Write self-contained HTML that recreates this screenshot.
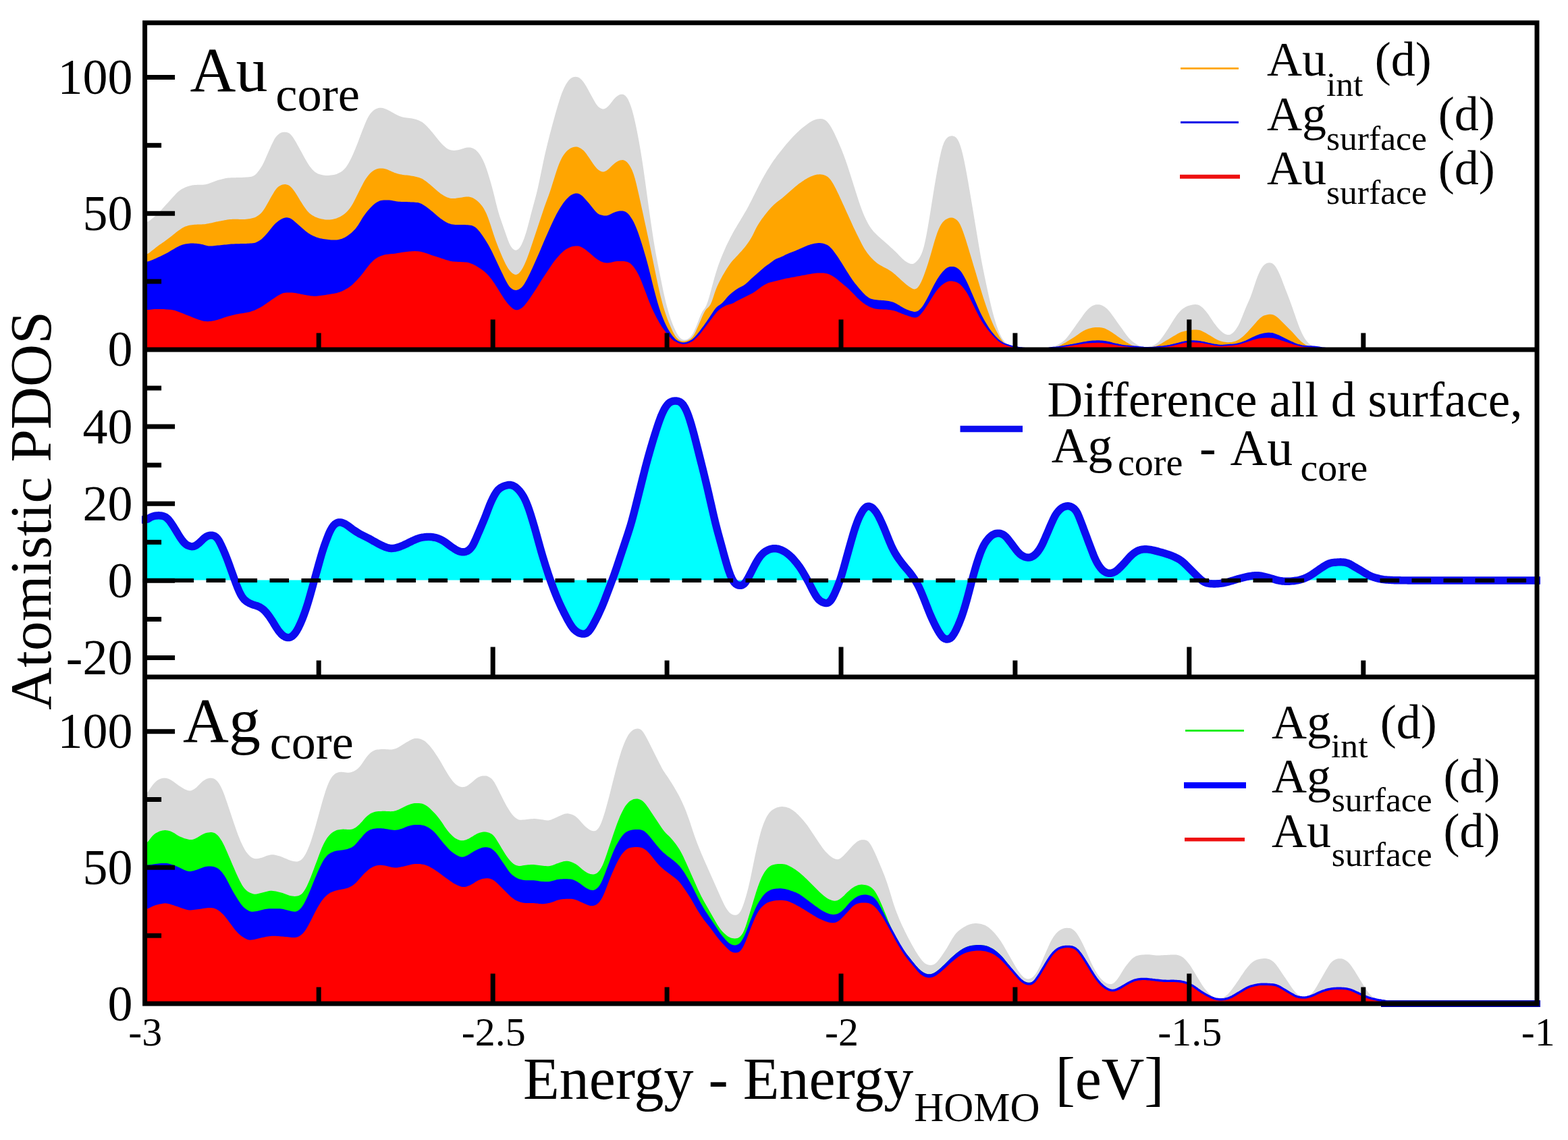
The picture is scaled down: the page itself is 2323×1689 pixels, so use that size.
<!DOCTYPE html>
<html lang="en"><head><meta charset="utf-8"><title>Atomistic PDOS</title>
<style>
html,body{margin:0;padding:0;background:#fff;}
body{width:2323px;height:1689px;}
svg{display:block;width:2323px;height:1689px;}
text{white-space:pre;}
</style></head>
<body>
<svg width="2323" height="1689" viewBox="0 0 2323 1689">
<rect width="2323" height="1689" fill="#ffffff"/>
<g id="panel1">
<path d="M214.6,517.9L214.6,329.2L216.6,329.1L218.6,328.5L220.6,327.5L222.6,326.2L224.6,324.6L226.6,323.0L228.6,321.3L230.6,319.6L232.6,317.7L234.6,315.7L236.6,313.6L238.6,311.4L240.6,309.2L242.6,307.0L244.6,304.8L246.6,302.6L248.6,300.4L250.6,298.2L252.6,296.0L254.6,293.8L256.6,291.6L258.6,289.4L260.6,287.3L262.6,285.3L264.6,283.5L266.6,282.0L268.6,280.6L270.6,279.5L272.6,278.5L274.6,277.6L276.6,276.8L278.6,276.1L280.6,275.5L282.6,275.0L284.6,274.6L286.6,274.2L288.6,274.0L290.6,273.9L292.6,273.8L294.6,273.8L296.6,273.8L298.6,273.8L300.6,273.7L302.6,273.5L304.6,273.2L306.6,272.7L308.6,272.2L310.6,271.5L312.6,270.8L314.6,270.0L316.6,269.2L318.6,268.4L320.6,267.7L322.6,267.1L324.6,266.5L326.6,265.9L328.6,265.4L330.6,264.9L332.6,264.4L334.6,264.1L336.6,263.8L338.6,263.5L340.6,263.4L342.6,263.3L344.6,263.2L346.6,263.2L348.6,263.2L350.6,263.1L352.6,263.1L354.6,263.0L356.6,263.0L358.6,262.9L360.6,262.8L362.6,262.7L364.6,262.5L366.6,262.4L368.6,262.2L370.6,262.0L372.6,261.7L374.6,261.1L376.6,260.0L378.6,258.4L380.6,256.4L382.6,254.0L384.6,251.3L386.6,248.3L388.6,244.9L390.6,241.0L392.6,236.7L394.6,232.1L396.6,227.5L398.6,222.9L400.6,218.4L402.6,214.0L404.6,209.9L406.6,206.1L408.6,203.1L410.6,200.7L412.6,198.9L414.6,197.6L416.6,196.6L418.6,196.0L420.6,195.7L422.6,195.7L424.6,195.9L426.6,196.5L428.6,197.6L430.6,199.3L432.6,201.5L434.6,204.3L436.6,207.4L438.6,210.8L440.6,214.4L442.6,218.0L444.6,221.7L446.6,225.3L448.6,229.0L450.6,232.7L452.6,236.3L454.6,239.7L456.6,243.0L458.6,245.9L460.6,248.6L462.6,250.9L464.6,253.0L466.6,254.7L468.6,256.1L470.6,257.2L472.6,258.0L474.6,258.6L476.6,259.1L478.6,259.5L480.6,259.8L482.6,259.9L484.6,259.9L486.6,259.9L488.6,259.8L490.6,259.6L492.6,259.3L494.6,259.0L496.6,258.5L498.6,257.9L500.6,257.1L502.6,256.1L504.6,255.0L506.6,253.7L508.6,252.0L510.6,250.1L512.6,247.7L514.6,244.8L516.6,241.5L518.6,237.7L520.6,233.7L522.6,229.4L524.6,224.8L526.6,220.1L528.6,215.1L530.6,209.9L532.6,204.6L534.6,199.3L536.6,194.0L538.6,188.9L540.6,183.9L542.6,179.2L544.6,174.9L546.6,171.4L548.6,168.5L550.6,166.2L552.6,164.3L554.6,162.7L556.6,161.5L558.6,160.7L560.6,160.1L562.6,159.8L564.6,159.8L566.6,160.1L568.6,160.6L570.6,161.2L572.6,162.0L574.6,162.9L576.6,163.9L578.6,165.0L580.6,166.2L582.6,167.3L584.6,168.4L586.6,169.5L588.6,170.5L590.6,171.4L592.6,172.2L594.6,173.0L596.6,173.6L598.6,174.0L600.6,174.3L602.6,174.6L604.6,174.7L606.6,174.9L608.6,175.2L610.6,175.5L612.6,175.9L614.6,176.4L616.6,177.0L618.6,177.7L620.6,178.4L622.6,179.4L624.6,180.5L626.6,181.8L628.6,183.4L630.6,185.2L632.6,187.3L634.6,189.4L636.6,191.6L638.6,193.9L640.6,196.3L642.6,198.8L644.6,201.2L646.6,203.7L648.6,206.2L650.6,208.7L652.6,211.0L654.6,213.2L656.6,215.2L658.6,217.1L660.6,218.8L662.6,220.2L664.6,221.3L666.6,222.1L668.6,222.6L670.6,222.8L672.6,222.9L674.6,222.8L676.6,222.5L678.6,222.2L680.6,221.8L682.6,221.2L684.6,220.6L686.6,219.9L688.6,219.3L690.6,218.8L692.6,218.4L694.6,218.4L696.6,218.6L698.6,219.0L700.6,219.7L702.6,220.7L704.6,222.1L706.6,223.9L708.6,226.0L710.6,228.7L712.6,231.8L714.6,235.4L716.6,239.6L718.6,244.3L720.6,249.8L722.6,255.8L724.6,262.2L726.6,269.0L728.6,276.1L730.6,283.6L732.6,291.4L734.6,299.7L736.6,307.7L738.6,315.0L740.6,321.4L742.6,327.3L744.6,333.1L746.6,338.8L748.6,344.5L750.6,350.2L752.6,355.7L754.6,360.7L756.6,364.6L758.6,367.4L760.6,369.3L762.6,370.4L764.6,370.7L766.6,370.1L768.6,368.5L770.6,365.9L772.6,362.5L774.6,358.1L776.6,353.0L778.6,347.1L780.6,340.4L782.6,333.1L784.6,325.4L786.6,317.6L788.6,309.9L790.6,302.6L792.6,295.3L794.6,287.7L796.6,279.4L798.6,270.3L800.6,260.7L802.6,250.9L804.6,241.3L806.6,232.0L808.6,223.3L810.6,215.0L812.6,206.9L814.6,199.1L816.6,191.5L818.6,184.0L820.6,176.7L822.6,169.5L824.6,162.5L826.6,155.7L828.6,149.2L830.6,143.1L832.6,137.6L834.6,132.7L836.6,128.5L838.6,124.8L840.6,121.7L842.6,119.1L844.6,117.1L846.6,115.6L848.6,114.6L850.6,114.0L852.6,113.8L854.6,113.9L856.6,114.5L858.6,115.6L860.6,117.2L862.6,119.2L864.6,121.7L866.6,124.7L868.6,128.0L870.6,131.5L872.6,135.2L874.6,138.9L876.6,142.5L878.6,146.2L880.6,149.8L882.6,153.2L884.6,156.0L886.6,158.2L888.6,159.8L890.6,160.8L892.6,161.4L894.6,161.4L896.6,160.8L898.6,159.5L900.6,157.8L902.6,155.7L904.6,153.3L906.6,150.7L908.6,148.1L910.6,145.7L912.6,143.7L914.6,142.2L916.6,140.9L918.6,140.1L920.6,139.7L922.6,139.8L924.6,140.5L926.6,142.0L928.6,144.3L930.6,147.6L932.6,151.9L934.6,157.2L936.6,163.6L938.6,171.1L940.6,179.5L942.6,188.7L944.6,198.7L946.6,209.4L948.6,220.9L950.6,233.0L952.6,246.0L954.6,259.9L956.6,274.3L958.6,289.0L960.6,303.5L962.6,317.7L964.6,331.6L966.6,345.1L968.6,358.0L970.6,369.9L972.6,380.9L974.6,391.3L976.6,401.3L978.6,411.3L980.6,421.3L982.6,430.9L984.6,440.0L986.6,448.4L988.6,456.1L990.6,463.1L992.6,469.5L994.6,475.2L996.6,480.4L998.6,485.2L1000.6,489.5L1002.6,493.4L1004.6,496.8L1006.6,499.5L1008.6,501.5L1010.6,502.8L1012.6,503.4L1014.6,503.6L1016.6,503.3L1018.6,502.5L1020.6,501.3L1022.6,499.5L1024.6,497.1L1026.6,493.9L1028.6,490.1L1030.6,485.7L1032.6,480.8L1034.6,475.5L1036.6,470.2L1038.6,465.4L1040.6,461.6L1042.6,458.7L1044.6,455.9L1046.6,452.0L1048.6,446.7L1050.6,440.2L1052.6,433.0L1054.6,425.6L1056.6,418.2L1058.6,411.0L1060.6,404.2L1062.6,397.9L1064.6,392.1L1066.6,386.7L1068.6,381.6L1070.6,376.7L1072.6,371.9L1074.6,367.4L1076.6,363.0L1078.6,358.9L1080.6,354.9L1082.6,351.0L1084.6,347.3L1086.6,343.6L1088.6,340.1L1090.6,336.7L1092.6,333.3L1094.6,330.0L1096.6,326.7L1098.6,323.3L1100.6,320.0L1102.6,316.6L1104.6,313.2L1106.6,309.7L1108.6,306.0L1110.6,302.1L1112.6,298.2L1114.6,294.2L1116.6,290.2L1118.6,286.2L1120.6,282.2L1122.6,278.2L1124.6,274.3L1126.6,270.4L1128.6,266.6L1130.6,263.0L1132.6,259.4L1134.6,256.0L1136.6,252.6L1138.6,249.4L1140.6,246.2L1142.6,243.0L1144.6,240.0L1146.6,237.1L1148.6,234.4L1150.6,231.6L1152.6,229.0L1154.6,226.4L1156.6,223.9L1158.6,221.4L1160.6,218.9L1162.6,216.5L1164.6,214.1L1166.6,211.7L1168.6,209.4L1170.6,207.2L1172.6,205.0L1174.6,202.8L1176.6,200.7L1178.6,198.7L1180.6,196.8L1182.6,194.9L1184.6,193.1L1186.6,191.3L1188.6,189.6L1190.6,188.0L1192.6,186.4L1194.6,184.9L1196.6,183.4L1198.6,182.1L1200.6,180.8L1202.6,179.6L1204.6,178.6L1206.6,177.7L1208.6,177.1L1210.6,176.6L1212.6,176.2L1214.6,176.0L1216.6,176.0L1218.6,176.3L1220.6,177.0L1222.6,178.1L1224.6,179.6L1226.6,181.7L1228.6,184.2L1230.6,187.2L1232.6,190.7L1234.6,194.5L1236.6,198.6L1238.6,202.9L1240.6,207.3L1242.6,211.8L1244.6,216.4L1246.6,221.2L1248.6,226.2L1250.6,231.4L1252.6,236.9L1254.6,242.7L1256.6,248.7L1258.6,255.0L1260.6,261.3L1262.6,267.6L1264.6,274.0L1266.6,280.3L1268.6,286.6L1270.6,292.8L1272.6,298.9L1274.6,304.7L1276.6,310.2L1278.6,315.4L1280.6,320.2L1282.6,324.6L1284.6,328.6L1286.6,332.3L1288.6,335.5L1290.6,338.5L1292.6,341.1L1294.6,343.4L1296.6,345.5L1298.6,347.5L1300.6,349.4L1302.6,351.2L1304.6,353.0L1306.6,354.8L1308.6,356.5L1310.6,358.3L1312.6,360.1L1314.6,361.8L1316.6,363.6L1318.6,365.4L1320.6,367.2L1322.6,369.0L1324.6,370.9L1326.6,372.8L1328.6,374.8L1330.6,376.8L1332.6,378.9L1334.6,380.9L1336.6,382.9L1338.6,384.7L1340.6,386.4L1342.6,387.8L1344.6,389.0L1346.6,389.9L1348.6,390.7L1350.6,391.1L1352.6,390.9L1354.6,390.1L1356.6,388.6L1358.6,386.6L1360.6,384.2L1362.6,381.2L1364.6,377.5L1366.6,372.5L1368.6,365.9L1370.6,357.6L1372.6,347.7L1374.6,336.6L1376.6,324.7L1378.6,312.4L1380.6,299.8L1382.6,287.3L1384.6,275.1L1386.6,263.4L1388.6,252.3L1390.6,241.8L1392.6,232.0L1394.6,223.3L1396.6,216.3L1398.6,210.9L1400.6,207.2L1402.6,204.7L1404.6,203.1L1406.6,202.0L1408.6,201.5L1410.6,201.3L1412.6,201.7L1414.6,202.6L1416.6,204.1L1418.6,206.5L1420.6,210.2L1422.6,215.4L1424.6,222.0L1426.6,229.9L1428.6,239.0L1430.6,249.2L1432.6,260.1L1434.6,271.3L1436.6,282.9L1438.6,294.7L1440.6,306.6L1442.6,318.6L1444.6,330.6L1446.6,342.6L1448.6,354.6L1450.6,366.5L1452.6,378.0L1454.6,389.0L1456.6,399.2L1458.6,408.9L1460.6,418.4L1462.6,427.9L1464.6,437.2L1466.6,446.1L1468.6,454.6L1470.6,462.5L1472.6,469.7L1474.6,476.4L1476.6,482.7L1478.6,488.4L1480.6,493.4L1482.6,497.6L1484.6,501.2L1486.6,504.0L1488.6,506.4L1490.6,508.3L1492.6,510.0L1494.6,511.5L1496.6,512.7L1498.6,513.6L1500.6,514.3L1502.6,514.8L1504.6,515.2L1506.6,515.5L1508.6,515.9L1510.6,516.2L1512.6,516.4L1514.6,516.7L1516.6,516.9L1518.6,517.1L1520.6,517.2L1522.6,517.3L1524.6,517.4L1526.6,517.4L1528.6,517.4L1530.6,517.4L1532.6,517.4L1534.6,517.3L1536.6,517.2L1538.6,517.1L1540.6,516.9L1542.6,516.7L1544.6,516.5L1546.6,516.2L1548.6,515.9L1550.6,515.6L1552.6,515.2L1554.6,514.8L1556.6,514.4L1558.6,513.9L1560.6,513.4L1562.6,512.7L1564.6,511.9L1566.6,511.0L1568.6,510.0L1570.6,508.8L1572.6,507.5L1574.6,506.0L1576.6,504.4L1578.6,502.4L1580.6,500.2L1582.6,497.7L1584.6,495.0L1586.6,492.3L1588.6,489.5L1590.6,486.7L1592.6,483.9L1594.6,481.1L1596.6,478.3L1598.6,475.5L1600.6,472.7L1602.6,469.9L1604.6,467.1L1606.6,464.3L1608.6,461.8L1610.6,459.4L1612.6,457.4L1614.6,455.7L1616.6,454.3L1618.6,453.1L1620.6,452.2L1622.6,451.6L1624.6,451.2L1626.6,451.2L1628.6,451.3L1630.6,451.7L1632.6,452.4L1634.6,453.5L1636.6,454.7L1638.6,456.3L1640.6,458.1L1642.6,460.2L1644.6,462.6L1646.6,465.3L1648.6,468.0L1650.6,470.8L1652.6,473.6L1654.6,476.4L1656.6,479.2L1658.6,482.0L1660.6,484.8L1662.6,487.6L1664.6,490.4L1666.6,493.2L1668.6,496.0L1670.6,498.6L1672.6,501.0L1674.6,503.1L1676.6,504.9L1678.6,506.5L1680.6,507.9L1682.6,509.2L1684.6,510.4L1686.6,511.5L1688.6,512.4L1690.6,513.1L1692.6,513.7L1694.6,514.0L1696.6,514.2L1698.6,514.2L1700.6,514.0L1702.6,513.6L1704.6,513.1L1706.6,512.4L1708.6,511.7L1710.6,510.7L1712.6,509.6L1714.6,508.1L1716.6,506.2L1718.6,504.0L1720.6,501.5L1722.6,498.8L1724.6,496.0L1726.6,493.1L1728.6,490.1L1730.6,487.0L1732.6,483.8L1734.6,480.6L1736.6,477.3L1738.6,474.1L1740.6,471.0L1742.6,468.0L1744.6,465.3L1746.6,462.9L1748.6,460.7L1750.6,458.8L1752.6,457.2L1754.6,455.9L1756.6,454.8L1758.6,453.8L1760.6,453.1L1762.6,452.4L1764.6,451.9L1766.6,451.5L1768.6,451.2L1770.6,451.1L1772.6,451.2L1774.6,451.6L1776.6,452.3L1778.6,453.5L1780.6,455.0L1782.6,456.8L1784.6,458.9L1786.6,461.2L1788.6,463.8L1790.6,466.5L1792.6,469.4L1794.6,472.4L1796.6,475.4L1798.6,478.4L1800.6,481.1L1802.6,483.7L1804.6,486.1L1806.6,488.3L1808.6,490.3L1810.6,492.1L1812.6,493.6L1814.6,494.8L1816.6,495.6L1818.6,496.1L1820.6,496.1L1822.6,495.7L1824.6,494.6L1826.6,493.0L1828.6,490.9L1830.6,488.4L1832.6,485.5L1834.6,482.2L1836.6,478.3L1838.6,473.6L1840.6,468.6L1842.6,463.4L1844.6,458.4L1846.6,453.7L1848.6,449.2L1850.6,444.8L1852.6,439.9L1854.6,434.4L1856.6,428.6L1858.6,422.5L1860.6,416.5L1862.6,410.9L1864.6,405.9L1866.6,401.7L1868.6,398.1L1870.6,395.1L1872.6,392.8L1874.6,391.2L1876.6,390.1L1878.6,389.5L1880.6,389.2L1882.6,389.4L1884.6,390.0L1886.6,391.4L1888.6,393.4L1890.6,396.3L1892.6,399.8L1894.6,403.8L1896.6,408.2L1898.6,413.1L1900.6,418.4L1902.6,423.8L1904.6,429.0L1906.6,434.1L1908.6,439.2L1910.6,444.5L1912.6,450.0L1914.6,455.6L1916.6,461.4L1918.6,467.1L1920.6,472.9L1922.6,478.6L1924.6,483.9L1926.6,488.8L1928.6,493.3L1930.6,497.3L1932.6,500.8L1934.6,503.8L1936.6,506.3L1938.6,508.4L1940.6,510.1L1942.6,511.4L1944.6,512.5L1946.6,513.3L1948.6,513.9L1950.6,514.3L1952.6,514.7L1954.6,514.9L1956.6,515.2L1958.6,515.4L1960.6,515.7L1962.6,515.9L1964.6,516.2L1966.6,516.4L1968.6,516.6L1970.6,516.9L1972.6,517.1L1974.6,517.3L1976.6,517.5L1978.6,517.8L1980.6,517.9L1982.6,517.9L1984.6,517.9L1986.6,517.9L1988.6,517.9L1990.6,517.9L1992.6,517.9L1994.6,517.9L1996.6,517.9L1998.6,517.9L2000.6,517.9L2002.6,517.9L2004.6,517.9L2006.6,517.9L2008.6,517.9L2010.6,517.9L2012.6,517.9L2014.6,517.9L2016.6,517.9L2018.6,517.9L2020.6,517.9L2022.6,517.9L2024.6,517.9L2026.6,517.9L2028.6,517.9L2030.6,517.9L2032.6,517.9L2034.6,517.9L2036.6,517.9L2038.6,517.9L2040.6,517.9L2042.6,517.9L2044.6,517.9L2046.6,517.9L2048.6,517.9L2050.6,517.9L2052.6,517.9L2054.6,517.9L2056.6,517.9L2058.6,517.9L2060.6,517.9L2062.6,517.9L2064.6,517.9L2066.6,517.9L2068.6,517.9L2070.6,517.9L2072.6,517.9L2074.6,517.9L2076.6,517.9L2078.6,517.9L2080.6,517.9L2082.6,517.9L2084.6,517.9L2086.6,517.9L2088.6,517.9L2090.6,517.9L2092.6,517.9L2094.6,517.9L2096.6,517.9L2098.6,517.9L2100.6,517.9L2102.6,517.9L2104.6,517.9L2106.6,517.9L2108.6,517.9L2110.6,517.9L2112.6,517.9L2114.6,517.9L2116.6,517.9L2118.6,517.9L2120.6,517.9L2122.6,517.9L2124.6,517.9L2126.6,517.9L2128.6,517.9L2130.6,517.9L2132.6,517.9L2134.6,517.9L2136.6,517.9L2138.6,517.9L2140.6,517.9L2142.6,517.9L2144.6,517.9L2146.6,517.9L2148.6,517.9L2150.6,517.9L2152.6,517.9L2154.6,517.9L2156.6,517.9L2158.6,517.9L2160.6,517.9L2162.6,517.9L2164.6,517.9L2166.6,517.9L2168.6,517.9L2170.6,517.9L2172.6,517.9L2174.6,517.9L2176.6,517.9L2178.6,517.9L2180.6,517.9L2182.6,517.9L2184.6,517.9L2186.6,517.9L2188.6,517.9L2190.6,517.9L2192.6,517.9L2194.6,517.9L2196.6,517.9L2198.6,517.9L2200.6,517.9L2202.6,517.9L2204.6,517.9L2206.6,517.9L2208.6,517.9L2210.6,517.9L2212.6,517.9L2214.6,517.9L2216.6,517.9L2218.6,517.9L2220.6,517.9L2222.6,517.9L2224.6,517.9L2226.6,517.9L2228.6,517.9L2230.6,517.9L2232.6,517.9L2234.6,517.9L2236.6,517.9L2238.6,517.9L2240.6,517.9L2242.6,517.9L2244.6,517.9L2246.6,517.9L2248.6,517.9L2250.6,517.9L2252.6,517.9L2254.6,517.9L2256.6,517.9L2258.6,517.9L2260.6,517.9L2262.6,517.9L2264.6,517.9L2266.6,517.9L2268.6,517.9L2270.6,517.9L2272.6,517.9L2274.6,517.9L2276.6,517.9L2276.6,517.9Z" fill="#d9d9d9"/>
<path d="M214.6,517.9L214.6,376.7L216.6,376.5L218.6,376.0L220.6,374.9L222.6,373.4L224.6,371.8L226.6,370.2L228.6,368.7L230.6,367.1L232.6,365.6L234.6,364.1L236.6,362.6L238.6,361.2L240.6,359.8L242.6,358.4L244.6,357.0L246.6,355.6L248.6,354.1L250.6,352.6L252.6,351.0L254.6,349.4L256.6,347.8L258.6,346.2L260.6,344.6L262.6,343.1L264.6,341.6L266.6,340.2L268.6,338.8L270.6,337.6L272.6,336.6L274.6,335.6L276.6,334.9L278.6,334.3L280.6,333.8L282.6,333.5L284.6,333.2L286.6,333.0L288.6,332.8L290.6,332.7L292.6,332.6L294.6,332.6L296.6,332.5L298.6,332.5L300.6,332.3L302.6,332.2L304.6,331.9L306.6,331.6L308.6,331.2L310.6,330.8L312.6,330.4L314.6,329.9L316.6,329.5L318.6,329.0L320.6,328.6L322.6,328.2L324.6,327.8L326.6,327.4L328.6,327.0L330.6,326.7L332.6,326.3L334.6,326.0L336.6,325.6L338.6,325.3L340.6,325.1L342.6,324.9L344.6,324.8L346.6,324.7L348.6,324.7L350.6,324.8L352.6,324.8L354.6,324.9L356.6,325.0L358.6,325.0L360.6,325.0L362.6,324.9L364.6,324.7L366.6,324.5L368.6,324.3L370.6,324.0L372.6,323.6L374.6,323.1L376.6,322.5L378.6,321.7L380.6,320.6L382.6,319.3L384.6,317.8L386.6,315.9L388.6,313.7L390.6,311.1L392.6,308.0L394.6,304.6L396.6,301.1L398.6,297.4L400.6,293.8L402.6,290.3L404.6,286.9L406.6,283.6L408.6,280.8L410.6,278.3L412.6,276.5L414.6,275.2L416.6,274.2L418.6,273.5L420.6,273.2L422.6,273.1L424.6,273.4L426.6,274.1L428.6,275.1L430.6,276.7L432.6,278.8L434.6,281.2L436.6,284.0L438.6,287.1L440.6,290.3L442.6,293.6L444.6,296.9L446.6,300.1L448.6,303.3L450.6,306.3L452.6,309.1L454.6,311.7L456.6,314.0L458.6,315.9L460.6,317.5L462.6,318.9L464.6,320.1L466.6,321.2L468.6,322.0L470.6,322.8L472.6,323.4L474.6,324.0L476.6,324.5L478.6,324.8L480.6,325.2L482.6,325.4L484.6,325.5L486.6,325.5L488.6,325.4L490.6,325.2L492.6,324.9L494.6,324.5L496.6,324.0L498.6,323.4L500.6,322.6L502.6,321.7L504.6,320.7L506.6,319.5L508.6,318.2L510.6,316.7L512.6,315.0L514.6,313.1L516.6,310.8L518.6,308.3L520.6,305.3L522.6,301.9L524.6,298.2L526.6,294.3L528.6,290.3L530.6,286.3L532.6,282.3L534.6,278.3L536.6,274.4L538.6,270.5L540.6,267.0L542.6,263.9L544.6,261.2L546.6,258.7L548.6,256.6L550.6,254.8L552.6,253.3L554.6,252.0L556.6,251.0L558.6,250.3L560.6,249.7L562.6,249.5L564.6,249.4L566.6,249.5L568.6,249.8L570.6,250.2L572.6,250.8L574.6,251.5L576.6,252.4L578.6,253.3L580.6,254.2L582.6,255.1L584.6,255.9L586.6,256.6L588.6,257.2L590.6,257.8L592.6,258.2L594.6,258.6L596.6,258.9L598.6,259.2L600.6,259.4L602.6,259.6L604.6,259.8L606.6,260.1L608.6,260.4L610.6,260.7L612.6,261.1L614.6,261.5L616.6,261.9L618.6,262.4L620.6,263.0L622.6,263.7L624.6,264.5L626.6,265.6L628.6,266.9L630.6,268.3L632.6,269.8L634.6,271.4L636.6,273.1L638.6,274.7L640.6,276.4L642.6,278.2L644.6,279.9L646.6,281.7L648.6,283.4L650.6,285.1L652.6,286.7L654.6,288.1L656.6,289.3L658.6,290.5L660.6,291.5L662.6,292.4L664.6,293.1L666.6,293.7L668.6,294.0L670.6,294.1L672.6,294.0L674.6,293.9L676.6,293.6L678.6,293.3L680.6,293.0L682.6,292.7L684.6,292.4L686.6,292.0L688.6,291.7L690.6,291.4L692.6,291.4L694.6,291.5L696.6,291.9L698.6,292.5L700.6,293.3L702.6,294.4L704.6,295.8L706.6,297.3L708.6,299.0L710.6,301.0L712.6,303.2L714.6,305.8L716.6,308.8L718.6,312.4L720.6,316.6L722.6,321.4L724.6,326.9L726.6,332.7L728.6,338.9L730.6,345.2L732.6,351.3L734.6,357.0L736.6,362.3L738.6,367.4L740.6,372.3L742.6,377.1L744.6,381.7L746.6,386.1L748.6,390.2L750.6,394.0L752.6,397.4L754.6,400.2L756.6,402.6L758.6,404.4L760.6,405.8L762.6,406.7L764.6,406.9L766.6,406.3L768.6,404.9L770.6,402.8L772.6,400.1L774.6,396.8L776.6,392.8L778.6,388.3L780.6,383.4L782.6,378.1L784.6,372.4L786.6,366.5L788.6,360.5L790.6,354.5L792.6,348.5L794.6,342.5L796.6,336.5L798.6,330.5L800.6,324.5L802.6,318.5L804.6,312.5L806.6,306.6L808.6,301.0L810.6,295.6L812.6,290.2L814.6,284.5L816.6,278.5L818.6,272.1L820.6,265.7L822.6,259.3L824.6,253.1L826.6,247.2L828.6,242.0L830.6,237.4L832.6,233.5L834.6,230.2L836.6,227.4L838.6,225.1L840.6,223.0L842.6,221.4L844.6,220.0L846.6,218.9L848.6,218.2L850.6,217.7L852.6,217.5L854.6,217.6L856.6,218.1L858.6,218.9L860.6,220.0L862.6,221.4L864.6,223.1L866.6,225.3L868.6,227.8L870.6,230.7L872.6,233.6L874.6,236.6L876.6,239.5L878.6,242.4L880.6,245.2L882.6,247.7L884.6,249.9L886.6,251.7L888.6,253.1L890.6,254.0L892.6,254.6L894.6,254.5L896.6,253.8L898.6,252.7L900.6,251.2L902.6,249.5L904.6,247.6L906.6,245.6L908.6,243.7L910.6,241.9L912.6,240.4L914.6,239.2L916.6,238.3L918.6,237.6L920.6,237.2L922.6,237.1L924.6,237.5L926.6,238.4L928.6,240.0L930.6,242.3L932.6,245.1L934.6,248.5L936.6,252.6L938.6,257.8L940.6,264.3L942.6,272.0L944.6,280.4L946.6,289.2L948.6,298.3L950.6,307.5L952.6,316.6L954.6,325.9L956.6,335.1L958.6,344.4L960.6,353.7L962.6,363.1L964.6,372.7L966.6,382.4L968.6,392.2L970.6,402.1L972.6,411.8L974.6,421.2L976.6,430.2L978.6,438.7L980.6,446.6L982.6,453.9L984.6,460.6L986.6,466.6L988.6,472.2L990.6,477.3L992.6,482.1L994.6,486.6L996.6,490.9L998.6,494.7L1000.6,497.9L1002.6,500.6L1004.6,502.6L1006.6,504.0L1008.6,504.9L1010.6,505.4L1012.6,505.5L1014.6,505.4L1016.6,505.0L1018.6,504.4L1020.6,503.6L1022.6,502.5L1024.6,500.8L1026.6,498.5L1028.6,495.3L1030.6,491.4L1032.6,487.0L1034.6,482.5L1036.6,477.8L1038.6,473.2L1040.6,468.6L1042.6,464.2L1044.6,460.5L1046.6,457.8L1048.6,455.9L1050.6,454.0L1052.6,451.1L1054.6,446.5L1056.6,440.7L1058.6,434.5L1060.6,429.0L1062.6,424.1L1064.6,419.7L1066.6,415.7L1068.6,411.9L1070.6,408.3L1072.6,404.9L1074.6,401.6L1076.6,398.3L1078.6,395.2L1080.6,392.2L1082.6,389.5L1084.6,387.0L1086.6,384.8L1088.6,382.7L1090.6,380.6L1092.6,378.5L1094.6,376.3L1096.6,374.1L1098.6,371.9L1100.6,369.6L1102.6,367.2L1104.6,364.8L1106.6,362.1L1108.6,359.3L1110.6,356.3L1112.6,353.0L1114.6,349.5L1116.6,345.5L1118.6,341.3L1120.6,337.3L1122.6,333.7L1124.6,330.4L1126.6,327.4L1128.6,324.6L1130.6,321.9L1132.6,319.2L1134.6,316.7L1136.6,314.2L1138.6,311.8L1140.6,309.5L1142.6,307.3L1144.6,305.2L1146.6,303.3L1148.6,301.4L1150.6,299.8L1152.6,298.2L1154.6,296.7L1156.6,295.2L1158.6,293.7L1160.6,292.0L1162.6,290.3L1164.6,288.6L1166.6,286.8L1168.6,285.1L1170.6,283.3L1172.6,281.6L1174.6,279.8L1176.6,278.1L1178.6,276.3L1180.6,274.7L1182.6,273.1L1184.6,271.6L1186.6,270.2L1188.6,268.8L1190.6,267.4L1192.6,266.1L1194.6,264.9L1196.6,263.7L1198.6,262.7L1200.6,261.7L1202.6,260.9L1204.6,260.2L1206.6,259.5L1208.6,259.0L1210.6,258.6L1212.6,258.4L1214.6,258.3L1216.6,258.4L1218.6,258.7L1220.6,259.2L1222.6,259.9L1224.6,261.0L1226.6,262.3L1228.6,264.2L1230.6,266.6L1232.6,269.5L1234.6,272.8L1236.6,276.4L1238.6,280.3L1240.6,284.4L1242.6,288.6L1244.6,292.9L1246.6,297.3L1248.6,301.7L1250.6,306.1L1252.6,310.5L1254.6,314.9L1256.6,319.3L1258.6,323.7L1260.6,328.1L1262.6,332.5L1264.6,336.9L1266.6,341.1L1268.6,345.2L1270.6,349.3L1272.6,353.2L1274.6,357.2L1276.6,361.2L1278.6,365.0L1280.6,368.5L1282.6,371.6L1284.6,374.5L1286.6,377.1L1288.6,379.5L1290.6,381.7L1292.6,383.8L1294.6,385.8L1296.6,387.6L1298.6,389.2L1300.6,390.7L1302.6,392.0L1304.6,393.2L1306.6,394.3L1308.6,395.4L1310.6,396.4L1312.6,397.5L1314.6,398.6L1316.6,399.7L1318.6,400.9L1320.6,402.3L1322.6,403.7L1324.6,405.4L1326.6,407.1L1328.6,408.9L1330.6,410.8L1332.6,412.6L1334.6,414.5L1336.6,416.3L1338.6,418.1L1340.6,419.8L1342.6,421.4L1344.6,422.9L1346.6,424.4L1348.6,425.7L1350.6,426.9L1352.6,427.9L1354.6,428.4L1356.6,428.1L1358.6,426.9L1360.6,424.7L1362.6,421.7L1364.6,417.9L1366.6,413.4L1368.6,408.5L1370.6,403.1L1372.6,397.3L1374.6,391.2L1376.6,384.7L1378.6,377.9L1380.6,370.9L1382.6,363.9L1384.6,357.1L1386.6,350.7L1388.6,344.8L1390.6,339.7L1392.6,335.4L1394.6,332.0L1396.6,329.3L1398.6,327.3L1400.6,325.6L1402.6,324.4L1404.6,323.4L1406.6,322.8L1408.6,322.5L1410.6,322.6L1412.6,323.0L1414.6,323.9L1416.6,325.2L1418.6,327.0L1420.6,329.6L1422.6,333.1L1424.6,337.6L1426.6,342.7L1428.6,348.5L1430.6,354.6L1432.6,361.0L1434.6,367.5L1436.6,374.2L1438.6,380.8L1440.6,387.5L1442.6,394.2L1444.6,400.8L1446.6,407.5L1448.6,414.2L1450.6,420.8L1452.6,427.5L1454.6,434.0L1456.6,440.4L1458.6,446.5L1460.6,452.5L1462.6,458.2L1464.6,463.8L1466.6,469.2L1468.6,474.3L1470.6,479.1L1472.6,483.4L1474.6,487.4L1476.6,491.3L1478.6,494.9L1480.6,498.5L1482.6,501.7L1484.6,504.6L1486.6,507.1L1488.6,509.1L1490.6,510.7L1492.6,511.8L1494.6,512.7L1496.6,513.4L1498.6,513.9L1500.6,514.3L1502.6,514.8L1504.6,515.2L1506.6,515.5L1508.6,515.9L1510.6,516.2L1512.6,516.4L1514.6,516.7L1516.6,516.9L1518.6,517.1L1520.6,517.2L1522.6,517.3L1524.6,517.4L1526.6,517.4L1528.6,517.4L1530.6,517.6L1532.6,517.7L1534.6,517.8L1536.6,517.9L1538.6,517.9L1540.6,517.9L1542.6,517.9L1544.6,517.9L1546.6,517.8L1548.6,517.6L1550.6,517.4L1552.6,517.2L1554.6,516.8L1556.6,516.5L1558.6,516.0L1560.6,515.5L1562.6,515.0L1564.6,514.3L1566.6,513.6L1568.6,512.7L1570.6,511.8L1572.6,510.7L1574.6,509.6L1576.6,508.5L1578.6,507.4L1580.6,506.2L1582.6,505.0L1584.6,503.8L1586.6,502.6L1588.6,501.3L1590.6,500.1L1592.6,498.7L1594.6,497.3L1596.6,495.9L1598.6,494.5L1600.6,493.1L1602.6,491.8L1604.6,490.6L1606.6,489.5L1608.6,488.6L1610.6,487.8L1612.6,487.0L1614.6,486.4L1616.6,485.9L1618.6,485.6L1620.6,485.3L1622.6,485.1L1624.6,485.1L1626.6,485.0L1628.6,485.1L1630.6,485.2L1632.6,485.4L1634.6,485.9L1636.6,486.5L1638.6,487.4L1640.6,488.4L1642.6,489.5L1644.6,490.8L1646.6,492.0L1648.6,493.3L1650.6,494.7L1652.6,496.1L1654.6,497.5L1656.6,498.9L1658.6,500.3L1660.6,501.7L1662.6,503.0L1664.6,504.4L1666.6,505.6L1668.6,506.9L1670.6,508.0L1672.6,509.2L1674.6,510.2L1676.6,511.2L1678.6,512.0L1680.6,512.7L1682.6,513.2L1684.6,513.7L1686.6,514.1L1688.6,514.4L1690.6,514.7L1692.6,514.9L1694.6,515.1L1696.6,515.2L1698.6,515.2L1700.6,515.2L1702.6,515.0L1704.6,514.7L1706.6,514.4L1708.6,513.9L1710.6,513.3L1712.6,512.7L1714.6,511.9L1716.6,511.0L1718.6,510.0L1720.6,508.9L1722.6,507.7L1724.6,506.5L1726.6,505.3L1728.6,504.1L1730.6,502.9L1732.6,501.7L1734.6,500.5L1736.6,499.3L1738.6,498.1L1740.6,496.9L1742.6,495.7L1744.6,494.6L1746.6,493.5L1748.6,492.6L1750.6,491.8L1752.6,491.2L1754.6,490.7L1756.6,490.2L1758.6,489.8L1760.6,489.4L1762.6,489.1L1764.6,488.9L1766.6,488.7L1768.6,488.6L1770.6,488.5L1772.6,488.6L1774.6,488.7L1776.6,489.0L1778.6,489.6L1780.6,490.4L1782.6,491.4L1784.6,492.4L1786.6,493.6L1788.6,494.7L1790.6,495.9L1792.6,497.1L1794.6,498.3L1796.6,499.5L1798.6,500.7L1800.6,501.9L1802.6,503.0L1804.6,504.0L1806.6,504.8L1808.6,505.5L1810.6,506.0L1812.6,506.5L1814.6,506.8L1816.6,507.0L1818.6,507.2L1820.6,507.2L1822.6,507.1L1824.6,506.9L1826.6,506.6L1828.6,506.1L1830.6,505.4L1832.6,504.6L1834.6,503.5L1836.6,502.3L1838.6,500.8L1840.6,499.2L1842.6,497.4L1844.6,495.5L1846.6,493.5L1848.6,491.4L1850.6,489.2L1852.6,487.0L1854.6,484.7L1856.6,482.5L1858.6,480.2L1860.6,477.9L1862.6,475.6L1864.6,473.5L1866.6,471.6L1868.6,470.0L1870.6,468.6L1872.6,467.6L1874.6,466.9L1876.6,466.4L1878.6,466.0L1880.6,465.8L1882.6,465.8L1884.6,466.0L1886.6,466.6L1888.6,467.6L1890.6,468.8L1892.6,470.3L1894.6,472.0L1896.6,473.9L1898.6,475.9L1900.6,477.9L1902.6,479.9L1904.6,481.9L1906.6,483.9L1908.6,485.9L1910.6,487.9L1912.6,489.9L1914.6,492.0L1916.6,494.2L1918.6,496.5L1920.6,498.7L1922.6,500.9L1924.6,502.9L1926.6,504.9L1928.6,506.7L1930.6,508.3L1932.6,509.7L1934.6,510.9L1936.6,511.9L1938.6,512.8L1940.6,513.4L1942.6,514.0L1944.6,514.3L1946.6,514.7L1948.6,515.0L1950.6,515.2L1952.6,515.5L1954.6,515.8L1956.6,516.1L1958.6,516.4L1960.6,516.6L1962.6,516.9L1964.6,517.2L1966.6,517.4L1968.6,517.7L1970.6,517.9L1972.6,517.9L1974.6,517.9L1976.6,517.9L1978.6,517.9L1980.6,517.9L1982.6,517.9L1984.6,517.9L1986.6,517.9L1988.6,517.9L1990.6,517.9L1992.6,517.9L1994.6,517.9L1996.6,517.9L1998.6,517.9L2000.6,517.9L2002.6,517.9L2004.6,517.9L2006.6,517.9L2008.6,517.9L2010.6,517.9L2012.6,517.9L2014.6,517.9L2016.6,517.9L2018.6,517.9L2020.6,517.9L2022.6,517.9L2024.6,517.9L2026.6,517.9L2028.6,517.9L2030.6,517.9L2032.6,517.9L2034.6,517.9L2036.6,517.9L2038.6,517.9L2040.6,517.9L2042.6,517.9L2044.6,517.9L2046.6,517.9L2048.6,517.9L2050.6,517.9L2052.6,517.9L2054.6,517.9L2056.6,517.9L2058.6,517.9L2060.6,517.9L2062.6,517.9L2064.6,517.9L2066.6,517.9L2068.6,517.9L2070.6,517.9L2072.6,517.9L2074.6,517.9L2076.6,517.9L2078.6,517.9L2080.6,517.9L2082.6,517.9L2084.6,517.9L2086.6,517.9L2088.6,517.9L2090.6,517.9L2092.6,517.9L2094.6,517.9L2096.6,517.9L2098.6,517.9L2100.6,517.9L2102.6,517.9L2104.6,517.9L2106.6,517.9L2108.6,517.9L2110.6,517.9L2112.6,517.9L2114.6,517.9L2116.6,517.9L2118.6,517.9L2120.6,517.9L2122.6,517.9L2124.6,517.9L2126.6,517.9L2128.6,517.9L2130.6,517.9L2132.6,517.9L2134.6,517.9L2136.6,517.9L2138.6,517.9L2140.6,517.9L2142.6,517.9L2144.6,517.9L2146.6,517.9L2148.6,517.9L2150.6,517.9L2152.6,517.9L2154.6,517.9L2156.6,517.9L2158.6,517.9L2160.6,517.9L2162.6,517.9L2164.6,517.9L2166.6,517.9L2168.6,517.9L2170.6,517.9L2172.6,517.9L2174.6,517.9L2176.6,517.9L2178.6,517.9L2180.6,517.9L2182.6,517.9L2184.6,517.9L2186.6,517.9L2188.6,517.9L2190.6,517.9L2192.6,517.9L2194.6,517.9L2196.6,517.9L2198.6,517.9L2200.6,517.9L2202.6,517.9L2204.6,517.9L2206.6,517.9L2208.6,517.9L2210.6,517.9L2212.6,517.9L2214.6,517.9L2216.6,517.9L2218.6,517.9L2220.6,517.9L2222.6,517.9L2224.6,517.9L2226.6,517.9L2228.6,517.9L2230.6,517.9L2232.6,517.9L2234.6,517.9L2236.6,517.9L2238.6,517.9L2240.6,517.9L2242.6,517.9L2244.6,517.9L2246.6,517.9L2248.6,517.9L2250.6,517.9L2252.6,517.9L2254.6,517.9L2256.6,517.9L2258.6,517.9L2260.6,517.9L2262.6,517.9L2264.6,517.9L2266.6,517.9L2268.6,517.9L2270.6,517.9L2272.6,517.9L2274.6,517.9L2276.6,517.9L2276.6,517.9Z" fill="#ffa500"/>
<path d="M214.6,517.9L214.6,388.0L216.6,387.9L218.6,387.6L220.6,387.1L222.6,386.3L224.6,385.5L226.6,384.7L228.6,383.8L230.6,382.9L232.6,382.0L234.6,381.1L236.6,380.2L238.6,379.3L240.6,378.3L242.6,377.3L244.6,376.3L246.6,375.2L248.6,374.2L250.6,373.0L252.6,371.8L254.6,370.6L256.6,369.4L258.6,368.2L260.6,367.0L262.6,366.0L264.6,365.0L266.6,364.1L268.6,363.3L270.6,362.6L272.6,362.1L274.6,361.6L276.6,361.2L278.6,360.9L280.6,360.7L282.6,360.6L284.6,360.5L286.6,360.6L288.6,360.7L290.6,360.8L292.6,361.0L294.6,361.2L296.6,361.5L298.6,361.9L300.6,362.3L302.6,362.9L304.6,363.5L306.6,364.1L308.6,364.5L310.6,364.6L312.6,364.5L314.6,364.4L316.6,364.2L318.6,364.0L320.6,363.8L322.6,363.6L324.6,363.4L326.6,363.2L328.6,363.0L330.6,362.8L332.6,362.6L334.6,362.4L336.6,362.2L338.6,362.0L340.6,361.8L342.6,361.6L344.6,361.5L346.6,361.4L348.6,361.3L350.6,361.2L352.6,361.2L354.6,361.2L356.6,361.1L358.6,361.1L360.6,361.0L362.6,360.9L364.6,360.9L366.6,360.8L368.6,360.7L370.6,360.6L372.6,360.5L374.6,360.3L376.6,359.9L378.6,359.4L380.6,358.6L382.6,357.6L384.6,356.3L386.6,354.9L388.6,353.2L390.6,351.3L392.6,349.2L394.6,347.0L396.6,344.7L398.6,342.2L400.6,339.7L402.6,337.2L404.6,334.8L406.6,332.6L408.6,330.6L410.6,328.9L412.6,327.3L414.6,326.0L416.6,324.8L418.6,323.7L420.6,322.9L422.6,322.4L424.6,322.2L426.6,322.4L428.6,322.9L430.6,323.8L432.6,325.0L434.6,326.5L436.6,328.2L438.6,330.0L440.6,331.7L442.6,333.5L444.6,335.2L446.6,337.0L448.6,338.7L450.6,340.5L452.6,342.2L454.6,343.8L456.6,345.3L458.6,346.6L460.6,347.7L462.6,348.8L464.6,349.7L466.6,350.6L468.6,351.4L470.6,352.1L472.6,352.7L474.6,353.2L476.6,353.6L478.6,354.0L480.6,354.3L482.6,354.6L484.6,354.8L486.6,355.0L488.6,355.2L490.6,355.4L492.6,355.4L494.6,355.5L496.6,355.5L498.6,355.4L500.6,355.2L502.6,354.8L504.6,354.3L506.6,353.7L508.6,352.8L510.6,351.9L512.6,350.8L514.6,349.5L516.6,348.1L518.6,346.6L520.6,345.0L522.6,343.1L524.6,341.1L526.6,338.9L528.6,336.3L530.6,333.4L532.6,330.2L534.6,326.9L536.6,323.6L538.6,320.6L540.6,317.7L542.6,315.1L544.6,312.6L546.6,310.2L548.6,308.0L550.6,305.9L552.6,303.9L554.6,302.2L556.6,300.7L558.6,299.4L560.6,298.4L562.6,297.6L564.6,297.1L566.6,296.8L568.6,296.6L570.6,296.5L572.6,296.5L574.6,296.5L576.6,296.6L578.6,296.8L580.6,297.1L582.6,297.4L584.6,297.8L586.6,298.2L588.6,298.4L590.6,298.7L592.6,298.8L594.6,298.9L596.6,299.0L598.6,299.0L600.6,299.1L602.6,299.1L604.6,299.2L606.6,299.3L608.6,299.4L610.6,299.5L612.6,299.6L614.6,299.7L616.6,299.9L618.6,300.1L620.6,300.6L622.6,301.2L624.6,302.1L626.6,303.2L628.6,304.4L630.6,305.7L632.6,307.2L634.6,308.7L636.6,310.2L638.6,311.9L640.6,313.6L642.6,315.3L644.6,317.1L646.6,318.8L648.6,320.5L650.6,322.1L652.6,323.7L654.6,325.1L656.6,326.5L658.6,327.8L660.6,328.9L662.6,330.0L664.6,330.9L666.6,331.6L668.6,332.2L670.6,332.6L672.6,332.8L674.6,333.0L676.6,333.0L678.6,333.0L680.6,333.0L682.6,333.0L684.6,333.0L686.6,333.0L688.6,333.1L690.6,333.2L692.6,333.3L694.6,333.4L696.6,333.7L698.6,334.1L700.6,334.7L702.6,335.7L704.6,337.1L706.6,338.8L708.6,340.9L710.6,343.3L712.6,345.9L714.6,348.7L716.6,351.7L718.6,354.8L720.6,358.0L722.6,361.3L724.6,364.7L726.6,368.4L728.6,372.3L730.6,376.5L732.6,380.7L734.6,384.9L736.6,389.2L738.6,393.4L740.6,397.7L742.6,401.9L744.6,406.1L746.6,410.3L748.6,414.3L750.6,418.1L752.6,421.5L754.6,424.4L756.6,426.5L758.6,428.1L760.6,429.2L762.6,429.8L764.6,429.9L766.6,429.6L768.6,428.8L770.6,427.6L772.6,425.9L774.6,423.7L776.6,420.9L778.6,417.6L780.6,413.9L782.6,410.0L784.6,405.9L786.6,401.7L788.6,397.4L790.6,393.0L792.6,388.5L794.6,384.1L796.6,379.5L798.6,374.9L800.6,370.2L802.6,365.5L804.6,360.7L806.6,356.0L808.6,351.4L810.6,346.9L812.6,342.4L814.6,338.0L816.6,333.6L818.6,329.3L820.6,325.1L822.6,321.0L824.6,317.1L826.6,313.5L828.6,310.0L830.6,306.8L832.6,303.7L834.6,300.8L836.6,298.2L838.6,295.8L840.6,293.7L842.6,291.7L844.6,290.1L846.6,288.7L848.6,287.7L850.6,286.9L852.6,286.5L854.6,286.4L856.6,286.8L858.6,287.5L860.6,288.7L862.6,290.3L864.6,292.3L866.6,294.5L868.6,296.7L870.6,299.0L872.6,301.3L874.6,303.8L876.6,306.3L878.6,308.8L880.6,311.3L882.6,313.5L884.6,315.4L886.6,316.9L888.6,317.9L890.6,318.6L892.6,319.1L894.6,319.4L896.6,319.5L898.6,319.4L900.6,319.0L902.6,318.2L904.6,317.3L906.6,316.2L908.6,315.2L910.6,314.4L912.6,313.7L914.6,313.2L916.6,312.8L918.6,312.5L920.6,312.4L922.6,312.5L924.6,313.0L926.6,313.8L928.6,315.1L930.6,316.8L932.6,319.1L934.6,321.9L936.6,325.0L938.6,328.6L940.6,332.7L942.6,337.4L944.6,342.6L946.6,348.3L948.6,354.3L950.6,360.6L952.6,367.0L954.6,373.7L956.6,380.6L958.6,387.8L960.6,395.3L962.6,403.2L964.6,411.3L966.6,419.4L968.6,427.4L970.6,435.1L972.6,442.4L974.6,449.4L976.6,455.9L978.6,461.9L980.6,467.4L982.6,472.5L984.6,477.2L986.6,481.5L988.6,485.4L990.6,489.0L992.6,492.2L994.6,495.2L996.6,497.9L998.6,500.3L1000.6,502.4L1002.6,504.0L1004.6,505.3L1006.6,506.3L1008.6,507.0L1010.6,507.5L1012.6,507.6L1014.6,507.4L1016.6,506.9L1018.6,506.3L1020.6,505.6L1022.6,504.6L1024.6,503.4L1026.6,501.8L1028.6,499.9L1030.6,497.8L1032.6,495.5L1034.6,493.0L1036.6,490.4L1038.6,487.7L1040.6,485.0L1042.6,482.4L1044.6,479.6L1046.6,476.7L1048.6,473.7L1050.6,470.7L1052.6,467.7L1054.6,464.7L1056.6,461.7L1058.6,458.8L1060.6,456.2L1062.6,454.2L1064.6,452.7L1066.6,451.5L1068.6,450.0L1070.6,448.2L1072.6,446.1L1074.6,443.7L1076.6,441.3L1078.6,439.0L1080.6,437.0L1082.6,435.2L1084.6,433.6L1086.6,432.1L1088.6,430.6L1090.6,429.1L1092.6,427.7L1094.6,426.5L1096.6,425.4L1098.6,424.4L1100.6,423.4L1102.6,422.2L1104.6,420.8L1106.6,419.1L1108.6,417.2L1110.6,415.2L1112.6,413.3L1114.6,411.5L1116.6,409.7L1118.6,408.0L1120.6,406.2L1122.6,404.5L1124.6,402.7L1126.6,401.0L1128.6,399.2L1130.6,397.5L1132.6,395.8L1134.6,394.3L1136.6,392.8L1138.6,391.5L1140.6,390.1L1142.6,388.6L1144.6,387.0L1146.6,385.5L1148.6,384.2L1150.6,383.2L1152.6,382.4L1154.6,381.7L1156.6,381.0L1158.6,380.1L1160.6,379.2L1162.6,378.1L1164.6,377.1L1166.6,376.2L1168.6,375.3L1170.6,374.5L1172.6,373.8L1174.6,373.1L1176.6,372.3L1178.6,371.4L1180.6,370.6L1182.6,369.7L1184.6,368.8L1186.6,368.0L1188.6,367.1L1190.6,366.2L1192.6,365.3L1194.6,364.5L1196.6,363.6L1198.6,362.9L1200.6,362.2L1202.6,361.7L1204.6,361.2L1206.6,360.8L1208.6,360.5L1210.6,360.3L1212.6,360.1L1214.6,360.1L1216.6,360.3L1218.6,360.6L1220.6,361.1L1222.6,361.7L1224.6,362.5L1226.6,363.6L1228.6,365.1L1230.6,366.9L1232.6,369.1L1234.6,371.6L1236.6,374.2L1238.6,376.9L1240.6,379.7L1242.6,382.8L1244.6,385.9L1246.6,389.1L1248.6,392.3L1250.6,395.5L1252.6,398.7L1254.6,401.9L1256.6,405.1L1258.6,408.3L1260.6,411.3L1262.6,414.3L1264.6,417.0L1266.6,419.7L1268.6,422.1L1270.6,424.5L1272.6,426.9L1274.6,429.2L1276.6,431.5L1278.6,433.7L1280.6,435.8L1282.6,437.7L1284.6,439.3L1286.6,440.8L1288.6,441.9L1290.6,442.7L1292.6,443.3L1294.6,443.7L1296.6,444.0L1298.6,444.3L1300.6,444.5L1302.6,444.7L1304.6,444.8L1306.6,444.9L1308.6,445.1L1310.6,445.2L1312.6,445.5L1314.6,445.8L1316.6,446.1L1318.6,446.5L1320.6,447.0L1322.6,447.6L1324.6,448.3L1326.6,449.2L1328.6,450.2L1330.6,451.4L1332.6,452.6L1334.6,453.9L1336.6,455.1L1338.6,456.3L1340.6,457.3L1342.6,458.2L1344.6,459.0L1346.6,459.8L1348.6,460.5L1350.6,461.1L1352.6,461.6L1354.6,461.9L1356.6,461.8L1358.6,461.3L1360.6,460.2L1362.6,458.6L1364.6,456.5L1366.6,453.9L1368.6,450.9L1370.6,447.6L1372.6,444.1L1374.6,440.3L1376.6,436.4L1378.6,432.3L1380.6,428.2L1382.6,424.2L1384.6,420.4L1386.6,416.9L1388.6,413.6L1390.6,410.5L1392.6,407.6L1394.6,405.0L1396.6,402.6L1398.6,400.5L1400.6,398.6L1402.6,397.1L1404.6,396.0L1406.6,395.2L1408.6,394.9L1410.6,394.9L1412.6,395.1L1414.6,395.6L1416.6,396.3L1418.6,397.4L1420.6,398.9L1422.6,401.0L1424.6,403.6L1426.6,406.7L1428.6,410.2L1430.6,413.9L1432.6,418.0L1434.6,422.3L1436.6,426.8L1438.6,431.4L1440.6,436.1L1442.6,440.7L1444.6,445.4L1446.6,450.1L1448.6,454.7L1450.6,459.2L1452.6,463.4L1454.6,467.5L1456.6,471.3L1458.6,474.9L1460.6,478.3L1462.6,481.6L1464.6,484.8L1466.6,487.7L1468.6,490.5L1470.6,493.1L1472.6,495.5L1474.6,497.8L1476.6,499.9L1478.6,501.9L1480.6,503.8L1482.6,505.5L1484.6,507.0L1486.6,508.4L1488.6,509.7L1490.6,510.8L1492.6,511.8L1494.6,512.7L1496.6,513.4L1498.6,513.9L1500.6,514.3L1502.6,514.8L1504.6,515.2L1506.6,515.5L1508.6,515.9L1510.6,516.2L1512.6,516.4L1514.6,516.7L1516.6,516.9L1518.6,517.1L1520.6,517.2L1522.6,517.3L1524.6,517.4L1526.6,517.4L1528.6,517.4L1530.6,517.6L1532.6,517.7L1534.6,517.8L1536.6,517.9L1538.6,517.9L1540.6,517.9L1542.6,517.9L1544.6,517.9L1546.6,517.8L1548.6,517.6L1550.6,517.4L1552.6,517.2L1554.6,516.8L1556.6,516.5L1558.6,516.0L1560.6,515.8L1562.6,515.5L1564.6,515.2L1566.6,514.9L1568.6,514.5L1570.6,514.1L1572.6,513.7L1574.6,513.3L1576.6,512.9L1578.6,512.4L1580.6,512.0L1582.6,511.5L1584.6,511.1L1586.6,510.6L1588.6,510.2L1590.6,509.7L1592.6,509.2L1594.6,508.7L1596.6,508.3L1598.6,507.8L1600.6,507.4L1602.6,507.0L1604.6,506.6L1606.6,506.3L1608.6,505.9L1610.6,505.6L1612.6,505.3L1614.6,505.1L1616.6,504.8L1618.6,504.6L1620.6,504.5L1622.6,504.4L1624.6,504.3L1626.6,504.3L1628.6,504.3L1630.6,504.4L1632.6,504.5L1634.6,504.7L1636.6,504.9L1638.6,505.3L1640.6,505.7L1642.6,506.1L1644.6,506.6L1646.6,507.1L1648.6,507.7L1650.6,508.2L1652.6,508.7L1654.6,509.1L1656.6,509.6L1658.6,510.0L1660.6,510.5L1662.6,510.9L1664.6,511.4L1666.6,511.8L1668.6,512.2L1670.6,512.6L1672.6,513.0L1674.6,513.4L1676.6,513.7L1678.6,514.1L1680.6,514.4L1682.6,514.7L1684.6,514.9L1686.6,515.2L1688.6,515.4L1690.6,515.6L1692.6,515.8L1694.6,516.0L1696.6,516.1L1698.6,516.2L1700.6,516.3L1702.6,516.3L1704.6,516.2L1706.6,516.2L1708.6,516.0L1710.6,515.8L1712.6,515.6L1714.6,515.3L1716.6,515.0L1718.6,514.5L1720.6,514.1L1722.6,513.6L1724.6,513.1L1726.6,512.6L1728.6,512.1L1730.6,511.6L1732.6,511.1L1734.6,510.6L1736.6,510.1L1738.6,509.6L1740.6,509.1L1742.6,508.6L1744.6,508.1L1746.6,507.6L1748.6,507.1L1750.6,506.6L1752.6,506.1L1754.6,505.6L1756.6,505.2L1758.6,504.9L1760.6,504.6L1762.6,504.4L1764.6,504.3L1766.6,504.3L1768.6,504.3L1770.6,504.4L1772.6,504.5L1774.6,504.7L1776.6,505.0L1778.6,505.3L1780.6,505.7L1782.6,506.1L1784.6,506.6L1786.6,507.1L1788.6,507.7L1790.6,508.2L1792.6,508.7L1794.6,509.1L1796.6,509.6L1798.6,510.0L1800.6,510.4L1802.6,510.8L1804.6,511.1L1806.6,511.4L1808.6,511.6L1810.6,511.7L1812.6,511.8L1814.6,511.7L1816.6,511.6L1818.6,511.5L1820.6,511.3L1822.6,511.1L1824.6,510.8L1826.6,510.6L1828.6,510.2L1830.6,509.8L1832.6,509.4L1834.6,508.8L1836.6,508.2L1838.6,507.4L1840.6,506.6L1842.6,505.8L1844.6,504.9L1846.6,503.9L1848.6,502.9L1850.6,501.9L1852.6,501.0L1854.6,500.0L1856.6,499.1L1858.6,498.2L1860.6,497.3L1862.6,496.5L1864.6,495.7L1866.6,495.0L1868.6,494.4L1870.6,493.9L1872.6,493.5L1874.6,493.2L1876.6,492.9L1878.6,492.8L1880.6,492.8L1882.6,492.9L1884.6,493.1L1886.6,493.6L1888.6,494.2L1890.6,494.9L1892.6,495.7L1894.6,496.6L1896.6,497.5L1898.6,498.4L1900.6,499.4L1902.6,500.4L1904.6,501.4L1906.6,502.4L1908.6,503.4L1910.6,504.4L1912.6,505.4L1914.6,506.3L1916.6,507.3L1918.6,508.2L1920.6,509.0L1922.6,509.9L1924.6,510.6L1926.6,511.3L1928.6,512.0L1930.6,512.5L1932.6,513.0L1934.6,513.5L1936.6,513.8L1938.6,514.1L1940.6,514.3L1942.6,514.5L1944.6,514.7L1946.6,514.8L1948.6,515.0L1950.6,515.2L1952.6,515.5L1954.6,515.8L1956.6,516.1L1958.6,516.4L1960.6,516.6L1962.6,516.9L1964.6,517.2L1966.6,517.4L1968.6,517.7L1970.6,517.9L1972.6,517.9L1974.6,517.9L1976.6,517.9L1978.6,517.9L1980.6,517.9L1982.6,517.9L1984.6,517.9L1986.6,517.9L1988.6,517.9L1990.6,517.9L1992.6,517.9L1994.6,517.9L1996.6,517.9L1998.6,517.9L2000.6,517.9L2002.6,517.9L2004.6,517.9L2006.6,517.9L2008.6,517.9L2010.6,517.9L2012.6,517.9L2014.6,517.9L2016.6,517.9L2018.6,517.9L2020.6,517.9L2022.6,517.9L2024.6,517.9L2026.6,517.9L2028.6,517.9L2030.6,517.9L2032.6,517.9L2034.6,517.9L2036.6,517.9L2038.6,517.9L2040.6,517.9L2042.6,517.9L2044.6,517.9L2046.6,517.9L2048.6,517.9L2050.6,517.9L2052.6,517.9L2054.6,517.9L2056.6,517.9L2058.6,517.9L2060.6,517.9L2062.6,517.9L2064.6,517.9L2066.6,517.9L2068.6,517.9L2070.6,517.9L2072.6,517.9L2074.6,517.9L2076.6,517.9L2078.6,517.9L2080.6,517.9L2082.6,517.9L2084.6,517.9L2086.6,517.9L2088.6,517.9L2090.6,517.9L2092.6,517.9L2094.6,517.9L2096.6,517.9L2098.6,517.9L2100.6,517.9L2102.6,517.9L2104.6,517.9L2106.6,517.9L2108.6,517.9L2110.6,517.9L2112.6,517.9L2114.6,517.9L2116.6,517.9L2118.6,517.9L2120.6,517.9L2122.6,517.9L2124.6,517.9L2126.6,517.9L2128.6,517.9L2130.6,517.9L2132.6,517.9L2134.6,517.9L2136.6,517.9L2138.6,517.9L2140.6,517.9L2142.6,517.9L2144.6,517.9L2146.6,517.9L2148.6,517.9L2150.6,517.9L2152.6,517.9L2154.6,517.9L2156.6,517.9L2158.6,517.9L2160.6,517.9L2162.6,517.9L2164.6,517.9L2166.6,517.9L2168.6,517.9L2170.6,517.9L2172.6,517.9L2174.6,517.9L2176.6,517.9L2178.6,517.9L2180.6,517.9L2182.6,517.9L2184.6,517.9L2186.6,517.9L2188.6,517.9L2190.6,517.9L2192.6,517.9L2194.6,517.9L2196.6,517.9L2198.6,517.9L2200.6,517.9L2202.6,517.9L2204.6,517.9L2206.6,517.9L2208.6,517.9L2210.6,517.9L2212.6,517.9L2214.6,517.9L2216.6,517.9L2218.6,517.9L2220.6,517.9L2222.6,517.9L2224.6,517.9L2226.6,517.9L2228.6,517.9L2230.6,517.9L2232.6,517.9L2234.6,517.9L2236.6,517.9L2238.6,517.9L2240.6,517.9L2242.6,517.9L2244.6,517.9L2246.6,517.9L2248.6,517.9L2250.6,517.9L2252.6,517.9L2254.6,517.9L2256.6,517.9L2258.6,517.9L2260.6,517.9L2262.6,517.9L2264.6,517.9L2266.6,517.9L2268.6,517.9L2270.6,517.9L2272.6,517.9L2274.6,517.9L2276.6,517.9L2276.6,517.9Z" fill="#0000ff"/>
<path d="M214.6,459.2L216.6,459.2L218.6,459.1L220.6,458.9L222.6,458.7L224.6,458.5L226.6,458.3L228.6,458.1L230.6,458.0L232.6,458.0L234.6,458.0L236.6,458.0L238.6,458.0L240.6,458.1L242.6,458.1L244.6,458.2L246.6,458.4L248.6,458.5L250.6,458.7L252.6,458.8L254.6,459.0L256.6,459.4L258.6,459.8L260.6,460.4L262.6,461.2L264.6,461.9L266.6,462.7L268.6,463.5L270.6,464.3L272.6,465.1L274.6,465.9L276.6,466.7L278.6,467.5L280.6,468.3L282.6,469.1L284.6,469.9L286.6,470.7L288.6,471.5L290.6,472.2L292.6,473.0L294.6,473.7L296.6,474.3L298.6,475.0L300.6,475.5L302.6,475.9L304.6,476.1L306.6,476.2L308.6,476.2L310.6,476.1L312.6,475.9L314.6,475.6L316.6,475.3L318.6,474.8L320.6,474.3L322.6,473.7L324.6,473.1L326.6,472.4L328.6,471.7L330.6,471.0L332.6,470.3L334.6,469.7L336.6,469.1L338.6,468.6L340.6,468.0L342.6,467.5L344.6,467.0L346.6,466.5L348.6,466.1L350.6,465.6L352.6,465.2L354.6,464.8L356.6,464.5L358.6,464.2L360.6,463.9L362.6,463.6L364.6,463.2L366.6,462.8L368.6,462.4L370.6,461.9L372.6,461.3L374.6,460.6L376.6,459.9L378.6,459.1L380.6,458.1L382.6,457.1L384.6,456.0L386.6,454.9L388.6,453.7L390.6,452.4L392.6,451.1L394.6,449.7L396.6,448.3L398.6,446.9L400.6,445.5L402.6,444.1L404.6,442.7L406.6,441.4L408.6,440.0L410.6,438.7L412.6,437.5L414.6,436.4L416.6,435.4L418.6,434.6L420.6,434.1L422.6,433.8L424.6,433.6L426.6,433.5L428.6,433.5L430.6,433.6L432.6,433.6L434.6,433.8L436.6,434.0L438.6,434.3L440.6,434.7L442.6,435.1L444.6,435.5L446.6,435.9L448.6,436.3L450.6,436.7L452.6,437.0L454.6,437.4L456.6,437.8L458.6,438.1L460.6,438.4L462.6,438.6L464.6,438.7L466.6,438.8L468.6,438.7L470.6,438.5L472.6,438.3L474.6,438.0L476.6,437.8L478.6,437.5L480.6,437.2L482.6,436.9L484.6,436.6L486.6,436.3L488.6,436.0L490.6,435.6L492.6,435.3L494.6,434.9L496.6,434.6L498.6,434.2L500.6,433.6L502.6,433.0L504.6,432.2L506.6,431.4L508.6,430.4L510.6,429.4L512.6,428.3L514.6,427.2L516.6,425.9L518.6,424.5L520.6,422.9L522.6,421.2L524.6,419.3L526.6,417.3L528.6,415.2L530.6,413.0L532.6,410.7L534.6,408.4L536.6,405.9L538.6,403.4L540.6,400.8L542.6,398.1L544.6,395.5L546.6,392.9L548.6,390.5L550.6,388.4L552.6,386.4L554.6,384.7L556.6,383.2L558.6,381.9L560.6,380.8L562.6,379.9L564.6,379.1L566.6,378.4L568.6,377.8L570.6,377.3L572.6,376.9L574.6,376.7L576.6,376.4L578.6,376.3L580.6,376.1L582.6,375.9L584.6,375.7L586.6,375.4L588.6,375.1L590.6,374.8L592.6,374.4L594.6,374.1L596.6,373.8L598.6,373.5L600.6,373.2L602.6,373.0L604.6,372.8L606.6,372.6L608.6,372.4L610.6,372.3L612.6,372.2L614.6,372.1L616.6,372.2L618.6,372.3L620.6,372.5L622.6,372.8L624.6,373.2L626.6,373.7L628.6,374.3L630.6,374.9L632.6,375.6L634.6,376.3L636.6,377.0L638.6,377.7L640.6,378.4L642.6,379.0L644.6,379.7L646.6,380.3L648.6,381.0L650.6,381.6L652.6,382.3L654.6,382.9L656.6,383.6L658.6,384.2L660.6,384.9L662.6,385.5L664.6,386.1L666.6,386.7L668.6,387.1L670.6,387.4L672.6,387.6L674.6,387.7L676.6,387.8L678.6,387.9L680.6,388.0L682.6,388.1L684.6,388.2L686.6,388.3L688.6,388.4L690.6,388.6L692.6,388.8L694.6,389.3L696.6,389.9L698.6,390.7L700.6,391.6L702.6,392.6L704.6,393.6L706.6,394.7L708.6,395.9L710.6,397.2L712.6,398.6L714.6,400.1L716.6,401.6L718.6,403.3L720.6,405.1L722.6,407.1L724.6,409.2L726.6,411.7L728.6,414.3L730.6,417.2L732.6,420.1L734.6,423.2L736.6,426.3L738.6,429.5L740.6,432.8L742.6,436.0L744.6,439.1L746.6,442.2L748.6,445.0L750.6,447.7L752.6,450.2L754.6,452.5L756.6,454.5L758.6,456.3L760.6,457.7L762.6,458.7L764.6,459.2L766.6,459.2L768.6,458.7L770.6,457.8L772.6,456.5L774.6,454.9L776.6,452.9L778.6,450.6L780.6,448.0L782.6,445.3L784.6,442.5L786.6,439.6L788.6,436.6L790.6,433.6L792.6,430.6L794.6,427.5L796.6,424.3L798.6,421.0L800.6,417.8L802.6,414.6L804.6,411.6L806.6,408.6L808.6,405.6L810.6,402.6L812.6,399.6L814.6,396.6L816.6,393.6L818.6,390.6L820.6,387.8L822.6,385.2L824.6,382.8L826.6,380.4L828.6,378.2L830.6,376.1L832.6,374.2L834.6,372.3L836.6,370.7L838.6,369.3L840.6,368.2L842.6,367.2L844.6,366.3L846.6,365.6L848.6,365.1L850.6,364.7L852.6,364.4L854.6,364.4L856.6,364.5L858.6,364.9L860.6,365.7L862.6,366.7L864.6,367.9L866.6,369.3L868.6,370.8L870.6,372.4L872.6,374.0L874.6,375.7L876.6,377.4L878.6,379.2L880.6,380.9L882.6,382.6L884.6,384.0L886.6,385.3L888.6,386.5L890.6,387.4L892.6,388.2L894.6,388.9L896.6,389.3L898.6,389.6L900.6,389.6L902.6,389.3L904.6,388.9L906.6,388.4L908.6,387.9L910.6,387.6L912.6,387.3L914.6,387.1L916.6,387.0L918.6,386.9L920.6,386.9L922.6,387.0L924.6,387.1L926.6,387.4L928.6,387.8L930.6,388.5L932.6,389.6L934.6,391.1L936.6,393.0L938.6,395.3L940.6,397.9L942.6,400.9L944.6,404.4L946.6,408.3L948.6,412.7L950.6,417.6L952.6,422.7L954.6,428.0L956.6,433.3L958.6,438.6L960.6,443.9L962.6,449.0L964.6,453.8L966.6,458.3L968.6,462.5L970.6,466.5L972.6,470.4L974.6,474.1L976.6,477.7L978.6,481.1L980.6,484.2L982.6,487.1L984.6,489.8L986.6,492.5L988.6,495.0L990.6,497.5L992.6,499.7L994.6,501.7L996.6,503.5L998.6,504.9L1000.6,506.1L1002.6,507.1L1004.6,508.0L1006.6,508.7L1008.6,509.3L1010.6,509.7L1012.6,509.9L1014.6,509.8L1016.6,509.5L1018.6,508.9L1020.6,508.2L1022.6,507.3L1024.6,506.2L1026.6,504.9L1028.6,503.4L1030.6,501.6L1032.6,499.6L1034.6,497.5L1036.6,495.2L1038.6,492.8L1040.6,490.3L1042.6,487.6L1044.6,485.0L1046.6,482.3L1048.6,479.7L1050.6,477.0L1052.6,474.3L1054.6,471.7L1056.6,469.0L1058.6,466.4L1060.6,463.9L1062.6,461.6L1064.6,459.7L1066.6,458.0L1068.6,456.6L1070.6,455.3L1072.6,454.2L1074.6,453.1L1076.6,452.2L1078.6,451.5L1080.6,451.0L1082.6,450.5L1084.6,449.8L1086.6,448.9L1088.6,447.8L1090.6,446.6L1092.6,445.6L1094.6,444.6L1096.6,443.6L1098.6,442.6L1100.6,441.6L1102.6,440.6L1104.6,439.6L1106.6,438.6L1108.6,437.6L1110.6,436.6L1112.6,435.6L1114.6,434.5L1116.6,433.3L1118.6,432.0L1120.6,430.5L1122.6,429.0L1124.6,427.5L1126.6,426.1L1128.6,424.6L1130.6,423.3L1132.6,422.1L1134.6,421.0L1136.6,420.0L1138.6,419.1L1140.6,418.5L1142.6,417.9L1144.6,417.4L1146.6,416.9L1148.6,416.4L1150.6,415.9L1152.6,415.4L1154.6,414.9L1156.6,414.4L1158.6,413.9L1160.6,413.4L1162.6,413.0L1164.6,412.6L1166.6,412.2L1168.6,411.9L1170.6,411.5L1172.6,411.1L1174.6,410.7L1176.6,410.4L1178.6,410.0L1180.6,409.6L1182.6,409.2L1184.6,408.9L1186.6,408.5L1188.6,408.1L1190.6,407.7L1192.6,407.4L1194.6,407.0L1196.6,406.6L1198.6,406.2L1200.6,405.9L1202.6,405.6L1204.6,405.3L1206.6,405.0L1208.6,404.8L1210.6,404.6L1212.6,404.5L1214.6,404.4L1216.6,404.4L1218.6,404.5L1220.6,404.6L1222.6,404.9L1224.6,405.3L1226.6,405.8L1228.6,406.6L1230.6,407.5L1232.6,408.6L1234.6,409.8L1236.6,411.1L1238.6,412.5L1240.6,414.1L1242.6,415.7L1244.6,417.4L1246.6,419.1L1248.6,420.7L1250.6,422.4L1252.6,424.1L1254.6,425.8L1256.6,427.6L1258.6,429.5L1260.6,431.4L1262.6,433.5L1264.6,435.6L1266.6,437.6L1268.6,439.7L1270.6,441.7L1272.6,443.6L1274.6,445.4L1276.6,447.1L1278.6,448.7L1280.6,450.1L1282.6,451.4L1284.6,452.6L1286.6,453.7L1288.6,454.7L1290.6,455.6L1292.6,456.3L1294.6,457.0L1296.6,457.4L1298.6,457.8L1300.6,458.0L1302.6,458.2L1304.6,458.2L1306.6,458.3L1308.6,458.4L1310.6,458.4L1312.6,458.6L1314.6,458.8L1316.6,459.0L1318.6,459.2L1320.6,459.5L1322.6,459.9L1324.6,460.3L1326.6,460.9L1328.6,461.6L1330.6,462.4L1332.6,463.2L1334.6,464.0L1336.6,464.9L1338.6,465.6L1340.6,466.4L1342.6,467.1L1344.6,467.8L1346.6,468.5L1348.6,469.1L1350.6,469.7L1352.6,470.2L1354.6,470.6L1356.6,470.5L1358.6,470.0L1360.6,468.9L1362.6,467.3L1364.6,465.1L1366.6,462.6L1368.6,459.9L1370.6,457.0L1372.6,454.0L1374.6,450.9L1376.6,447.7L1378.6,444.4L1380.6,441.2L1382.6,438.0L1384.6,435.0L1386.6,432.1L1388.6,429.5L1390.6,427.1L1392.6,425.0L1394.6,423.0L1396.6,421.4L1398.6,419.9L1400.6,418.7L1402.6,417.8L1404.6,417.1L1406.6,416.6L1408.6,416.5L1410.6,416.6L1412.6,416.9L1414.6,417.3L1416.6,417.9L1418.6,418.8L1420.6,419.9L1422.6,421.5L1424.6,423.5L1426.6,425.8L1428.6,428.3L1430.6,431.0L1432.6,434.1L1434.6,437.5L1436.6,441.3L1438.6,445.2L1440.6,449.2L1442.6,453.2L1444.6,457.2L1446.6,461.2L1448.6,465.1L1450.6,469.0L1452.6,472.6L1454.6,475.9L1456.6,479.1L1458.6,482.0L1460.6,484.8L1462.6,487.4L1464.6,489.9L1466.6,492.4L1468.6,494.8L1470.6,497.0L1472.6,499.2L1474.6,501.2L1476.6,503.1L1478.6,504.9L1480.6,506.4L1482.6,507.8L1484.6,508.9L1486.6,509.9L1488.6,510.8L1490.6,511.6L1492.6,512.2L1494.6,512.8L1496.6,513.4L1498.6,513.9L1500.6,514.3L1502.6,514.8L1504.6,515.2L1506.6,515.5L1508.6,515.9L1510.6,516.2L1512.6,516.4L1514.6,516.7L1516.6,516.9L1518.6,517.1L1520.6,517.2L1522.6,517.3L1524.6,517.4L1526.6,517.4L1528.6,517.4L1530.6,517.6L1532.6,517.7L1534.6,517.8L1536.6,517.9L1538.6,517.9L1540.6,517.9L1542.6,517.9L1544.6,517.9L1546.6,517.8L1548.6,517.6L1550.6,517.4L1552.6,517.2L1554.6,516.8L1556.6,516.5L1558.6,516.2L1560.6,516.0L1562.6,515.9L1564.6,515.7L1566.6,515.4L1568.6,515.2L1570.6,514.9L1572.6,514.6L1574.6,514.3L1576.6,514.0L1578.6,513.6L1580.6,513.3L1582.6,513.0L1584.6,512.6L1586.6,512.3L1588.6,512.0L1590.6,511.6L1592.6,511.3L1594.6,511.0L1596.6,510.7L1598.6,510.3L1600.6,510.0L1602.6,509.7L1604.6,509.3L1606.6,509.0L1608.6,508.8L1610.6,508.6L1612.6,508.4L1614.6,508.3L1616.6,508.2L1618.6,508.1L1620.6,508.0L1622.6,507.9L1624.6,507.8L1626.6,507.8L1628.6,507.8L1630.6,507.9L1632.6,508.1L1634.6,508.2L1636.6,508.5L1638.6,508.8L1640.6,509.0L1642.6,509.4L1644.6,509.7L1646.6,510.0L1648.6,510.4L1650.6,510.8L1652.6,511.2L1654.6,511.5L1656.6,511.9L1658.6,512.2L1660.6,512.6L1662.6,512.9L1664.6,513.2L1666.6,513.4L1668.6,513.6L1670.6,513.8L1672.6,514.0L1674.6,514.2L1676.6,514.4L1678.6,514.5L1680.6,514.7L1682.6,514.8L1684.6,514.9L1686.6,515.2L1688.6,515.4L1690.6,515.6L1692.6,515.8L1694.6,516.0L1696.6,516.1L1698.6,516.2L1700.6,516.3L1702.6,516.3L1704.6,516.2L1706.6,516.2L1708.6,516.0L1710.6,515.8L1712.6,515.6L1714.6,515.3L1716.6,515.0L1718.6,514.8L1720.6,514.6L1722.6,514.5L1724.6,514.3L1726.6,514.0L1728.6,513.8L1730.6,513.5L1732.6,513.2L1734.6,512.8L1736.6,512.4L1738.6,512.0L1740.6,511.6L1742.6,511.1L1744.6,510.6L1746.6,510.1L1748.6,509.5L1750.6,509.0L1752.6,508.5L1754.6,508.1L1756.6,507.8L1758.6,507.6L1760.6,507.4L1762.6,507.3L1764.6,507.3L1766.6,507.3L1768.6,507.3L1770.6,507.3L1772.6,507.4L1774.6,507.5L1776.6,507.6L1778.6,507.9L1780.6,508.1L1782.6,508.5L1784.6,508.9L1786.6,509.3L1788.6,509.7L1790.6,510.1L1792.6,510.5L1794.6,510.9L1796.6,511.3L1798.6,511.7L1800.6,512.0L1802.6,512.3L1804.6,512.6L1806.6,512.8L1808.6,512.9L1810.6,512.9L1812.6,512.8L1814.6,512.6L1816.6,512.4L1818.6,512.3L1820.6,512.1L1822.6,512.0L1824.6,511.9L1826.6,511.8L1828.6,511.6L1830.6,511.3L1832.6,510.9L1834.6,510.5L1836.6,509.9L1838.6,509.4L1840.6,508.8L1842.6,508.2L1844.6,507.5L1846.6,506.9L1848.6,506.2L1850.6,505.5L1852.6,504.9L1854.6,504.2L1856.6,503.6L1858.6,503.1L1860.6,502.5L1862.6,502.0L1864.6,501.6L1866.6,501.3L1868.6,501.0L1870.6,500.8L1872.6,500.7L1874.6,500.6L1876.6,500.5L1878.6,500.5L1880.6,500.6L1882.6,500.7L1884.6,500.8L1886.6,501.1L1888.6,501.5L1890.6,501.9L1892.6,502.5L1894.6,503.1L1896.6,503.7L1898.6,504.4L1900.6,505.0L1902.6,505.7L1904.6,506.4L1906.6,507.0L1908.6,507.7L1910.6,508.4L1912.6,509.1L1914.6,509.8L1916.6,510.5L1918.6,511.1L1920.6,511.6L1922.6,512.1L1924.6,512.5L1926.6,513.0L1928.6,513.4L1930.6,513.7L1932.6,514.0L1934.6,514.2L1936.6,514.3L1938.6,514.4L1940.6,514.5L1942.6,514.5L1944.6,514.7L1946.6,514.8L1948.6,515.0L1950.6,515.2L1952.6,515.5L1954.6,515.8L1956.6,516.1L1958.6,516.4L1960.6,516.6L1962.6,516.9L1964.6,517.2L1966.6,517.4L1968.6,517.7L1970.6,517.9L1972.6,517.9L1974.6,517.9L1976.6,517.9L1978.6,517.9L1980.6,517.9L1982.6,517.9L1984.6,517.9L1986.6,517.9L1988.6,517.9L1990.6,517.9L1992.6,517.9L1994.6,517.9L1996.6,517.9L1998.6,517.9L2000.6,517.9L2002.6,517.9L2004.6,517.9L2006.6,517.9L2008.6,517.9L2010.6,517.9L2012.6,517.9L2014.6,517.9L2016.6,517.9L2018.6,517.9L2020.6,517.9L2022.6,517.9L2024.6,517.9L2026.6,517.9L2028.6,517.9L2030.6,517.9L2032.6,517.9L2034.6,517.9L2036.6,517.9L2038.6,517.9L2040.6,517.9L2042.6,517.9L2044.6,517.9L2046.6,517.9L2048.6,517.9L2050.6,517.9L2052.6,517.9L2054.6,517.9L2056.6,517.9L2058.6,517.9L2060.6,517.9L2062.6,517.9L2064.6,517.9L2066.6,517.9L2068.6,517.9L2070.6,517.9L2072.6,517.9L2074.6,517.9L2076.6,517.9L2078.6,517.9L2080.6,517.9L2082.6,517.9L2084.6,517.9L2086.6,517.9L2088.6,517.9L2090.6,517.9L2092.6,517.9L2094.6,517.9L2096.6,517.9L2098.6,517.9L2100.6,517.9L2102.6,517.9L2104.6,517.9L2106.6,517.9L2108.6,517.9L2110.6,517.9L2112.6,517.9L2114.6,517.9L2116.6,517.9L2118.6,517.9L2120.6,517.9L2122.6,517.9L2124.6,517.9L2126.6,517.9L2128.6,517.9L2130.6,517.9L2132.6,517.9L2134.6,517.9L2136.6,517.9L2138.6,517.9L2140.6,517.9L2142.6,517.9L2144.6,517.9L2146.6,517.9L2148.6,517.9L2150.6,517.9L2152.6,517.9L2154.6,517.9L2156.6,517.9L2158.6,517.9L2160.6,517.9L2162.6,517.9L2164.6,517.9L2166.6,517.9L2168.6,517.9L2170.6,517.9L2172.6,517.9L2174.6,517.9L2176.6,517.9L2178.6,517.9L2180.6,517.9L2182.6,517.9L2184.6,517.9L2186.6,517.9L2188.6,517.9L2190.6,517.9L2192.6,517.9L2194.6,517.9L2196.6,517.9L2198.6,517.9L2200.6,517.9L2202.6,517.9L2204.6,517.9L2206.6,517.9L2208.6,517.9L2210.6,517.9L2212.6,517.9L2214.6,517.9L2216.6,517.9L2218.6,517.9L2220.6,517.9L2222.6,517.9L2224.6,517.9L2226.6,517.9L2228.6,517.9L2230.6,517.9L2232.6,517.9L2234.6,517.9L2236.6,517.9L2238.6,517.9L2240.6,517.9L2242.6,517.9L2244.6,517.9L2246.6,517.9L2248.6,517.9L2250.6,517.9L2252.6,517.9L2254.6,517.9L2256.6,517.9L2258.6,517.9L2260.6,517.9L2262.6,517.9L2264.6,517.9L2266.6,517.9L2268.6,517.9L2270.6,517.9L2272.6,517.9L2274.6,517.9L2276.6,517.9" fill="none" stroke="#0000ff" stroke-width="4.4" stroke-linejoin="round"/>
<path d="M214.6,517.9L214.6,459.2L216.6,459.2L218.6,459.1L220.6,458.9L222.6,458.7L224.6,458.5L226.6,458.3L228.6,458.1L230.6,458.0L232.6,458.0L234.6,458.0L236.6,458.0L238.6,458.0L240.6,458.1L242.6,458.1L244.6,458.2L246.6,458.4L248.6,458.5L250.6,458.7L252.6,458.8L254.6,459.0L256.6,459.4L258.6,459.8L260.6,460.4L262.6,461.2L264.6,461.9L266.6,462.7L268.6,463.5L270.6,464.3L272.6,465.1L274.6,465.9L276.6,466.7L278.6,467.5L280.6,468.3L282.6,469.1L284.6,469.9L286.6,470.7L288.6,471.5L290.6,472.2L292.6,473.0L294.6,473.7L296.6,474.3L298.6,475.0L300.6,475.5L302.6,475.9L304.6,476.1L306.6,476.2L308.6,476.2L310.6,476.1L312.6,475.9L314.6,475.6L316.6,475.3L318.6,474.8L320.6,474.3L322.6,473.7L324.6,473.1L326.6,472.4L328.6,471.7L330.6,471.0L332.6,470.3L334.6,469.7L336.6,469.1L338.6,468.6L340.6,468.0L342.6,467.5L344.6,467.0L346.6,466.5L348.6,466.1L350.6,465.6L352.6,465.2L354.6,464.8L356.6,464.5L358.6,464.2L360.6,463.9L362.6,463.6L364.6,463.2L366.6,462.8L368.6,462.4L370.6,461.9L372.6,461.3L374.6,460.6L376.6,459.9L378.6,459.1L380.6,458.1L382.6,457.1L384.6,456.0L386.6,454.9L388.6,453.7L390.6,452.4L392.6,451.1L394.6,449.7L396.6,448.3L398.6,446.9L400.6,445.5L402.6,444.1L404.6,442.7L406.6,441.4L408.6,440.0L410.6,438.7L412.6,437.5L414.6,436.4L416.6,435.4L418.6,434.6L420.6,434.1L422.6,433.8L424.6,433.6L426.6,433.5L428.6,433.5L430.6,433.6L432.6,433.6L434.6,433.8L436.6,434.0L438.6,434.3L440.6,434.7L442.6,435.1L444.6,435.5L446.6,435.9L448.6,436.3L450.6,436.7L452.6,437.0L454.6,437.4L456.6,437.8L458.6,438.1L460.6,438.4L462.6,438.6L464.6,438.7L466.6,438.8L468.6,438.7L470.6,438.5L472.6,438.3L474.6,438.0L476.6,437.8L478.6,437.5L480.6,437.2L482.6,436.9L484.6,436.6L486.6,436.3L488.6,436.0L490.6,435.6L492.6,435.3L494.6,434.9L496.6,434.6L498.6,434.2L500.6,433.6L502.6,433.0L504.6,432.2L506.6,431.4L508.6,430.4L510.6,429.4L512.6,428.3L514.6,427.2L516.6,425.9L518.6,424.5L520.6,422.9L522.6,421.2L524.6,419.3L526.6,417.3L528.6,415.2L530.6,413.0L532.6,410.7L534.6,408.4L536.6,405.9L538.6,403.4L540.6,400.8L542.6,398.1L544.6,395.5L546.6,392.9L548.6,390.5L550.6,388.4L552.6,386.4L554.6,384.7L556.6,383.2L558.6,381.9L560.6,380.8L562.6,379.9L564.6,379.1L566.6,378.4L568.6,377.8L570.6,377.3L572.6,376.9L574.6,376.7L576.6,376.4L578.6,376.3L580.6,376.1L582.6,375.9L584.6,375.7L586.6,375.4L588.6,375.1L590.6,374.8L592.6,374.4L594.6,374.1L596.6,373.8L598.6,373.5L600.6,373.2L602.6,373.0L604.6,372.8L606.6,372.6L608.6,372.4L610.6,372.3L612.6,372.2L614.6,372.1L616.6,372.2L618.6,372.3L620.6,372.5L622.6,372.8L624.6,373.2L626.6,373.7L628.6,374.3L630.6,374.9L632.6,375.6L634.6,376.3L636.6,377.0L638.6,377.7L640.6,378.4L642.6,379.0L644.6,379.7L646.6,380.3L648.6,381.0L650.6,381.6L652.6,382.3L654.6,382.9L656.6,383.6L658.6,384.2L660.6,384.9L662.6,385.5L664.6,386.1L666.6,386.7L668.6,387.1L670.6,387.4L672.6,387.6L674.6,387.7L676.6,387.8L678.6,387.9L680.6,388.0L682.6,388.1L684.6,388.2L686.6,388.3L688.6,388.4L690.6,388.6L692.6,388.8L694.6,389.3L696.6,389.9L698.6,390.7L700.6,391.6L702.6,392.6L704.6,393.6L706.6,394.7L708.6,395.9L710.6,397.2L712.6,398.6L714.6,400.1L716.6,401.6L718.6,403.3L720.6,405.1L722.6,407.1L724.6,409.2L726.6,411.7L728.6,414.3L730.6,417.2L732.6,420.1L734.6,423.2L736.6,426.3L738.6,429.5L740.6,432.8L742.6,436.0L744.6,439.1L746.6,442.2L748.6,445.0L750.6,447.7L752.6,450.2L754.6,452.5L756.6,454.5L758.6,456.3L760.6,457.7L762.6,458.7L764.6,459.2L766.6,459.2L768.6,458.7L770.6,457.8L772.6,456.5L774.6,454.9L776.6,452.9L778.6,450.6L780.6,448.0L782.6,445.3L784.6,442.5L786.6,439.6L788.6,436.6L790.6,433.6L792.6,430.6L794.6,427.5L796.6,424.3L798.6,421.0L800.6,417.8L802.6,414.6L804.6,411.6L806.6,408.6L808.6,405.6L810.6,402.6L812.6,399.6L814.6,396.6L816.6,393.6L818.6,390.6L820.6,387.8L822.6,385.2L824.6,382.8L826.6,380.4L828.6,378.2L830.6,376.1L832.6,374.2L834.6,372.3L836.6,370.7L838.6,369.3L840.6,368.2L842.6,367.2L844.6,366.3L846.6,365.6L848.6,365.1L850.6,364.7L852.6,364.4L854.6,364.4L856.6,364.5L858.6,364.9L860.6,365.7L862.6,366.7L864.6,367.9L866.6,369.3L868.6,370.8L870.6,372.4L872.6,374.0L874.6,375.7L876.6,377.4L878.6,379.2L880.6,380.9L882.6,382.6L884.6,384.0L886.6,385.3L888.6,386.5L890.6,387.4L892.6,388.2L894.6,388.9L896.6,389.3L898.6,389.6L900.6,389.6L902.6,389.3L904.6,388.9L906.6,388.4L908.6,387.9L910.6,387.6L912.6,387.3L914.6,387.1L916.6,387.0L918.6,386.9L920.6,386.9L922.6,387.0L924.6,387.1L926.6,387.4L928.6,387.8L930.6,388.5L932.6,389.6L934.6,391.1L936.6,393.0L938.6,395.3L940.6,397.9L942.6,400.9L944.6,404.4L946.6,408.3L948.6,412.7L950.6,417.6L952.6,422.7L954.6,428.0L956.6,433.3L958.6,438.6L960.6,443.9L962.6,449.0L964.6,453.8L966.6,458.3L968.6,462.5L970.6,466.5L972.6,470.4L974.6,474.1L976.6,477.7L978.6,481.1L980.6,484.2L982.6,487.1L984.6,489.8L986.6,492.5L988.6,495.0L990.6,497.5L992.6,499.7L994.6,501.7L996.6,503.5L998.6,504.9L1000.6,506.1L1002.6,507.1L1004.6,508.0L1006.6,508.7L1008.6,509.3L1010.6,509.7L1012.6,509.9L1014.6,509.8L1016.6,509.5L1018.6,508.9L1020.6,508.2L1022.6,507.3L1024.6,506.2L1026.6,504.9L1028.6,503.4L1030.6,501.6L1032.6,499.6L1034.6,497.5L1036.6,495.2L1038.6,492.8L1040.6,490.3L1042.6,487.6L1044.6,485.0L1046.6,482.3L1048.6,479.7L1050.6,477.0L1052.6,474.3L1054.6,471.7L1056.6,469.0L1058.6,466.4L1060.6,463.9L1062.6,461.6L1064.6,459.7L1066.6,458.0L1068.6,456.6L1070.6,455.3L1072.6,454.2L1074.6,453.1L1076.6,452.2L1078.6,451.5L1080.6,451.0L1082.6,450.5L1084.6,449.8L1086.6,448.9L1088.6,447.8L1090.6,446.6L1092.6,445.6L1094.6,444.6L1096.6,443.6L1098.6,442.6L1100.6,441.6L1102.6,440.6L1104.6,439.6L1106.6,438.6L1108.6,437.6L1110.6,436.6L1112.6,435.6L1114.6,434.5L1116.6,433.3L1118.6,432.0L1120.6,430.5L1122.6,429.0L1124.6,427.5L1126.6,426.1L1128.6,424.6L1130.6,423.3L1132.6,422.1L1134.6,421.0L1136.6,420.0L1138.6,419.1L1140.6,418.5L1142.6,417.9L1144.6,417.4L1146.6,416.9L1148.6,416.4L1150.6,415.9L1152.6,415.4L1154.6,414.9L1156.6,414.4L1158.6,413.9L1160.6,413.4L1162.6,413.0L1164.6,412.6L1166.6,412.2L1168.6,411.9L1170.6,411.5L1172.6,411.1L1174.6,410.7L1176.6,410.4L1178.6,410.0L1180.6,409.6L1182.6,409.2L1184.6,408.9L1186.6,408.5L1188.6,408.1L1190.6,407.7L1192.6,407.4L1194.6,407.0L1196.6,406.6L1198.6,406.2L1200.6,405.9L1202.6,405.6L1204.6,405.3L1206.6,405.0L1208.6,404.8L1210.6,404.6L1212.6,404.5L1214.6,404.4L1216.6,404.4L1218.6,404.5L1220.6,404.6L1222.6,404.9L1224.6,405.3L1226.6,405.8L1228.6,406.6L1230.6,407.5L1232.6,408.6L1234.6,409.8L1236.6,411.1L1238.6,412.5L1240.6,414.1L1242.6,415.7L1244.6,417.4L1246.6,419.1L1248.6,420.7L1250.6,422.4L1252.6,424.1L1254.6,425.8L1256.6,427.6L1258.6,429.5L1260.6,431.4L1262.6,433.5L1264.6,435.6L1266.6,437.6L1268.6,439.7L1270.6,441.7L1272.6,443.6L1274.6,445.4L1276.6,447.1L1278.6,448.7L1280.6,450.1L1282.6,451.4L1284.6,452.6L1286.6,453.7L1288.6,454.7L1290.6,455.6L1292.6,456.3L1294.6,457.0L1296.6,457.4L1298.6,457.8L1300.6,458.0L1302.6,458.2L1304.6,458.2L1306.6,458.3L1308.6,458.4L1310.6,458.4L1312.6,458.6L1314.6,458.8L1316.6,459.0L1318.6,459.2L1320.6,459.5L1322.6,459.9L1324.6,460.3L1326.6,460.9L1328.6,461.6L1330.6,462.4L1332.6,463.2L1334.6,464.0L1336.6,464.9L1338.6,465.6L1340.6,466.4L1342.6,467.1L1344.6,467.8L1346.6,468.5L1348.6,469.1L1350.6,469.7L1352.6,470.2L1354.6,470.6L1356.6,470.5L1358.6,470.0L1360.6,468.9L1362.6,467.3L1364.6,465.1L1366.6,462.6L1368.6,459.9L1370.6,457.0L1372.6,454.0L1374.6,450.9L1376.6,447.7L1378.6,444.4L1380.6,441.2L1382.6,438.0L1384.6,435.0L1386.6,432.1L1388.6,429.5L1390.6,427.1L1392.6,425.0L1394.6,423.0L1396.6,421.4L1398.6,419.9L1400.6,418.7L1402.6,417.8L1404.6,417.1L1406.6,416.6L1408.6,416.5L1410.6,416.6L1412.6,416.9L1414.6,417.3L1416.6,417.9L1418.6,418.8L1420.6,419.9L1422.6,421.5L1424.6,423.5L1426.6,425.8L1428.6,428.3L1430.6,431.0L1432.6,434.1L1434.6,437.5L1436.6,441.3L1438.6,445.2L1440.6,449.2L1442.6,453.2L1444.6,457.2L1446.6,461.2L1448.6,465.1L1450.6,469.0L1452.6,472.6L1454.6,475.9L1456.6,479.1L1458.6,482.0L1460.6,484.8L1462.6,487.4L1464.6,489.9L1466.6,492.4L1468.6,494.8L1470.6,497.0L1472.6,499.2L1474.6,501.2L1476.6,503.1L1478.6,504.9L1480.6,506.4L1482.6,507.8L1484.6,508.9L1486.6,509.9L1488.6,510.8L1490.6,511.6L1492.6,512.2L1494.6,512.8L1496.6,513.4L1498.6,513.9L1500.6,514.3L1502.6,514.8L1504.6,515.2L1506.6,515.5L1508.6,515.9L1510.6,516.2L1512.6,516.4L1514.6,516.7L1516.6,516.9L1518.6,517.1L1520.6,517.2L1522.6,517.3L1524.6,517.4L1526.6,517.4L1528.6,517.4L1530.6,517.6L1532.6,517.7L1534.6,517.8L1536.6,517.9L1538.6,517.9L1540.6,517.9L1542.6,517.9L1544.6,517.9L1546.6,517.8L1548.6,517.6L1550.6,517.4L1552.6,517.2L1554.6,516.8L1556.6,516.5L1558.6,516.2L1560.6,516.0L1562.6,515.9L1564.6,515.7L1566.6,515.4L1568.6,515.2L1570.6,514.9L1572.6,514.6L1574.6,514.3L1576.6,514.0L1578.6,513.6L1580.6,513.3L1582.6,513.0L1584.6,512.6L1586.6,512.3L1588.6,512.0L1590.6,511.6L1592.6,511.3L1594.6,511.0L1596.6,510.7L1598.6,510.3L1600.6,510.0L1602.6,509.7L1604.6,509.3L1606.6,509.0L1608.6,508.8L1610.6,508.6L1612.6,508.4L1614.6,508.3L1616.6,508.2L1618.6,508.1L1620.6,508.0L1622.6,507.9L1624.6,507.8L1626.6,507.8L1628.6,507.8L1630.6,507.9L1632.6,508.1L1634.6,508.2L1636.6,508.5L1638.6,508.8L1640.6,509.0L1642.6,509.4L1644.6,509.7L1646.6,510.0L1648.6,510.4L1650.6,510.8L1652.6,511.2L1654.6,511.5L1656.6,511.9L1658.6,512.2L1660.6,512.6L1662.6,512.9L1664.6,513.2L1666.6,513.4L1668.6,513.6L1670.6,513.8L1672.6,514.0L1674.6,514.2L1676.6,514.4L1678.6,514.5L1680.6,514.7L1682.6,514.8L1684.6,514.9L1686.6,515.2L1688.6,515.4L1690.6,515.6L1692.6,515.8L1694.6,516.0L1696.6,516.1L1698.6,516.2L1700.6,516.3L1702.6,516.3L1704.6,516.2L1706.6,516.2L1708.6,516.0L1710.6,515.8L1712.6,515.6L1714.6,515.3L1716.6,515.0L1718.6,514.8L1720.6,514.6L1722.6,514.5L1724.6,514.3L1726.6,514.0L1728.6,513.8L1730.6,513.5L1732.6,513.2L1734.6,512.8L1736.6,512.4L1738.6,512.0L1740.6,511.6L1742.6,511.1L1744.6,510.6L1746.6,510.1L1748.6,509.5L1750.6,509.0L1752.6,508.5L1754.6,508.1L1756.6,507.8L1758.6,507.6L1760.6,507.4L1762.6,507.3L1764.6,507.3L1766.6,507.3L1768.6,507.3L1770.6,507.3L1772.6,507.4L1774.6,507.5L1776.6,507.6L1778.6,507.9L1780.6,508.1L1782.6,508.5L1784.6,508.9L1786.6,509.3L1788.6,509.7L1790.6,510.1L1792.6,510.5L1794.6,510.9L1796.6,511.3L1798.6,511.7L1800.6,512.0L1802.6,512.3L1804.6,512.6L1806.6,512.8L1808.6,512.9L1810.6,512.9L1812.6,512.8L1814.6,512.6L1816.6,512.4L1818.6,512.3L1820.6,512.1L1822.6,512.0L1824.6,511.9L1826.6,511.8L1828.6,511.6L1830.6,511.3L1832.6,510.9L1834.6,510.5L1836.6,509.9L1838.6,509.4L1840.6,508.8L1842.6,508.2L1844.6,507.5L1846.6,506.9L1848.6,506.2L1850.6,505.5L1852.6,504.9L1854.6,504.2L1856.6,503.6L1858.6,503.1L1860.6,502.5L1862.6,502.0L1864.6,501.6L1866.6,501.3L1868.6,501.0L1870.6,500.8L1872.6,500.7L1874.6,500.6L1876.6,500.5L1878.6,500.5L1880.6,500.6L1882.6,500.7L1884.6,500.8L1886.6,501.1L1888.6,501.5L1890.6,501.9L1892.6,502.5L1894.6,503.1L1896.6,503.7L1898.6,504.4L1900.6,505.0L1902.6,505.7L1904.6,506.4L1906.6,507.0L1908.6,507.7L1910.6,508.4L1912.6,509.1L1914.6,509.8L1916.6,510.5L1918.6,511.1L1920.6,511.6L1922.6,512.1L1924.6,512.5L1926.6,513.0L1928.6,513.4L1930.6,513.7L1932.6,514.0L1934.6,514.2L1936.6,514.3L1938.6,514.4L1940.6,514.5L1942.6,514.5L1944.6,514.7L1946.6,514.8L1948.6,515.0L1950.6,515.2L1952.6,515.5L1954.6,515.8L1956.6,516.1L1958.6,516.4L1960.6,516.6L1962.6,516.9L1964.6,517.2L1966.6,517.4L1968.6,517.7L1970.6,517.9L1972.6,517.9L1974.6,517.9L1976.6,517.9L1978.6,517.9L1980.6,517.9L1982.6,517.9L1984.6,517.9L1986.6,517.9L1988.6,517.9L1990.6,517.9L1992.6,517.9L1994.6,517.9L1996.6,517.9L1998.6,517.9L2000.6,517.9L2002.6,517.9L2004.6,517.9L2006.6,517.9L2008.6,517.9L2010.6,517.9L2012.6,517.9L2014.6,517.9L2016.6,517.9L2018.6,517.9L2020.6,517.9L2022.6,517.9L2024.6,517.9L2026.6,517.9L2028.6,517.9L2030.6,517.9L2032.6,517.9L2034.6,517.9L2036.6,517.9L2038.6,517.9L2040.6,517.9L2042.6,517.9L2044.6,517.9L2046.6,517.9L2048.6,517.9L2050.6,517.9L2052.6,517.9L2054.6,517.9L2056.6,517.9L2058.6,517.9L2060.6,517.9L2062.6,517.9L2064.6,517.9L2066.6,517.9L2068.6,517.9L2070.6,517.9L2072.6,517.9L2074.6,517.9L2076.6,517.9L2078.6,517.9L2080.6,517.9L2082.6,517.9L2084.6,517.9L2086.6,517.9L2088.6,517.9L2090.6,517.9L2092.6,517.9L2094.6,517.9L2096.6,517.9L2098.6,517.9L2100.6,517.9L2102.6,517.9L2104.6,517.9L2106.6,517.9L2108.6,517.9L2110.6,517.9L2112.6,517.9L2114.6,517.9L2116.6,517.9L2118.6,517.9L2120.6,517.9L2122.6,517.9L2124.6,517.9L2126.6,517.9L2128.6,517.9L2130.6,517.9L2132.6,517.9L2134.6,517.9L2136.6,517.9L2138.6,517.9L2140.6,517.9L2142.6,517.9L2144.6,517.9L2146.6,517.9L2148.6,517.9L2150.6,517.9L2152.6,517.9L2154.6,517.9L2156.6,517.9L2158.6,517.9L2160.6,517.9L2162.6,517.9L2164.6,517.9L2166.6,517.9L2168.6,517.9L2170.6,517.9L2172.6,517.9L2174.6,517.9L2176.6,517.9L2178.6,517.9L2180.6,517.9L2182.6,517.9L2184.6,517.9L2186.6,517.9L2188.6,517.9L2190.6,517.9L2192.6,517.9L2194.6,517.9L2196.6,517.9L2198.6,517.9L2200.6,517.9L2202.6,517.9L2204.6,517.9L2206.6,517.9L2208.6,517.9L2210.6,517.9L2212.6,517.9L2214.6,517.9L2216.6,517.9L2218.6,517.9L2220.6,517.9L2222.6,517.9L2224.6,517.9L2226.6,517.9L2228.6,517.9L2230.6,517.9L2232.6,517.9L2234.6,517.9L2236.6,517.9L2238.6,517.9L2240.6,517.9L2242.6,517.9L2244.6,517.9L2246.6,517.9L2248.6,517.9L2250.6,517.9L2252.6,517.9L2254.6,517.9L2256.6,517.9L2258.6,517.9L2260.6,517.9L2262.6,517.9L2264.6,517.9L2266.6,517.9L2268.6,517.9L2270.6,517.9L2272.6,517.9L2274.6,517.9L2276.6,517.9L2276.6,517.9Z" fill="#ff0000"/>
</g>
<g id="panel3">
<path d="M214.6,1487.0L214.6,1175.4L216.6,1175.0L218.6,1173.7L220.6,1171.2L222.6,1168.1L224.6,1165.2L226.6,1162.5L228.6,1160.2L230.6,1158.3L232.6,1156.6L234.6,1155.2L236.6,1154.2L238.6,1153.4L240.6,1152.9L242.6,1152.7L244.6,1152.7L246.6,1153.0L248.6,1153.5L250.6,1154.2L252.6,1155.2L254.6,1156.4L256.6,1157.8L258.6,1159.3L260.6,1160.8L262.6,1162.3L264.6,1163.7L266.6,1165.0L268.6,1166.3L270.6,1167.5L272.6,1168.7L274.6,1169.7L276.6,1170.6L278.6,1171.2L280.6,1171.5L282.6,1171.4L284.6,1170.8L286.6,1169.8L288.6,1168.5L290.6,1166.9L292.6,1165.1L294.6,1163.1L296.6,1161.1L298.6,1159.1L300.6,1157.3L302.6,1155.9L304.6,1154.7L306.6,1153.8L308.6,1153.2L310.6,1152.8L312.6,1152.7L314.6,1152.9L316.6,1153.6L318.6,1154.6L320.6,1156.2L322.6,1158.3L324.6,1161.1L326.6,1164.5L328.6,1168.5L330.6,1173.1L332.6,1178.3L334.6,1183.9L336.6,1189.8L338.6,1195.8L340.6,1201.8L342.6,1207.8L344.6,1213.8L346.6,1219.8L348.6,1225.6L350.6,1231.3L352.6,1236.7L354.6,1241.8L356.6,1246.7L358.6,1251.1L360.6,1255.1L362.6,1258.7L364.6,1261.9L366.6,1264.6L368.6,1266.8L370.6,1268.7L372.6,1270.2L374.6,1271.3L376.6,1272.0L378.6,1272.2L380.6,1272.2L382.6,1271.9L384.6,1271.5L386.6,1271.0L388.6,1270.4L390.6,1269.7L392.6,1268.9L394.6,1268.1L396.6,1267.4L398.6,1266.9L400.6,1266.5L402.6,1266.3L404.6,1266.3L406.6,1266.5L408.6,1266.9L410.6,1267.4L412.6,1268.0L414.6,1268.6L416.6,1269.3L418.6,1270.1L420.6,1270.9L422.6,1271.7L424.6,1272.6L426.6,1273.4L428.6,1274.2L430.6,1274.9L432.6,1275.5L434.6,1276.0L436.6,1276.3L438.6,1276.5L440.6,1276.4L442.6,1275.8L444.6,1274.9L446.6,1273.4L448.6,1271.4L450.6,1268.8L452.6,1265.5L454.6,1261.6L456.6,1257.1L458.6,1252.0L460.6,1246.4L462.6,1240.2L464.6,1233.7L466.6,1227.0L468.6,1220.0L470.6,1212.8L472.6,1205.5L474.6,1198.2L476.6,1191.0L478.6,1184.1L480.6,1177.4L482.6,1171.1L484.6,1165.4L486.6,1160.4L488.6,1156.2L490.6,1152.8L492.6,1150.1L494.6,1147.9L496.6,1146.3L498.6,1145.2L500.6,1144.5L502.6,1144.0L504.6,1143.7L506.6,1143.7L508.6,1143.9L510.6,1144.2L512.6,1144.6L514.6,1144.8L516.6,1144.8L518.6,1144.5L520.6,1144.0L522.6,1143.3L524.6,1142.4L526.6,1141.3L528.6,1139.9L530.6,1138.3L532.6,1136.2L534.6,1133.7L536.6,1130.9L538.6,1127.9L540.6,1125.0L542.6,1122.3L544.6,1119.8L546.6,1117.6L548.6,1115.6L550.6,1114.0L552.6,1112.7L554.6,1111.7L556.6,1111.1L558.6,1110.6L560.6,1110.4L562.6,1110.2L564.6,1110.1L566.6,1110.1L568.6,1110.0L570.6,1110.1L572.6,1110.2L574.6,1110.3L576.6,1110.4L578.6,1110.5L580.6,1110.4L582.6,1110.1L584.6,1109.6L586.6,1108.9L588.6,1108.0L590.6,1106.9L592.6,1105.7L594.6,1104.5L596.6,1103.3L598.6,1102.0L600.6,1100.8L602.6,1099.6L604.6,1098.4L606.6,1097.3L608.6,1096.3L610.6,1095.3L612.6,1094.6L614.6,1094.1L616.6,1094.0L618.6,1094.0L620.6,1094.3L622.6,1094.8L624.6,1095.4L626.6,1096.4L628.6,1097.6L630.6,1099.1L632.6,1100.9L634.6,1102.9L636.6,1105.1L638.6,1107.5L640.6,1110.1L642.6,1112.8L644.6,1115.7L646.6,1118.7L648.6,1121.7L650.6,1125.0L652.6,1128.3L654.6,1131.8L656.6,1135.3L658.6,1138.8L660.6,1142.2L662.6,1145.6L664.6,1148.7L666.6,1151.8L668.6,1154.6L670.6,1157.3L672.6,1159.6L674.6,1161.5L676.6,1163.1L678.6,1164.3L680.6,1165.2L682.6,1165.8L684.6,1166.2L686.6,1166.1L688.6,1165.7L690.6,1164.9L692.6,1163.9L694.6,1162.6L696.6,1161.1L698.6,1159.5L700.6,1157.7L702.6,1155.9L704.6,1154.3L706.6,1152.8L708.6,1151.6L710.6,1150.7L712.6,1150.1L714.6,1149.6L716.6,1149.4L718.6,1149.4L720.6,1149.6L722.6,1150.2L724.6,1151.2L726.6,1152.4L728.6,1154.1L730.6,1156.4L732.6,1159.3L734.6,1162.9L736.6,1166.7L738.6,1170.7L740.6,1174.7L742.6,1178.7L744.6,1182.7L746.6,1186.7L748.6,1190.5L750.6,1194.2L752.6,1197.6L754.6,1200.8L756.6,1203.7L758.6,1206.4L760.6,1208.7L762.6,1210.7L764.6,1212.3L766.6,1213.6L768.6,1214.4L770.6,1214.7L772.6,1214.8L774.6,1214.6L776.6,1214.4L778.6,1214.2L780.6,1214.0L782.6,1213.8L784.6,1213.5L786.6,1213.3L788.6,1213.2L790.6,1213.1L792.6,1213.1L794.6,1213.2L796.6,1213.4L798.6,1213.7L800.6,1213.9L802.6,1214.2L804.6,1214.5L806.6,1214.9L808.6,1215.3L810.6,1215.5L812.6,1215.4L814.6,1215.1L816.6,1214.4L818.6,1213.6L820.6,1212.7L822.6,1211.8L824.6,1210.9L826.6,1210.0L828.6,1209.1L830.6,1208.2L832.6,1207.3L834.6,1206.5L836.6,1205.8L838.6,1205.4L840.6,1205.3L842.6,1205.5L844.6,1205.9L846.6,1206.5L848.6,1207.3L850.6,1208.3L852.6,1209.6L854.6,1211.2L856.6,1213.0L858.6,1215.2L860.6,1217.5L862.6,1219.8L864.6,1221.9L866.6,1223.9L868.6,1225.7L870.6,1227.3L872.6,1228.7L874.6,1230.0L876.6,1230.8L878.6,1231.3L880.6,1231.3L882.6,1230.7L884.6,1229.3L886.6,1227.0L888.6,1223.7L890.6,1219.4L892.6,1214.1L894.6,1208.1L896.6,1201.4L898.6,1194.3L900.6,1187.0L902.6,1179.4L904.6,1171.5L906.6,1163.6L908.6,1155.6L910.6,1147.8L912.6,1140.1L914.6,1132.7L916.6,1125.6L918.6,1118.9L920.6,1112.6L922.6,1106.9L924.6,1101.7L926.6,1097.1L928.6,1092.9L930.6,1089.3L932.6,1086.5L934.6,1084.2L936.6,1082.5L938.6,1081.1L940.6,1080.2L942.6,1079.7L944.6,1079.5L946.6,1079.7L948.6,1080.5L950.6,1082.0L952.6,1084.2L954.6,1087.2L956.6,1090.7L958.6,1094.4L960.6,1098.3L962.6,1102.2L964.6,1106.2L966.6,1110.2L968.6,1114.2L970.6,1118.2L972.6,1122.2L974.6,1126.2L976.6,1130.2L978.6,1134.1L980.6,1137.9L982.6,1141.4L984.6,1144.6L986.6,1147.5L988.6,1150.3L990.6,1153.3L992.6,1156.4L994.6,1159.6L996.6,1162.8L998.6,1166.1L1000.6,1169.5L1002.6,1173.0L1004.6,1176.6L1006.6,1180.3L1008.6,1184.3L1010.6,1188.4L1012.6,1192.9L1014.6,1197.6L1016.6,1202.6L1018.6,1207.9L1020.6,1213.5L1022.6,1219.3L1024.6,1225.4L1026.6,1231.4L1028.6,1237.4L1030.6,1243.0L1032.6,1248.4L1034.6,1253.6L1036.6,1258.6L1038.6,1263.5L1040.6,1268.1L1042.6,1272.7L1044.6,1277.2L1046.6,1281.7L1048.6,1286.2L1050.6,1290.7L1052.6,1295.2L1054.6,1299.7L1056.6,1304.2L1058.6,1308.7L1060.6,1313.2L1062.6,1317.7L1064.6,1322.2L1066.6,1326.7L1068.6,1331.2L1070.6,1335.5L1072.6,1339.7L1074.6,1343.4L1076.6,1346.8L1078.6,1349.6L1080.6,1351.9L1082.6,1353.6L1084.6,1354.8L1086.6,1355.5L1088.6,1355.8L1090.6,1355.7L1092.6,1354.9L1094.6,1353.5L1096.6,1351.0L1098.6,1347.2L1100.6,1342.3L1102.6,1336.4L1104.6,1330.0L1106.6,1323.0L1108.6,1315.3L1110.6,1306.8L1112.6,1297.5L1114.6,1287.6L1116.6,1277.7L1118.6,1268.1L1120.6,1258.9L1122.6,1250.2L1124.6,1242.0L1126.6,1234.5L1128.6,1227.8L1130.6,1222.0L1132.6,1216.9L1134.6,1212.5L1136.6,1208.8L1138.6,1205.7L1140.6,1203.3L1142.6,1201.3L1144.6,1199.7L1146.6,1198.4L1148.6,1197.4L1150.6,1196.6L1152.6,1196.0L1154.6,1195.5L1156.6,1195.2L1158.6,1195.1L1160.6,1195.2L1162.6,1195.4L1164.6,1195.8L1166.6,1196.4L1168.6,1197.1L1170.6,1198.1L1172.6,1199.2L1174.6,1200.5L1176.6,1202.0L1178.6,1203.6L1180.6,1205.4L1182.6,1207.3L1184.6,1209.4L1186.6,1211.5L1188.6,1213.7L1190.6,1216.0L1192.6,1218.4L1194.6,1220.9L1196.6,1223.6L1198.6,1226.5L1200.6,1229.4L1202.6,1232.4L1204.6,1235.4L1206.6,1238.4L1208.6,1241.4L1210.6,1244.4L1212.6,1247.4L1214.6,1250.4L1216.6,1253.3L1218.6,1256.2L1220.6,1258.8L1222.6,1261.2L1224.6,1263.3L1226.6,1265.3L1228.6,1267.2L1230.6,1268.8L1232.6,1270.2L1234.6,1271.4L1236.6,1272.3L1238.6,1272.9L1240.6,1273.2L1242.6,1272.9L1244.6,1272.0L1246.6,1270.5L1248.6,1268.7L1250.6,1266.7L1252.6,1264.6L1254.6,1262.4L1256.6,1260.2L1258.6,1257.9L1260.6,1255.7L1262.6,1253.5L1264.6,1251.5L1266.6,1249.7L1268.6,1248.0L1270.6,1246.6L1272.6,1245.5L1274.6,1244.7L1276.6,1244.3L1278.6,1244.2L1280.6,1244.3L1282.6,1244.7L1284.6,1245.6L1286.6,1247.1L1288.6,1249.4L1290.6,1252.5L1292.6,1256.2L1294.6,1260.2L1296.6,1264.5L1298.6,1269.0L1300.6,1273.7L1302.6,1278.4L1304.6,1283.2L1306.6,1288.0L1308.6,1293.0L1310.6,1298.1L1312.6,1303.5L1314.6,1309.2L1316.6,1315.4L1318.6,1321.9L1320.6,1328.6L1322.6,1335.2L1324.6,1341.5L1326.6,1347.3L1328.6,1352.6L1330.6,1357.6L1332.6,1362.4L1334.6,1367.0L1336.6,1371.4L1338.6,1375.6L1340.6,1379.7L1342.6,1383.7L1344.6,1387.7L1346.6,1391.5L1348.6,1395.3L1350.6,1399.0L1352.6,1402.6L1354.6,1406.1L1356.6,1409.4L1358.6,1412.6L1360.6,1415.7L1362.6,1418.6L1364.6,1421.2L1366.6,1423.7L1368.6,1425.8L1370.6,1427.4L1372.6,1428.6L1374.6,1429.3L1376.6,1429.8L1378.6,1429.9L1380.6,1429.7L1382.6,1429.2L1384.6,1428.2L1386.6,1426.7L1388.6,1424.7L1390.6,1422.3L1392.6,1419.7L1394.6,1417.0L1396.6,1414.1L1398.6,1411.1L1400.6,1408.1L1402.6,1404.9L1404.6,1401.5L1406.6,1398.0L1408.6,1394.5L1410.6,1391.1L1412.6,1388.0L1414.6,1385.1L1416.6,1382.6L1418.6,1380.5L1420.6,1378.7L1422.6,1377.2L1424.6,1375.8L1426.6,1374.5L1428.6,1373.3L1430.6,1372.2L1432.6,1371.1L1434.6,1370.3L1436.6,1369.6L1438.6,1369.0L1440.6,1368.6L1442.6,1368.3L1444.6,1368.1L1446.6,1368.1L1448.6,1368.2L1450.6,1368.4L1452.6,1368.8L1454.6,1369.2L1456.6,1369.9L1458.6,1370.6L1460.6,1371.6L1462.6,1372.8L1464.6,1374.1L1466.6,1375.7L1468.6,1377.4L1470.6,1379.4L1472.6,1381.6L1474.6,1383.8L1476.6,1386.2L1478.6,1388.8L1480.6,1391.4L1482.6,1394.3L1484.6,1397.5L1486.6,1400.8L1488.6,1404.3L1490.6,1407.8L1492.6,1411.3L1494.6,1414.8L1496.6,1418.3L1498.6,1421.8L1500.6,1425.3L1502.6,1428.8L1504.6,1432.2L1506.6,1435.5L1508.6,1438.5L1510.6,1441.3L1512.6,1443.8L1514.6,1446.0L1516.6,1447.9L1518.6,1449.2L1520.6,1450.0L1522.6,1450.4L1524.6,1450.3L1526.6,1449.8L1528.6,1448.7L1530.6,1447.2L1532.6,1445.0L1534.6,1442.4L1536.6,1439.3L1538.6,1435.6L1540.6,1431.4L1542.6,1426.9L1544.6,1422.3L1546.6,1417.6L1548.6,1412.9L1550.6,1408.3L1552.6,1403.7L1554.6,1399.2L1556.6,1395.1L1558.6,1391.4L1560.6,1388.3L1562.6,1385.6L1564.6,1383.1L1566.6,1381.0L1568.6,1379.3L1570.6,1377.9L1572.6,1376.8L1574.6,1375.9L1576.6,1375.3L1578.6,1375.0L1580.6,1374.8L1582.6,1374.9L1584.6,1375.1L1586.6,1375.6L1588.6,1376.5L1590.6,1377.9L1592.6,1379.7L1594.6,1382.1L1596.6,1385.0L1598.6,1388.2L1600.6,1391.8L1602.6,1395.6L1604.6,1399.5L1606.6,1403.7L1608.6,1408.1L1610.6,1412.7L1612.6,1417.4L1614.6,1421.9L1616.6,1426.3L1618.6,1430.4L1620.6,1434.3L1622.6,1438.0L1624.6,1441.3L1626.6,1444.3L1628.6,1447.1L1630.6,1449.5L1632.6,1451.6L1634.6,1453.5L1636.6,1455.0L1638.6,1456.2L1640.6,1457.2L1642.6,1457.8L1644.6,1458.1L1646.6,1457.9L1648.6,1457.2L1650.6,1455.9L1652.6,1454.1L1654.6,1451.8L1656.6,1449.1L1658.6,1446.0L1660.6,1442.8L1662.6,1439.5L1664.6,1436.3L1666.6,1433.3L1668.6,1430.6L1670.6,1428.0L1672.6,1425.5L1674.6,1423.2L1676.6,1421.1L1678.6,1419.3L1680.6,1417.9L1682.6,1416.8L1684.6,1416.0L1686.6,1415.4L1688.6,1415.0L1690.6,1414.7L1692.6,1414.5L1694.6,1414.4L1696.6,1414.3L1698.6,1414.2L1700.6,1414.2L1702.6,1414.3L1704.6,1414.5L1706.6,1414.7L1708.6,1415.0L1710.6,1415.2L1712.6,1415.4L1714.6,1415.4L1716.6,1415.4L1718.6,1415.4L1720.6,1415.3L1722.6,1415.2L1724.6,1415.1L1726.6,1415.0L1728.6,1414.9L1730.6,1414.8L1732.6,1414.7L1734.6,1414.6L1736.6,1414.5L1738.6,1414.4L1740.6,1414.4L1742.6,1414.5L1744.6,1414.9L1746.6,1415.5L1748.6,1416.3L1750.6,1417.3L1752.6,1418.6L1754.6,1420.2L1756.6,1422.2L1758.6,1424.4L1760.6,1426.9L1762.6,1429.6L1764.6,1432.5L1766.6,1435.7L1768.6,1439.0L1770.6,1442.3L1772.6,1445.7L1774.6,1449.0L1776.6,1452.3L1778.6,1455.6L1780.6,1458.8L1782.6,1461.7L1784.6,1464.4L1786.6,1466.8L1788.6,1469.2L1790.6,1471.3L1792.6,1473.3L1794.6,1475.0L1796.6,1476.3L1798.6,1477.4L1800.6,1478.2L1802.6,1478.7L1804.6,1479.1L1806.6,1479.2L1808.6,1479.0L1810.6,1478.5L1812.6,1477.7L1814.6,1476.6L1816.6,1475.1L1818.6,1473.4L1820.6,1471.3L1822.6,1469.0L1824.6,1466.4L1826.6,1463.8L1828.6,1461.0L1830.6,1458.2L1832.6,1455.3L1834.6,1452.4L1836.6,1449.4L1838.6,1446.3L1840.6,1443.4L1842.6,1440.4L1844.6,1437.6L1846.6,1435.0L1848.6,1432.5L1850.6,1430.2L1852.6,1428.1L1854.6,1426.3L1856.6,1424.8L1858.6,1423.6L1860.6,1422.6L1862.6,1421.8L1864.6,1421.2L1866.6,1420.8L1868.6,1420.4L1870.6,1420.2L1872.6,1420.1L1874.6,1420.1L1876.6,1420.3L1878.6,1420.7L1880.6,1421.3L1882.6,1422.2L1884.6,1423.5L1886.6,1425.1L1888.6,1427.0L1890.6,1429.3L1892.6,1431.9L1894.6,1434.7L1896.6,1437.7L1898.6,1440.7L1900.6,1443.7L1902.6,1446.7L1904.6,1449.6L1906.6,1452.6L1908.6,1455.6L1910.6,1458.6L1912.6,1461.6L1914.6,1464.4L1916.6,1467.0L1918.6,1469.4L1920.6,1471.4L1922.6,1473.3L1924.6,1474.8L1926.6,1475.9L1928.6,1476.6L1930.6,1477.0L1932.6,1477.1L1934.6,1476.8L1936.6,1476.2L1938.6,1475.2L1940.6,1474.0L1942.6,1472.5L1944.6,1470.5L1946.6,1468.0L1948.6,1465.1L1950.6,1461.8L1952.6,1458.3L1954.6,1454.8L1956.6,1451.3L1958.6,1447.8L1960.6,1444.3L1962.6,1440.8L1964.6,1437.3L1966.6,1433.9L1968.6,1430.7L1970.6,1427.8L1972.6,1425.5L1974.6,1423.7L1976.6,1422.4L1978.6,1421.4L1980.6,1420.7L1982.6,1420.3L1984.6,1420.2L1986.6,1420.3L1988.6,1420.6L1990.6,1421.2L1992.6,1422.2L1994.6,1423.5L1996.6,1425.0L1998.6,1426.9L2000.6,1429.2L2002.6,1431.9L2004.6,1434.9L2006.6,1438.1L2008.6,1441.3L2010.6,1444.5L2012.6,1447.8L2014.6,1451.0L2016.6,1454.3L2018.6,1457.5L2020.6,1460.8L2022.6,1464.0L2024.6,1467.0L2026.6,1469.7L2028.6,1472.1L2030.6,1474.2L2032.6,1475.9L2034.6,1477.4L2036.6,1478.6L2038.6,1479.7L2040.6,1480.6L2042.6,1481.4L2044.6,1482.0L2046.6,1482.6L2048.6,1483.2L2050.6,1483.8L2052.6,1484.3L2054.6,1484.7L2056.6,1485.2L2058.6,1485.7L2060.6,1486.1L2062.6,1486.5L2064.6,1486.9L2066.6,1487.0L2068.6,1487.0L2070.6,1487.0L2072.6,1487.0L2074.6,1487.0L2076.6,1487.0L2078.6,1487.0L2080.6,1487.0L2082.6,1487.0L2084.6,1487.0L2086.6,1487.0L2088.6,1487.0L2090.6,1487.0L2092.6,1487.0L2094.6,1487.0L2096.6,1487.0L2098.6,1487.0L2100.6,1487.0L2102.6,1487.0L2104.6,1487.0L2106.6,1487.0L2108.6,1487.0L2110.6,1487.0L2112.6,1487.0L2114.6,1487.0L2116.6,1487.0L2118.6,1487.0L2120.6,1487.0L2122.6,1487.0L2124.6,1487.0L2126.6,1487.0L2128.6,1487.0L2130.6,1487.0L2132.6,1487.0L2134.6,1487.0L2136.6,1487.0L2138.6,1487.0L2140.6,1487.0L2142.6,1487.0L2144.6,1487.0L2146.6,1487.0L2148.6,1487.0L2150.6,1487.0L2152.6,1487.0L2154.6,1487.0L2156.6,1487.0L2158.6,1487.0L2160.6,1487.0L2162.6,1487.0L2164.6,1487.0L2166.6,1487.0L2168.6,1487.0L2170.6,1487.0L2172.6,1487.0L2174.6,1487.0L2176.6,1487.0L2178.6,1487.0L2180.6,1487.0L2182.6,1487.0L2184.6,1487.0L2186.6,1487.0L2188.6,1487.0L2190.6,1487.0L2192.6,1487.0L2194.6,1487.0L2196.6,1487.0L2198.6,1487.0L2200.6,1487.0L2202.6,1487.0L2204.6,1487.0L2206.6,1487.0L2208.6,1487.0L2210.6,1487.0L2212.6,1487.0L2214.6,1487.0L2216.6,1487.0L2218.6,1487.0L2220.6,1487.0L2222.6,1487.0L2224.6,1487.0L2226.6,1487.0L2228.6,1487.0L2230.6,1487.0L2232.6,1487.0L2234.6,1487.0L2236.6,1487.0L2238.6,1487.0L2240.6,1487.0L2242.6,1487.0L2244.6,1487.0L2246.6,1487.0L2248.6,1487.0L2250.6,1487.0L2252.6,1487.0L2254.6,1487.0L2256.6,1487.0L2258.6,1487.0L2260.6,1487.0L2262.6,1487.0L2264.6,1487.0L2266.6,1487.0L2268.6,1487.0L2270.6,1487.0L2272.6,1487.0L2274.6,1487.0L2276.6,1487.0L2276.6,1487.0Z" fill="#d9d9d9"/>
<path d="M214.6,1487.0L214.6,1249.2L216.6,1248.8L218.6,1247.5L220.6,1245.2L222.6,1242.5L224.6,1239.9L226.6,1237.7L228.6,1236.0L230.6,1234.6L232.6,1233.4L234.6,1232.4L236.6,1231.6L238.6,1231.0L240.6,1230.5L242.6,1230.2L244.6,1230.1L246.6,1230.2L248.6,1230.5L250.6,1231.0L252.6,1231.6L254.6,1232.5L256.6,1233.5L258.6,1234.6L260.6,1235.9L262.6,1237.2L264.6,1238.4L266.6,1239.4L268.6,1240.3L270.6,1241.1L272.6,1241.9L274.6,1242.5L276.6,1243.1L278.6,1243.6L280.6,1243.9L282.6,1244.1L284.6,1243.9L286.6,1243.5L288.6,1242.7L290.6,1241.8L292.6,1240.7L294.6,1239.5L296.6,1238.2L298.6,1237.0L300.6,1235.9L302.6,1235.0L304.6,1234.3L306.6,1233.8L308.6,1233.4L310.6,1233.2L312.6,1233.1L314.6,1233.3L316.6,1233.8L318.6,1234.6L320.6,1235.9L322.6,1237.8L324.6,1240.1L326.6,1242.9L328.6,1246.1L330.6,1249.8L332.6,1253.8L334.6,1258.2L336.6,1262.8L338.6,1267.4L340.6,1272.1L342.6,1276.7L344.6,1281.4L346.6,1286.0L348.6,1290.7L350.6,1295.2L352.6,1299.5L354.6,1303.7L356.6,1307.6L358.6,1311.2L360.6,1314.2L362.6,1316.7L364.6,1318.7L366.6,1320.4L368.6,1321.7L370.6,1322.7L372.6,1323.6L374.6,1324.3L376.6,1324.7L378.6,1324.7L380.6,1324.4L382.6,1324.0L384.6,1323.5L386.6,1323.0L388.6,1322.5L390.6,1322.0L392.6,1321.5L394.6,1321.0L396.6,1320.5L398.6,1320.1L400.6,1319.8L402.6,1319.8L404.6,1319.9L406.6,1320.2L408.6,1320.5L410.6,1321.0L412.6,1321.4L414.6,1321.9L416.6,1322.5L418.6,1323.1L420.6,1323.8L422.6,1324.5L424.6,1325.3L426.6,1326.0L428.6,1326.7L430.6,1327.2L432.6,1327.5L434.6,1327.8L436.6,1327.9L438.6,1327.8L440.6,1327.6L442.6,1327.0L444.6,1326.1L446.6,1324.7L448.6,1322.7L450.6,1320.1L452.6,1316.8L454.6,1312.9L456.6,1308.6L458.6,1303.9L460.6,1298.9L462.6,1293.7L464.6,1288.4L466.6,1283.1L468.6,1277.7L470.6,1272.4L472.6,1267.1L474.6,1261.8L476.6,1256.8L478.6,1252.3L480.6,1248.2L482.6,1244.7L484.6,1241.6L486.6,1239.0L488.6,1236.7L490.6,1234.8L492.6,1233.2L494.6,1231.9L496.6,1230.9L498.6,1230.1L500.6,1229.6L502.6,1229.2L504.6,1228.9L506.6,1228.7L508.6,1228.6L510.6,1228.7L512.6,1228.8L514.6,1229.0L516.6,1229.1L518.6,1229.1L520.6,1228.8L522.6,1228.2L524.6,1227.3L526.6,1226.2L528.6,1224.8L530.6,1223.1L532.6,1221.2L534.6,1219.1L536.6,1216.9L538.6,1214.6L540.6,1212.3L542.6,1210.3L544.6,1208.5L546.6,1206.9L548.6,1205.6L550.6,1204.6L552.6,1203.7L554.6,1203.1L556.6,1202.6L558.6,1202.3L560.6,1202.1L562.6,1202.0L564.6,1201.9L566.6,1201.8L568.6,1201.8L570.6,1201.8L572.6,1201.9L574.6,1202.0L576.6,1202.1L578.6,1202.2L580.6,1202.1L582.6,1201.9L584.6,1201.5L586.6,1200.9L588.6,1200.2L590.6,1199.4L592.6,1198.4L594.6,1197.5L596.6,1196.4L598.6,1195.4L600.6,1194.5L602.6,1193.6L604.6,1192.8L606.6,1192.0L608.6,1191.3L610.6,1190.7L612.6,1190.3L614.6,1190.0L616.6,1189.9L618.6,1189.9L620.6,1190.0L622.6,1190.2L624.6,1190.6L626.6,1191.1L628.6,1191.9L630.6,1193.0L632.6,1194.3L634.6,1195.8L636.6,1197.5L638.6,1199.4L640.6,1201.4L642.6,1203.5L644.6,1205.6L646.6,1207.8L648.6,1210.2L650.6,1212.7L652.6,1215.4L654.6,1218.3L656.6,1221.3L658.6,1224.4L660.6,1227.3L662.6,1230.0L664.6,1232.4L666.6,1234.7L668.6,1236.8L670.6,1238.7L672.6,1240.4L674.6,1241.9L676.6,1243.1L678.6,1244.0L680.6,1244.7L682.6,1245.2L684.6,1245.3L686.6,1245.2L688.6,1244.8L690.6,1244.2L692.6,1243.3L694.6,1242.4L696.6,1241.3L698.6,1240.1L700.6,1238.9L702.6,1237.6L704.6,1236.4L706.6,1235.3L708.6,1234.5L710.6,1233.7L712.6,1233.2L714.6,1232.8L716.6,1232.6L718.6,1232.6L720.6,1232.8L722.6,1233.2L724.6,1233.8L726.6,1234.7L728.6,1235.8L730.6,1237.4L732.6,1239.7L734.6,1242.5L736.6,1245.7L738.6,1249.0L740.6,1252.3L742.6,1255.7L744.6,1259.0L746.6,1262.3L748.6,1265.5L750.6,1268.5L752.6,1271.2L754.6,1273.7L756.6,1276.0L758.6,1278.0L760.6,1279.7L762.6,1281.0L764.6,1282.0L766.6,1282.6L768.6,1282.9L770.6,1282.9L772.6,1282.7L774.6,1282.3L776.6,1282.0L778.6,1281.7L780.6,1281.5L782.6,1281.3L784.6,1281.2L786.6,1281.1L788.6,1281.0L790.6,1281.1L792.6,1281.2L794.6,1281.4L796.6,1281.7L798.6,1281.9L800.6,1282.2L802.6,1282.5L804.6,1282.7L806.6,1282.9L808.6,1283.1L810.6,1283.2L812.6,1283.2L814.6,1283.0L816.6,1282.6L818.6,1282.0L820.6,1281.2L822.6,1280.4L824.6,1279.6L826.6,1278.9L828.6,1278.2L830.6,1277.5L832.6,1276.9L834.6,1276.3L836.6,1275.9L838.6,1275.8L840.6,1275.8L842.6,1276.1L844.6,1276.6L846.6,1277.2L848.6,1278.0L850.6,1278.9L852.6,1280.0L854.6,1281.3L856.6,1282.8L858.6,1284.4L860.6,1286.2L862.6,1288.0L864.6,1289.6L866.6,1291.1L868.6,1292.3L870.6,1293.4L872.6,1294.2L874.6,1294.9L876.6,1295.3L878.6,1295.4L880.6,1295.2L882.6,1294.6L884.6,1293.4L886.6,1291.6L888.6,1289.2L890.6,1286.1L892.6,1282.2L894.6,1277.5L896.6,1272.0L898.6,1266.2L900.6,1260.2L902.6,1254.2L904.6,1248.2L906.6,1242.2L908.6,1236.2L910.6,1230.4L912.6,1224.7L914.6,1219.3L916.6,1214.2L918.6,1209.3L920.6,1204.9L922.6,1200.9L924.6,1197.3L926.6,1194.1L928.6,1191.4L930.6,1189.2L932.6,1187.3L934.6,1185.9L936.6,1184.9L938.6,1184.1L940.6,1183.7L942.6,1183.5L944.6,1183.6L946.6,1184.0L948.6,1184.7L950.6,1185.8L952.6,1187.3L954.6,1189.3L956.6,1191.6L958.6,1194.3L960.6,1197.1L962.6,1200.0L964.6,1202.9L966.6,1205.9L968.6,1208.9L970.6,1211.9L972.6,1214.9L974.6,1217.9L976.6,1220.9L978.6,1223.9L980.6,1226.9L982.6,1229.7L984.6,1232.3L986.6,1234.5L988.6,1236.4L990.6,1238.3L992.6,1240.3L994.6,1242.4L996.6,1244.8L998.6,1247.2L1000.6,1249.8L1002.6,1252.6L1004.6,1255.5L1006.6,1258.6L1008.6,1262.0L1010.6,1265.7L1012.6,1269.8L1014.6,1274.2L1016.6,1278.6L1018.6,1283.1L1020.6,1287.6L1022.6,1292.1L1024.6,1296.6L1026.6,1301.1L1028.6,1305.6L1030.6,1310.1L1032.6,1314.5L1034.6,1318.9L1036.6,1323.1L1038.6,1327.2L1040.6,1331.0L1042.6,1334.7L1044.6,1338.3L1046.6,1341.8L1048.6,1345.3L1050.6,1348.8L1052.6,1352.3L1054.6,1355.8L1056.6,1359.3L1058.6,1362.8L1060.6,1366.3L1062.6,1369.7L1064.6,1372.8L1066.6,1375.7L1068.6,1378.2L1070.6,1380.4L1072.6,1382.5L1074.6,1384.3L1076.6,1386.0L1078.6,1387.4L1080.6,1388.5L1082.6,1389.4L1084.6,1390.0L1086.6,1390.3L1088.6,1390.4L1090.6,1390.3L1092.6,1389.9L1094.6,1389.0L1096.6,1387.6L1098.6,1385.3L1100.6,1382.2L1102.6,1378.0L1104.6,1372.7L1106.6,1366.6L1108.6,1360.1L1110.6,1353.5L1112.6,1346.8L1114.6,1340.2L1116.6,1333.5L1118.6,1326.9L1120.6,1320.5L1122.6,1314.5L1124.6,1309.0L1126.6,1304.0L1128.6,1299.6L1130.6,1295.7L1132.6,1292.3L1134.6,1289.4L1136.6,1287.0L1138.6,1285.0L1140.6,1283.4L1142.6,1282.2L1144.6,1281.4L1146.6,1280.9L1148.6,1280.5L1150.6,1280.2L1152.6,1280.1L1154.6,1280.0L1156.6,1279.9L1158.6,1280.0L1160.6,1280.2L1162.6,1280.6L1164.6,1281.1L1166.6,1281.8L1168.6,1282.7L1170.6,1283.7L1172.6,1284.8L1174.6,1286.0L1176.6,1287.3L1178.6,1288.6L1180.6,1290.0L1182.6,1291.5L1184.6,1293.1L1186.6,1294.7L1188.6,1296.5L1190.6,1298.3L1192.6,1300.2L1194.6,1302.1L1196.6,1304.1L1198.6,1306.1L1200.6,1308.1L1202.6,1310.1L1204.6,1312.1L1206.6,1314.1L1208.6,1316.1L1210.6,1318.1L1212.6,1320.1L1214.6,1322.0L1216.6,1323.8L1218.6,1325.6L1220.6,1327.3L1222.6,1328.8L1224.6,1330.3L1226.6,1331.5L1228.6,1332.5L1230.6,1333.3L1232.6,1334.0L1234.6,1334.5L1236.6,1334.7L1238.6,1334.5L1240.6,1333.9L1242.6,1333.0L1244.6,1331.8L1246.6,1330.3L1248.6,1328.6L1250.6,1326.7L1252.6,1324.6L1254.6,1322.6L1256.6,1320.7L1258.6,1318.9L1260.6,1317.2L1262.6,1315.8L1264.6,1314.5L1266.6,1313.3L1268.6,1312.4L1270.6,1311.6L1272.6,1311.1L1274.6,1310.8L1276.6,1310.6L1278.6,1310.7L1280.6,1310.9L1282.6,1311.2L1284.6,1311.8L1286.6,1312.5L1288.6,1313.5L1290.6,1314.7L1292.6,1316.4L1294.6,1318.5L1296.6,1321.2L1298.6,1324.5L1300.6,1328.2L1302.6,1332.3L1304.6,1336.7L1306.6,1341.3L1308.6,1346.0L1310.6,1350.9L1312.6,1355.8L1314.6,1360.8L1316.6,1365.7L1318.6,1370.5L1320.6,1375.0L1322.6,1379.5L1324.6,1383.9L1326.6,1388.1L1328.6,1392.2L1330.6,1396.2L1332.6,1400.1L1334.6,1403.6L1336.6,1406.6L1338.6,1409.0L1340.6,1411.1L1342.6,1413.1L1344.6,1415.3L1346.6,1417.7L1348.6,1420.3L1350.6,1423.0L1352.6,1425.5L1354.6,1428.0L1356.6,1430.4L1358.6,1432.6L1360.6,1434.7L1362.6,1436.6L1364.6,1438.3L1366.6,1439.8L1368.6,1441.0L1370.6,1442.0L1372.6,1442.8L1374.6,1443.2L1376.6,1443.3L1378.6,1443.2L1380.6,1442.7L1382.6,1442.0L1384.6,1441.0L1386.6,1439.8L1388.6,1438.3L1390.6,1436.7L1392.6,1434.9L1394.6,1433.2L1396.6,1431.3L1398.6,1429.4L1400.6,1427.4L1402.6,1425.4L1404.6,1423.4L1406.6,1421.4L1408.6,1419.5L1410.6,1417.7L1412.6,1415.9L1414.6,1414.2L1416.6,1412.5L1418.6,1410.9L1420.6,1409.4L1422.6,1408.0L1424.6,1406.8L1426.6,1405.6L1428.6,1404.5L1430.6,1403.6L1432.6,1402.8L1434.6,1402.1L1436.6,1401.5L1438.6,1401.1L1440.6,1400.7L1442.6,1400.4L1444.6,1400.2L1446.6,1400.1L1448.6,1400.0L1450.6,1400.0L1452.6,1400.1L1454.6,1400.2L1456.6,1400.4L1458.6,1400.8L1460.6,1401.2L1462.6,1401.8L1464.6,1402.6L1466.6,1403.4L1468.6,1404.4L1470.6,1405.5L1472.6,1406.8L1474.6,1408.3L1476.6,1409.8L1478.6,1411.5L1480.6,1413.3L1482.6,1415.2L1484.6,1417.3L1486.6,1419.5L1488.6,1421.9L1490.6,1424.4L1492.6,1426.9L1494.6,1429.4L1496.6,1431.9L1498.6,1434.4L1500.6,1436.9L1502.6,1439.4L1504.6,1441.9L1506.6,1444.3L1508.6,1446.6L1510.6,1448.7L1512.6,1450.6L1514.6,1452.1L1516.6,1453.5L1518.6,1454.6L1520.6,1455.3L1522.6,1455.7L1524.6,1455.8L1526.6,1455.7L1528.6,1455.1L1530.6,1454.1L1532.6,1452.5L1534.6,1450.4L1536.6,1447.9L1538.6,1445.0L1540.6,1441.9L1542.6,1438.6L1544.6,1435.3L1546.6,1432.0L1548.6,1428.7L1550.6,1425.3L1552.6,1422.0L1554.6,1418.8L1556.6,1415.7L1558.6,1412.9L1560.6,1410.3L1562.6,1408.2L1564.6,1406.3L1566.6,1404.9L1568.6,1403.8L1570.6,1402.9L1572.6,1402.3L1574.6,1401.8L1576.6,1401.5L1578.6,1401.2L1580.6,1401.0L1582.6,1401.0L1584.6,1401.1L1586.6,1401.3L1588.6,1401.7L1590.6,1402.5L1592.6,1403.7L1594.6,1405.4L1596.6,1407.5L1598.6,1410.0L1600.6,1412.7L1602.6,1415.8L1604.6,1419.0L1606.6,1422.3L1608.6,1425.7L1610.6,1429.0L1612.6,1432.3L1614.6,1435.7L1616.6,1439.0L1618.6,1442.2L1620.6,1445.3L1622.6,1448.3L1624.6,1451.0L1626.6,1453.6L1628.6,1455.9L1630.6,1457.9L1632.6,1459.7L1634.6,1461.3L1636.6,1462.7L1638.6,1464.0L1640.6,1465.0L1642.6,1465.9L1644.6,1466.5L1646.6,1466.9L1648.6,1467.1L1650.6,1467.0L1652.6,1466.5L1654.6,1465.7L1656.6,1464.8L1658.6,1463.7L1660.6,1462.6L1662.6,1461.4L1664.6,1460.1L1666.6,1458.9L1668.6,1457.6L1670.6,1456.4L1672.6,1455.3L1674.6,1454.3L1676.6,1453.3L1678.6,1452.4L1680.6,1451.6L1682.6,1451.0L1684.6,1450.5L1686.6,1450.2L1688.6,1449.9L1690.6,1449.7L1692.6,1449.6L1694.6,1449.6L1696.6,1449.6L1698.6,1449.7L1700.6,1449.9L1702.6,1450.1L1704.6,1450.3L1706.6,1450.5L1708.6,1450.8L1710.6,1451.0L1712.6,1451.3L1714.6,1451.5L1716.6,1451.7L1718.6,1451.9L1720.6,1452.1L1722.6,1452.3L1724.6,1452.4L1726.6,1452.5L1728.6,1452.6L1730.6,1452.6L1732.6,1452.6L1734.6,1452.5L1736.6,1452.5L1738.6,1452.5L1740.6,1452.6L1742.6,1452.7L1744.6,1452.8L1746.6,1453.0L1748.6,1453.2L1750.6,1453.5L1752.6,1454.0L1754.6,1454.6L1756.6,1455.2L1758.6,1456.0L1760.6,1456.8L1762.6,1457.8L1764.6,1458.8L1766.6,1460.0L1768.6,1461.4L1770.6,1462.8L1772.6,1464.3L1774.6,1465.8L1776.6,1467.3L1778.6,1468.7L1780.6,1470.0L1782.6,1471.3L1784.6,1472.5L1786.6,1473.7L1788.6,1474.8L1790.6,1476.0L1792.6,1477.0L1794.6,1477.9L1796.6,1478.8L1798.6,1479.5L1800.6,1480.1L1802.6,1480.5L1804.6,1480.7L1806.6,1480.9L1808.6,1481.0L1810.6,1481.0L1812.6,1480.8L1814.6,1480.6L1816.6,1480.1L1818.6,1479.6L1820.6,1478.8L1822.6,1478.0L1824.6,1477.0L1826.6,1476.0L1828.6,1474.8L1830.6,1473.6L1832.6,1472.3L1834.6,1471.1L1836.6,1469.8L1838.6,1468.6L1840.6,1467.3L1842.6,1466.1L1844.6,1464.8L1846.6,1463.6L1848.6,1462.5L1850.6,1461.5L1852.6,1460.7L1854.6,1460.1L1856.6,1459.5L1858.6,1459.0L1860.6,1458.5L1862.6,1458.1L1864.6,1457.8L1866.6,1457.6L1868.6,1457.5L1870.6,1457.5L1872.6,1457.5L1874.6,1457.5L1876.6,1457.5L1878.6,1457.6L1880.6,1457.6L1882.6,1457.8L1884.6,1457.9L1886.6,1458.2L1888.6,1458.6L1890.6,1459.2L1892.6,1460.0L1894.6,1461.0L1896.6,1462.2L1898.6,1463.4L1900.6,1464.6L1902.6,1465.9L1904.6,1467.1L1906.6,1468.4L1908.6,1469.6L1910.6,1470.9L1912.6,1472.1L1914.6,1473.3L1916.6,1474.5L1918.6,1475.4L1920.6,1476.2L1922.6,1476.8L1924.6,1477.2L1926.6,1477.5L1928.6,1477.8L1930.6,1477.9L1932.6,1477.8L1934.6,1477.6L1936.6,1477.3L1938.6,1476.8L1940.6,1476.2L1942.6,1475.6L1944.6,1474.8L1946.6,1473.9L1948.6,1473.0L1950.6,1471.9L1952.6,1470.9L1954.6,1470.0L1956.6,1469.0L1958.6,1468.2L1960.6,1467.4L1962.6,1466.6L1964.6,1466.0L1966.6,1465.4L1968.6,1464.9L1970.6,1464.5L1972.6,1464.2L1974.6,1463.9L1976.6,1463.7L1978.6,1463.6L1980.6,1463.6L1982.6,1463.5L1984.6,1463.5L1986.6,1463.5L1988.6,1463.6L1990.6,1463.7L1992.6,1463.8L1994.6,1464.1L1996.6,1464.5L1998.6,1465.0L2000.6,1465.7L2002.6,1466.5L2004.6,1467.4L2006.6,1468.3L2008.6,1469.3L2010.6,1470.3L2012.6,1471.3L2014.6,1472.3L2016.6,1473.3L2018.6,1474.2L2020.6,1475.2L2022.6,1476.0L2024.6,1476.9L2026.6,1477.7L2028.6,1478.4L2030.6,1479.0L2032.6,1479.6L2034.6,1480.1L2036.6,1480.6L2038.6,1481.1L2040.6,1481.6L2042.6,1482.0L2044.6,1482.4L2046.6,1482.8L2048.6,1483.2L2050.6,1483.8L2052.6,1484.3L2054.6,1484.7L2056.6,1485.2L2058.6,1485.7L2060.6,1486.1L2062.6,1486.5L2064.6,1486.9L2066.6,1487.0L2068.6,1487.0L2070.6,1487.0L2072.6,1487.0L2074.6,1487.0L2076.6,1487.0L2078.6,1487.0L2080.6,1487.0L2082.6,1487.0L2084.6,1487.0L2086.6,1487.0L2088.6,1487.0L2090.6,1487.0L2092.6,1487.0L2094.6,1487.0L2096.6,1487.0L2098.6,1487.0L2100.6,1487.0L2102.6,1487.0L2104.6,1487.0L2106.6,1487.0L2108.6,1487.0L2110.6,1487.0L2112.6,1487.0L2114.6,1487.0L2116.6,1487.0L2118.6,1487.0L2120.6,1487.0L2122.6,1487.0L2124.6,1487.0L2126.6,1487.0L2128.6,1487.0L2130.6,1487.0L2132.6,1487.0L2134.6,1487.0L2136.6,1487.0L2138.6,1487.0L2140.6,1487.0L2142.6,1487.0L2144.6,1487.0L2146.6,1487.0L2148.6,1487.0L2150.6,1487.0L2152.6,1487.0L2154.6,1487.0L2156.6,1487.0L2158.6,1487.0L2160.6,1487.0L2162.6,1487.0L2164.6,1487.0L2166.6,1487.0L2168.6,1487.0L2170.6,1487.0L2172.6,1487.0L2174.6,1487.0L2176.6,1487.0L2178.6,1487.0L2180.6,1487.0L2182.6,1487.0L2184.6,1487.0L2186.6,1487.0L2188.6,1487.0L2190.6,1487.0L2192.6,1487.0L2194.6,1487.0L2196.6,1487.0L2198.6,1487.0L2200.6,1487.0L2202.6,1487.0L2204.6,1487.0L2206.6,1487.0L2208.6,1487.0L2210.6,1487.0L2212.6,1487.0L2214.6,1487.0L2216.6,1487.0L2218.6,1487.0L2220.6,1487.0L2222.6,1487.0L2224.6,1487.0L2226.6,1487.0L2228.6,1487.0L2230.6,1487.0L2232.6,1487.0L2234.6,1487.0L2236.6,1487.0L2238.6,1487.0L2240.6,1487.0L2242.6,1487.0L2244.6,1487.0L2246.6,1487.0L2248.6,1487.0L2250.6,1487.0L2252.6,1487.0L2254.6,1487.0L2256.6,1487.0L2258.6,1487.0L2260.6,1487.0L2262.6,1487.0L2264.6,1487.0L2266.6,1487.0L2268.6,1487.0L2270.6,1487.0L2272.6,1487.0L2274.6,1487.0L2276.6,1487.0L2276.6,1487.0Z" fill="#00ff00"/>
<path d="M214.6,1487.0L214.6,1281.7L216.6,1281.7L218.6,1281.6L220.6,1281.4L222.6,1281.1L224.6,1280.9L226.6,1280.6L228.6,1280.3L230.6,1280.1L232.6,1279.8L234.6,1279.6L236.6,1279.3L238.6,1279.1L240.6,1279.0L242.6,1278.9L244.6,1278.9L246.6,1279.0L248.6,1279.3L250.6,1279.7L252.6,1280.3L254.6,1280.9L256.6,1281.6L258.6,1282.3L260.6,1283.1L262.6,1283.9L264.6,1284.8L266.6,1285.8L268.6,1286.8L270.6,1287.8L272.6,1288.8L274.6,1289.6L276.6,1290.3L278.6,1290.8L280.6,1291.0L282.6,1290.9L284.6,1290.6L286.6,1290.2L288.6,1289.6L290.6,1289.0L292.6,1288.3L294.6,1287.6L296.6,1286.8L298.6,1286.1L300.6,1285.3L302.6,1284.6L304.6,1284.1L306.6,1283.7L308.6,1283.5L310.6,1283.5L312.6,1283.5L314.6,1283.7L316.6,1284.1L318.6,1284.7L320.6,1285.5L322.6,1286.6L324.6,1288.1L326.6,1289.9L328.6,1292.1L330.6,1294.7L332.6,1297.6L334.6,1300.8L336.6,1304.4L338.6,1308.3L340.6,1312.2L342.6,1316.1L344.6,1319.8L346.6,1323.2L348.6,1326.6L350.6,1329.8L352.6,1333.0L354.6,1336.1L356.6,1339.0L358.6,1341.6L360.6,1343.8L362.6,1345.6L364.6,1347.0L366.6,1348.3L368.6,1349.4L370.6,1350.2L372.6,1350.7L374.6,1350.7L376.6,1350.6L378.6,1350.2L380.6,1349.9L382.6,1349.4L384.6,1348.9L386.6,1348.4L388.6,1347.9L390.6,1347.4L392.6,1347.0L394.6,1346.7L396.6,1346.5L398.6,1346.3L400.6,1346.3L402.6,1346.3L404.6,1346.2L406.6,1346.2L408.6,1346.2L410.6,1346.2L412.6,1346.2L414.6,1346.3L416.6,1346.5L418.6,1346.8L420.6,1347.3L422.6,1347.7L424.6,1348.2L426.6,1348.8L428.6,1349.3L430.6,1349.7L432.6,1350.2L434.6,1350.6L436.6,1350.7L438.6,1350.5L440.6,1349.7L442.6,1348.4L444.6,1346.7L446.6,1344.5L448.6,1341.7L450.6,1338.4L452.6,1334.6L454.6,1330.5L456.6,1326.0L458.6,1321.3L460.6,1316.5L462.6,1311.5L464.6,1306.5L466.6,1301.6L468.6,1296.9L470.6,1292.2L472.6,1287.7L474.6,1283.4L476.6,1279.4L478.6,1275.8L480.6,1272.6L482.6,1269.9L484.6,1267.6L486.6,1265.8L488.6,1264.4L490.6,1263.3L492.6,1262.4L494.6,1261.6L496.6,1261.0L498.6,1260.6L500.6,1260.2L502.6,1260.0L504.6,1259.7L506.6,1259.5L508.6,1259.2L510.6,1258.8L512.6,1258.4L514.6,1257.9L516.6,1257.3L518.6,1256.6L520.6,1255.7L522.6,1254.5L524.6,1252.9L526.6,1250.9L528.6,1248.7L530.6,1246.4L532.6,1244.0L534.6,1241.7L536.6,1239.4L538.6,1237.1L540.6,1234.9L542.6,1232.9L544.6,1231.4L546.6,1230.2L548.6,1229.3L550.6,1228.7L552.6,1228.1L554.6,1227.7L556.6,1227.5L558.6,1227.3L560.6,1227.2L562.6,1227.2L564.6,1227.2L566.6,1227.4L568.6,1227.6L570.6,1227.9L572.6,1228.2L574.6,1228.6L576.6,1228.9L578.6,1229.2L580.6,1229.5L582.6,1229.7L584.6,1229.9L586.6,1229.8L588.6,1229.6L590.6,1229.2L592.6,1228.6L594.6,1227.9L596.6,1227.2L598.6,1226.4L600.6,1225.6L602.6,1224.8L604.6,1224.1L606.6,1223.4L608.6,1223.0L610.6,1222.6L612.6,1222.3L614.6,1222.1L616.6,1222.0L618.6,1222.0L620.6,1222.0L622.6,1222.1L624.6,1222.4L626.6,1222.7L628.6,1223.3L630.6,1224.0L632.6,1224.9L634.6,1226.0L636.6,1227.3L638.6,1228.7L640.6,1230.3L642.6,1232.1L644.6,1234.1L646.6,1236.3L648.6,1238.7L650.6,1241.2L652.6,1243.7L654.6,1246.2L656.6,1248.7L658.6,1251.0L660.6,1253.3L662.6,1255.6L664.6,1257.7L666.6,1259.7L668.6,1261.5L670.6,1263.1L672.6,1264.5L674.6,1265.8L676.6,1267.0L678.6,1268.1L680.6,1269.0L682.6,1269.5L684.6,1269.7L686.6,1269.5L688.6,1268.9L690.6,1268.1L692.6,1267.2L694.6,1266.0L696.6,1264.8L698.6,1263.5L700.6,1262.3L702.6,1261.1L704.6,1260.0L706.6,1258.9L708.6,1258.0L710.6,1257.2L712.6,1256.4L714.6,1255.8L716.6,1255.4L718.6,1255.3L720.6,1255.3L722.6,1255.5L724.6,1255.9L726.6,1256.6L728.6,1257.7L730.6,1259.2L732.6,1261.0L734.6,1263.1L736.6,1265.6L738.6,1268.3L740.6,1271.2L742.6,1274.2L744.6,1277.2L746.6,1280.1L748.6,1283.1L750.6,1286.1L752.6,1289.0L754.6,1291.7L756.6,1294.0L758.6,1295.9L760.6,1297.6L762.6,1299.0L764.6,1300.3L766.6,1301.3L768.6,1302.2L770.6,1302.8L772.6,1303.3L774.6,1303.7L776.6,1304.0L778.6,1304.2L780.6,1304.3L782.6,1304.2L784.6,1304.2L786.6,1304.2L788.6,1304.2L790.6,1304.3L792.6,1304.5L794.6,1304.8L796.6,1305.1L798.6,1305.4L800.6,1305.7L802.6,1305.9L804.6,1306.1L806.6,1306.2L808.6,1306.3L810.6,1306.3L812.6,1306.2L814.6,1306.0L816.6,1305.6L818.6,1305.1L820.6,1304.5L822.6,1303.9L824.6,1303.3L826.6,1302.9L828.6,1302.7L830.6,1302.5L832.6,1302.4L834.6,1302.3L836.6,1302.2L838.6,1302.2L840.6,1302.3L842.6,1302.4L844.6,1302.5L846.6,1302.8L848.6,1303.3L850.6,1304.0L852.6,1304.9L854.6,1306.0L856.6,1307.2L858.6,1308.5L860.6,1309.9L862.6,1311.4L864.6,1312.9L866.6,1314.4L868.6,1315.7L870.6,1316.8L872.6,1317.7L874.6,1318.4L876.6,1318.8L878.6,1318.9L880.6,1318.5L882.6,1317.6L884.6,1316.0L886.6,1313.9L888.6,1311.2L890.6,1307.7L892.6,1303.5L894.6,1298.6L896.6,1293.4L898.6,1288.1L900.6,1282.7L902.6,1277.4L904.6,1272.1L906.6,1266.9L908.6,1261.9L910.6,1257.4L912.6,1253.3L914.6,1249.7L916.6,1246.2L918.6,1243.0L920.6,1240.1L922.6,1237.5L924.6,1235.3L926.6,1233.5L928.6,1232.2L930.6,1231.2L932.6,1230.5L934.6,1229.9L936.6,1229.5L938.6,1229.2L940.6,1229.0L942.6,1228.9L944.6,1228.9L946.6,1229.0L948.6,1229.3L950.6,1229.7L952.6,1230.5L954.6,1231.6L956.6,1233.2L958.6,1235.1L960.6,1237.2L962.6,1239.6L964.6,1241.9L966.6,1244.4L968.6,1246.9L970.6,1249.4L972.6,1251.9L974.6,1254.3L976.6,1256.7L978.6,1258.9L980.6,1260.9L982.6,1262.9L984.6,1264.6L986.6,1266.3L988.6,1267.9L990.6,1269.4L992.6,1270.8L994.6,1272.4L996.6,1273.9L998.6,1275.6L1000.6,1277.3L1002.6,1279.1L1004.6,1281.0L1006.6,1283.1L1008.6,1285.5L1010.6,1288.2L1012.6,1291.1L1014.6,1294.1L1016.6,1297.4L1018.6,1300.7L1020.6,1304.2L1022.6,1307.7L1024.6,1311.4L1026.6,1315.2L1028.6,1319.2L1030.6,1323.2L1032.6,1327.2L1034.6,1331.2L1036.6,1335.0L1038.6,1338.7L1040.6,1342.3L1042.6,1345.7L1044.6,1349.0L1046.6,1352.1L1048.6,1355.1L1050.6,1358.1L1052.6,1361.1L1054.6,1364.1L1056.6,1367.1L1058.6,1370.1L1060.6,1373.1L1062.6,1376.1L1064.6,1379.1L1066.6,1382.0L1068.6,1384.7L1070.6,1387.2L1072.6,1389.6L1074.6,1391.9L1076.6,1394.0L1078.6,1395.9L1080.6,1397.5L1082.6,1398.8L1084.6,1399.7L1086.6,1400.3L1088.6,1400.4L1090.6,1400.2L1092.6,1399.6L1094.6,1398.5L1096.6,1396.7L1098.6,1394.1L1100.6,1390.8L1102.6,1386.9L1104.6,1382.4L1106.6,1377.4L1108.6,1372.2L1110.6,1366.9L1112.6,1361.7L1114.6,1356.7L1116.6,1351.9L1118.6,1347.3L1120.6,1343.1L1122.6,1339.3L1124.6,1335.8L1126.6,1332.7L1128.6,1329.8L1130.6,1327.1L1132.6,1324.8L1134.6,1322.8L1136.6,1321.2L1138.6,1319.9L1140.6,1318.9L1142.6,1318.1L1144.6,1317.5L1146.6,1317.1L1148.6,1316.8L1150.6,1316.5L1152.6,1316.4L1154.6,1316.3L1156.6,1316.3L1158.6,1316.5L1160.6,1316.7L1162.6,1316.9L1164.6,1317.4L1166.6,1317.9L1168.6,1318.5L1170.6,1319.2L1172.6,1319.9L1174.6,1320.6L1176.6,1321.4L1178.6,1322.1L1180.6,1322.9L1182.6,1323.9L1184.6,1325.0L1186.6,1326.4L1188.6,1327.8L1190.6,1329.3L1192.6,1330.8L1194.6,1332.3L1196.6,1333.8L1198.6,1335.3L1200.6,1336.8L1202.6,1338.3L1204.6,1339.8L1206.6,1341.3L1208.6,1342.7L1210.6,1344.1L1212.6,1345.5L1214.6,1346.9L1216.6,1348.2L1218.6,1349.4L1220.6,1350.5L1222.6,1351.6L1224.6,1352.5L1226.6,1353.3L1228.6,1354.0L1230.6,1354.4L1232.6,1354.7L1234.6,1354.9L1236.6,1354.8L1238.6,1354.5L1240.6,1353.9L1242.6,1353.0L1244.6,1351.7L1246.6,1350.2L1248.6,1348.5L1250.6,1346.5L1252.6,1344.4L1254.6,1342.1L1256.6,1339.8L1258.6,1337.6L1260.6,1335.6L1262.6,1333.7L1264.6,1332.0L1266.6,1330.5L1268.6,1329.2L1270.6,1328.1L1272.6,1327.2L1274.6,1326.5L1276.6,1326.1L1278.6,1325.8L1280.6,1325.6L1282.6,1325.6L1284.6,1325.8L1286.6,1326.2L1288.6,1326.7L1290.6,1327.5L1292.6,1328.5L1294.6,1329.9L1296.6,1331.7L1298.6,1334.2L1300.6,1337.1L1302.6,1340.4L1304.6,1343.9L1306.6,1347.7L1308.6,1351.6L1310.6,1355.6L1312.6,1359.8L1314.6,1364.0L1316.6,1368.3L1318.6,1372.6L1320.6,1376.9L1322.6,1381.0L1324.6,1385.0L1326.6,1389.0L1328.6,1392.9L1330.6,1396.7L1332.6,1400.4L1334.6,1403.7L1336.6,1406.6L1338.6,1409.0L1340.6,1411.1L1342.6,1413.1L1344.6,1415.3L1346.6,1417.7L1348.6,1420.3L1350.6,1423.0L1352.6,1425.5L1354.6,1428.0L1356.6,1430.4L1358.6,1432.6L1360.6,1434.7L1362.6,1436.6L1364.6,1438.3L1366.6,1439.8L1368.6,1441.0L1370.6,1442.0L1372.6,1442.8L1374.6,1443.2L1376.6,1443.3L1378.6,1443.2L1380.6,1442.7L1382.6,1442.0L1384.6,1441.0L1386.6,1439.8L1388.6,1438.3L1390.6,1436.7L1392.6,1434.9L1394.6,1433.2L1396.6,1431.3L1398.6,1429.4L1400.6,1427.4L1402.6,1425.4L1404.6,1423.4L1406.6,1421.4L1408.6,1419.5L1410.6,1417.7L1412.6,1415.9L1414.6,1414.2L1416.6,1412.5L1418.6,1410.9L1420.6,1409.4L1422.6,1408.0L1424.6,1406.8L1426.6,1405.6L1428.6,1404.5L1430.6,1403.6L1432.6,1402.8L1434.6,1402.1L1436.6,1401.5L1438.6,1401.1L1440.6,1400.7L1442.6,1400.4L1444.6,1400.2L1446.6,1400.1L1448.6,1400.0L1450.6,1400.0L1452.6,1400.1L1454.6,1400.2L1456.6,1400.4L1458.6,1400.8L1460.6,1401.2L1462.6,1401.8L1464.6,1402.6L1466.6,1403.4L1468.6,1404.4L1470.6,1405.5L1472.6,1406.8L1474.6,1408.3L1476.6,1409.8L1478.6,1411.5L1480.6,1413.3L1482.6,1415.2L1484.6,1417.3L1486.6,1419.5L1488.6,1421.9L1490.6,1424.4L1492.6,1426.9L1494.6,1429.4L1496.6,1431.9L1498.6,1434.4L1500.6,1436.9L1502.6,1439.4L1504.6,1441.9L1506.6,1444.3L1508.6,1446.6L1510.6,1448.7L1512.6,1450.6L1514.6,1452.1L1516.6,1453.5L1518.6,1454.6L1520.6,1455.3L1522.6,1455.7L1524.6,1455.8L1526.6,1455.7L1528.6,1455.1L1530.6,1454.1L1532.6,1452.5L1534.6,1450.4L1536.6,1447.9L1538.6,1445.0L1540.6,1441.9L1542.6,1438.6L1544.6,1435.3L1546.6,1432.0L1548.6,1428.7L1550.6,1425.3L1552.6,1422.0L1554.6,1418.8L1556.6,1415.7L1558.6,1412.9L1560.6,1410.3L1562.6,1408.2L1564.6,1406.3L1566.6,1404.9L1568.6,1403.8L1570.6,1402.9L1572.6,1402.3L1574.6,1401.8L1576.6,1401.5L1578.6,1401.2L1580.6,1401.0L1582.6,1401.0L1584.6,1401.1L1586.6,1401.3L1588.6,1401.7L1590.6,1402.5L1592.6,1403.7L1594.6,1405.4L1596.6,1407.5L1598.6,1410.0L1600.6,1412.7L1602.6,1415.8L1604.6,1419.0L1606.6,1422.3L1608.6,1425.7L1610.6,1429.0L1612.6,1432.3L1614.6,1435.7L1616.6,1439.0L1618.6,1442.2L1620.6,1445.3L1622.6,1448.3L1624.6,1451.0L1626.6,1453.6L1628.6,1455.9L1630.6,1457.9L1632.6,1459.7L1634.6,1461.3L1636.6,1462.7L1638.6,1464.0L1640.6,1465.0L1642.6,1465.9L1644.6,1466.5L1646.6,1466.9L1648.6,1467.1L1650.6,1467.0L1652.6,1466.5L1654.6,1465.7L1656.6,1464.8L1658.6,1463.7L1660.6,1462.6L1662.6,1461.4L1664.6,1460.1L1666.6,1458.9L1668.6,1457.6L1670.6,1456.4L1672.6,1455.3L1674.6,1454.3L1676.6,1453.3L1678.6,1452.4L1680.6,1451.6L1682.6,1451.0L1684.6,1450.5L1686.6,1450.2L1688.6,1449.9L1690.6,1449.7L1692.6,1449.6L1694.6,1449.6L1696.6,1449.6L1698.6,1449.7L1700.6,1449.9L1702.6,1450.1L1704.6,1450.3L1706.6,1450.5L1708.6,1450.8L1710.6,1451.0L1712.6,1451.3L1714.6,1451.5L1716.6,1451.7L1718.6,1451.9L1720.6,1452.1L1722.6,1452.3L1724.6,1452.4L1726.6,1452.5L1728.6,1452.6L1730.6,1452.6L1732.6,1452.6L1734.6,1452.5L1736.6,1452.5L1738.6,1452.5L1740.6,1452.6L1742.6,1452.7L1744.6,1452.8L1746.6,1453.0L1748.6,1453.2L1750.6,1453.5L1752.6,1454.0L1754.6,1454.6L1756.6,1455.2L1758.6,1456.0L1760.6,1456.8L1762.6,1457.8L1764.6,1458.8L1766.6,1460.0L1768.6,1461.4L1770.6,1462.8L1772.6,1464.3L1774.6,1465.8L1776.6,1467.3L1778.6,1468.7L1780.6,1470.0L1782.6,1471.3L1784.6,1472.5L1786.6,1473.7L1788.6,1474.8L1790.6,1476.0L1792.6,1477.0L1794.6,1477.9L1796.6,1478.8L1798.6,1479.5L1800.6,1480.1L1802.6,1480.5L1804.6,1480.7L1806.6,1480.9L1808.6,1481.0L1810.6,1481.0L1812.6,1480.8L1814.6,1480.6L1816.6,1480.1L1818.6,1479.6L1820.6,1478.8L1822.6,1478.0L1824.6,1477.0L1826.6,1476.0L1828.6,1474.8L1830.6,1473.6L1832.6,1472.3L1834.6,1471.1L1836.6,1469.8L1838.6,1468.6L1840.6,1467.3L1842.6,1466.1L1844.6,1464.8L1846.6,1463.6L1848.6,1462.5L1850.6,1461.5L1852.6,1460.7L1854.6,1460.1L1856.6,1459.5L1858.6,1459.0L1860.6,1458.5L1862.6,1458.1L1864.6,1457.8L1866.6,1457.6L1868.6,1457.5L1870.6,1457.5L1872.6,1457.5L1874.6,1457.5L1876.6,1457.5L1878.6,1457.6L1880.6,1457.6L1882.6,1457.8L1884.6,1457.9L1886.6,1458.2L1888.6,1458.6L1890.6,1459.2L1892.6,1460.0L1894.6,1461.0L1896.6,1462.2L1898.6,1463.4L1900.6,1464.6L1902.6,1465.9L1904.6,1467.1L1906.6,1468.4L1908.6,1469.6L1910.6,1470.9L1912.6,1472.1L1914.6,1473.3L1916.6,1474.5L1918.6,1475.4L1920.6,1476.2L1922.6,1476.8L1924.6,1477.2L1926.6,1477.5L1928.6,1477.8L1930.6,1477.9L1932.6,1477.8L1934.6,1477.6L1936.6,1477.3L1938.6,1476.8L1940.6,1476.2L1942.6,1475.6L1944.6,1474.8L1946.6,1473.9L1948.6,1473.0L1950.6,1471.9L1952.6,1470.9L1954.6,1470.0L1956.6,1469.0L1958.6,1468.2L1960.6,1467.4L1962.6,1466.6L1964.6,1466.0L1966.6,1465.4L1968.6,1464.9L1970.6,1464.5L1972.6,1464.2L1974.6,1463.9L1976.6,1463.7L1978.6,1463.6L1980.6,1463.6L1982.6,1463.5L1984.6,1463.5L1986.6,1463.5L1988.6,1463.6L1990.6,1463.7L1992.6,1463.8L1994.6,1464.1L1996.6,1464.5L1998.6,1465.0L2000.6,1465.7L2002.6,1466.5L2004.6,1467.4L2006.6,1468.3L2008.6,1469.3L2010.6,1470.3L2012.6,1471.3L2014.6,1472.3L2016.6,1473.3L2018.6,1474.2L2020.6,1475.2L2022.6,1476.0L2024.6,1476.9L2026.6,1477.7L2028.6,1478.4L2030.6,1479.0L2032.6,1479.6L2034.6,1480.1L2036.6,1480.6L2038.6,1481.1L2040.6,1481.6L2042.6,1482.0L2044.6,1482.4L2046.6,1482.8L2048.6,1483.2L2050.6,1483.8L2052.6,1484.3L2054.6,1484.7L2056.6,1485.2L2058.6,1485.7L2060.6,1486.1L2062.6,1486.5L2064.6,1486.9L2066.6,1487.0L2068.6,1487.0L2070.6,1487.0L2072.6,1487.0L2074.6,1487.0L2076.6,1487.0L2078.6,1487.0L2080.6,1487.0L2082.6,1487.0L2084.6,1487.0L2086.6,1487.0L2088.6,1487.0L2090.6,1487.0L2092.6,1487.0L2094.6,1487.0L2096.6,1487.0L2098.6,1487.0L2100.6,1487.0L2102.6,1487.0L2104.6,1487.0L2106.6,1487.0L2108.6,1487.0L2110.6,1487.0L2112.6,1487.0L2114.6,1487.0L2116.6,1487.0L2118.6,1487.0L2120.6,1487.0L2122.6,1487.0L2124.6,1487.0L2126.6,1487.0L2128.6,1487.0L2130.6,1487.0L2132.6,1487.0L2134.6,1487.0L2136.6,1487.0L2138.6,1487.0L2140.6,1487.0L2142.6,1487.0L2144.6,1487.0L2146.6,1487.0L2148.6,1487.0L2150.6,1487.0L2152.6,1487.0L2154.6,1487.0L2156.6,1487.0L2158.6,1487.0L2160.6,1487.0L2162.6,1487.0L2164.6,1487.0L2166.6,1487.0L2168.6,1487.0L2170.6,1487.0L2172.6,1487.0L2174.6,1487.0L2176.6,1487.0L2178.6,1487.0L2180.6,1487.0L2182.6,1487.0L2184.6,1487.0L2186.6,1487.0L2188.6,1487.0L2190.6,1487.0L2192.6,1487.0L2194.6,1487.0L2196.6,1487.0L2198.6,1487.0L2200.6,1487.0L2202.6,1487.0L2204.6,1487.0L2206.6,1487.0L2208.6,1487.0L2210.6,1487.0L2212.6,1487.0L2214.6,1487.0L2216.6,1487.0L2218.6,1487.0L2220.6,1487.0L2222.6,1487.0L2224.6,1487.0L2226.6,1487.0L2228.6,1487.0L2230.6,1487.0L2232.6,1487.0L2234.6,1487.0L2236.6,1487.0L2238.6,1487.0L2240.6,1487.0L2242.6,1487.0L2244.6,1487.0L2246.6,1487.0L2248.6,1487.0L2250.6,1487.0L2252.6,1487.0L2254.6,1487.0L2256.6,1487.0L2258.6,1487.0L2260.6,1487.0L2262.6,1487.0L2264.6,1487.0L2266.6,1487.0L2268.6,1487.0L2270.6,1487.0L2272.6,1487.0L2274.6,1487.0L2276.6,1487.0L2276.6,1487.0Z" fill="#0000ff"/>
<path d="M214.6,1346.7L216.6,1346.6L218.6,1346.2L220.6,1345.4L222.6,1344.4L224.6,1343.5L226.6,1342.6L228.6,1341.8L230.6,1341.1L232.6,1340.6L234.6,1340.1L236.6,1339.6L238.6,1339.2L240.6,1338.8L242.6,1338.5L244.6,1338.3L246.6,1338.4L248.6,1338.7L250.6,1339.2L252.6,1339.8L254.6,1340.4L256.6,1341.1L258.6,1341.8L260.6,1342.5L262.6,1343.1L264.6,1343.8L266.6,1344.5L268.6,1345.2L270.6,1345.9L272.6,1346.5L274.6,1347.2L276.6,1347.7L278.6,1348.2L280.6,1348.4L282.6,1348.4L284.6,1348.3L286.6,1348.1L288.6,1347.8L290.6,1347.5L292.6,1347.2L294.6,1346.9L296.6,1346.7L298.6,1346.4L300.6,1346.1L302.6,1345.8L304.6,1345.5L306.6,1345.3L308.6,1345.1L310.6,1345.0L312.6,1345.0L314.6,1345.2L316.6,1345.6L318.6,1346.2L320.6,1347.0L322.6,1348.2L324.6,1349.5L326.6,1351.1L328.6,1352.9L330.6,1354.8L332.6,1357.1L334.6,1359.5L336.6,1362.1L338.6,1364.8L340.6,1367.5L342.6,1370.1L344.6,1372.8L346.6,1375.4L348.6,1378.0L350.6,1380.3L352.6,1382.4L354.6,1384.2L356.6,1385.9L358.6,1387.4L360.6,1388.7L362.6,1389.9L364.6,1391.0L366.6,1391.9L368.6,1392.5L370.6,1392.7L372.6,1392.6L374.6,1392.3L376.6,1392.0L378.6,1391.5L380.6,1391.1L382.6,1390.6L384.6,1390.1L386.6,1389.6L388.6,1389.1L390.6,1388.7L392.6,1388.2L394.6,1387.8L396.6,1387.5L398.6,1387.2L400.6,1386.9L402.6,1386.8L404.6,1386.7L406.6,1386.7L408.6,1386.8L410.6,1386.9L412.6,1387.1L414.6,1387.2L416.6,1387.4L418.6,1387.6L420.6,1387.7L422.6,1387.9L424.6,1388.1L426.6,1388.3L428.6,1388.5L430.6,1388.7L432.6,1388.9L434.6,1389.1L436.6,1389.1L438.6,1388.8L440.6,1388.3L442.6,1387.4L444.6,1386.3L446.6,1384.8L448.6,1383.0L450.6,1380.7L452.6,1377.9L454.6,1374.7L456.6,1371.2L458.6,1367.5L460.6,1363.7L462.6,1359.8L464.6,1355.8L466.6,1351.8L468.6,1348.0L470.6,1344.3L472.6,1340.9L474.6,1337.8L476.6,1334.8L478.6,1332.2L480.6,1329.8L482.6,1327.8L484.6,1326.0L486.6,1324.4L488.6,1323.1L490.6,1322.1L492.6,1321.2L494.6,1320.4L496.6,1319.8L498.6,1319.2L500.6,1318.7L502.6,1318.2L504.6,1317.9L506.6,1317.5L508.6,1317.2L510.6,1316.8L512.6,1316.3L514.6,1315.7L516.6,1315.0L518.6,1314.1L520.6,1313.1L522.6,1311.8L524.6,1310.3L526.6,1308.5L528.6,1306.5L530.6,1304.3L532.6,1302.0L534.6,1299.7L536.6,1297.4L538.6,1295.3L540.6,1293.3L542.6,1291.4L544.6,1289.7L546.6,1288.0L548.6,1286.6L550.6,1285.4L552.6,1284.3L554.6,1283.4L556.6,1282.7L558.6,1282.2L560.6,1281.9L562.6,1281.8L564.6,1281.8L566.6,1281.9L568.6,1282.2L570.6,1282.5L572.6,1282.9L574.6,1283.4L576.6,1283.9L578.6,1284.4L580.6,1284.9L582.6,1285.2L584.6,1285.4L586.6,1285.5L588.6,1285.4L590.6,1285.1L592.6,1284.7L594.6,1284.3L596.6,1283.9L598.6,1283.5L600.6,1283.0L602.6,1282.5L604.6,1282.0L606.6,1281.5L608.6,1281.1L610.6,1280.6L612.6,1280.3L614.6,1280.1L616.6,1280.0L618.6,1280.0L620.6,1280.0L622.6,1280.1L624.6,1280.4L626.6,1280.7L628.6,1281.1L630.6,1281.7L632.6,1282.4L634.6,1283.3L636.6,1284.3L638.6,1285.4L640.6,1286.5L642.6,1287.8L644.6,1289.1L646.6,1290.4L648.6,1291.8L650.6,1293.2L652.6,1294.7L654.6,1296.2L656.6,1297.7L658.6,1299.2L660.6,1300.7L662.6,1302.1L664.6,1303.6L666.6,1305.0L668.6,1306.3L670.6,1307.7L672.6,1308.9L674.6,1310.0L676.6,1311.0L678.6,1311.9L680.6,1312.8L682.6,1313.4L684.6,1313.9L686.6,1314.1L688.6,1314.0L690.6,1313.7L692.6,1313.1L694.6,1312.3L696.6,1311.4L698.6,1310.3L700.6,1309.2L702.6,1307.9L704.6,1306.6L706.6,1305.4L708.6,1304.3L710.6,1303.4L712.6,1302.7L714.6,1302.1L716.6,1301.7L718.6,1301.4L720.6,1301.2L722.6,1301.3L724.6,1301.6L726.6,1302.0L728.6,1302.7L730.6,1303.7L732.6,1305.0L734.6,1306.7L736.6,1308.6L738.6,1310.6L740.6,1312.6L742.6,1314.6L744.6,1316.6L746.6,1318.6L748.6,1320.6L750.6,1322.6L752.6,1324.6L754.6,1326.6L756.6,1328.4L758.6,1330.1L760.6,1331.6L762.6,1332.9L764.6,1334.0L766.6,1335.0L768.6,1335.8L770.6,1336.5L772.6,1337.1L774.6,1337.5L776.6,1337.8L778.6,1338.0L780.6,1338.0L782.6,1338.0L784.6,1338.0L786.6,1338.0L788.6,1338.0L790.6,1338.1L792.6,1338.2L794.6,1338.4L796.6,1338.6L798.6,1338.9L800.6,1339.0L802.6,1339.2L804.6,1339.2L806.6,1339.0L808.6,1338.8L810.6,1338.5L812.6,1338.1L814.6,1337.7L816.6,1337.1L818.6,1336.4L820.6,1335.7L822.6,1334.9L824.6,1334.1L826.6,1333.5L828.6,1333.0L830.6,1332.6L832.6,1332.3L834.6,1332.1L836.6,1331.9L838.6,1331.8L840.6,1331.8L842.6,1331.7L844.6,1331.7L846.6,1331.8L848.6,1332.0L850.6,1332.4L852.6,1333.0L854.6,1333.7L856.6,1334.6L858.6,1335.5L860.6,1336.4L862.6,1337.3L864.6,1338.2L866.6,1339.1L868.6,1339.9L870.6,1340.7L872.6,1341.4L874.6,1341.9L876.6,1342.1L878.6,1341.9L880.6,1341.5L882.6,1340.8L884.6,1339.6L886.6,1337.8L888.6,1335.5L890.6,1332.6L892.6,1329.0L894.6,1324.7L896.6,1319.9L898.6,1314.7L900.6,1309.4L902.6,1304.2L904.6,1299.3L906.6,1294.5L908.6,1289.9L910.6,1285.4L912.6,1281.1L914.6,1277.1L916.6,1273.3L918.6,1269.7L920.6,1266.6L922.6,1263.9L924.6,1261.7L926.6,1259.8L928.6,1258.3L930.6,1257.1L932.6,1256.3L934.6,1255.8L936.6,1255.4L938.6,1255.2L940.6,1255.1L942.6,1255.0L944.6,1255.1L946.6,1255.2L948.6,1255.5L950.6,1256.0L952.6,1256.8L954.6,1257.9L956.6,1259.3L958.6,1261.0L960.6,1263.0L962.6,1265.2L964.6,1267.5L966.6,1270.0L968.6,1272.6L970.6,1275.1L972.6,1277.4L974.6,1279.7L976.6,1281.9L978.6,1283.9L980.6,1285.8L982.6,1287.6L984.6,1289.2L986.6,1290.7L988.6,1292.2L990.6,1293.7L992.6,1295.2L994.6,1296.7L996.6,1298.2L998.6,1299.7L1000.6,1301.2L1002.6,1302.9L1004.6,1304.7L1006.6,1306.9L1008.6,1309.4L1010.6,1312.1L1012.6,1314.9L1014.6,1317.8L1016.6,1320.7L1018.6,1323.7L1020.6,1326.8L1022.6,1330.0L1024.6,1333.3L1026.6,1336.8L1028.6,1340.3L1030.6,1343.8L1032.6,1347.2L1034.6,1350.5L1036.6,1353.6L1038.6,1356.7L1040.6,1359.6L1042.6,1362.4L1044.6,1365.0L1046.6,1367.5L1048.6,1370.0L1050.6,1372.5L1052.6,1375.1L1054.6,1377.7L1056.6,1380.5L1058.6,1383.3L1060.6,1386.0L1062.6,1388.6L1064.6,1391.1L1066.6,1393.4L1068.6,1395.7L1070.6,1397.9L1072.6,1400.0L1074.6,1402.2L1076.6,1404.2L1078.6,1406.2L1080.6,1408.0L1082.6,1409.5L1084.6,1410.6L1086.6,1411.3L1088.6,1411.6L1090.6,1411.6L1092.6,1411.3L1094.6,1410.4L1096.6,1408.9L1098.6,1406.5L1100.6,1403.4L1102.6,1399.4L1104.6,1394.9L1106.6,1389.9L1108.6,1384.7L1110.6,1379.4L1112.6,1374.2L1114.6,1369.2L1116.6,1364.4L1118.6,1359.8L1120.6,1355.7L1122.6,1351.9L1124.6,1348.8L1126.6,1346.1L1128.6,1343.8L1130.6,1341.9L1132.6,1340.2L1134.6,1338.7L1136.6,1337.6L1138.6,1336.7L1140.6,1336.0L1142.6,1335.4L1144.6,1334.9L1146.6,1334.5L1148.6,1334.2L1150.6,1334.0L1152.6,1333.9L1154.6,1333.8L1156.6,1333.8L1158.6,1333.8L1160.6,1334.0L1162.6,1334.3L1164.6,1334.6L1166.6,1335.1L1168.6,1335.8L1170.6,1336.6L1172.6,1337.4L1174.6,1338.3L1176.6,1339.3L1178.6,1340.3L1180.6,1341.4L1182.6,1342.4L1184.6,1343.5L1186.6,1344.7L1188.6,1345.9L1190.6,1347.1L1192.6,1348.4L1194.6,1349.6L1196.6,1350.9L1198.6,1352.1L1200.6,1353.4L1202.6,1354.6L1204.6,1355.9L1206.6,1357.1L1208.6,1358.3L1210.6,1359.4L1212.6,1360.5L1214.6,1361.4L1216.6,1362.3L1218.6,1363.2L1220.6,1364.1L1222.6,1364.9L1224.6,1365.6L1226.6,1366.2L1228.6,1366.8L1230.6,1367.1L1232.6,1367.3L1234.6,1367.2L1236.6,1366.9L1238.6,1366.4L1240.6,1365.6L1242.6,1364.3L1244.6,1362.7L1246.6,1360.8L1248.6,1358.8L1250.6,1356.8L1252.6,1354.6L1254.6,1352.4L1256.6,1350.2L1258.6,1347.9L1260.6,1345.7L1262.6,1343.6L1264.6,1341.9L1266.6,1340.5L1268.6,1339.5L1270.6,1338.7L1272.6,1338.2L1274.6,1337.8L1276.6,1337.6L1278.6,1337.5L1280.6,1337.5L1282.6,1337.6L1284.6,1337.8L1286.6,1338.1L1288.6,1338.7L1290.6,1339.6L1292.6,1340.7L1294.6,1342.3L1296.6,1344.2L1298.6,1346.3L1300.6,1348.8L1302.6,1351.4L1304.6,1354.3L1306.6,1357.3L1308.6,1360.5L1310.6,1363.9L1312.6,1367.4L1314.6,1371.0L1316.6,1374.6L1318.6,1378.3L1320.6,1381.9L1322.6,1385.6L1324.6,1389.3L1326.6,1392.9L1328.6,1396.5L1330.6,1400.0L1332.6,1403.3L1334.6,1406.5L1336.6,1409.7L1338.6,1412.7L1340.6,1415.7L1342.6,1418.5L1344.6,1421.1L1346.6,1423.6L1348.6,1426.0L1350.6,1428.3L1352.6,1430.7L1354.6,1433.1L1356.6,1435.5L1358.6,1438.0L1360.6,1440.2L1362.6,1442.2L1364.6,1443.9L1366.6,1445.3L1368.6,1446.5L1370.6,1447.4L1372.6,1448.1L1374.6,1448.5L1376.6,1448.6L1378.6,1448.5L1380.6,1448.1L1382.6,1447.5L1384.6,1446.6L1386.6,1445.5L1388.6,1444.1L1390.6,1442.5L1392.6,1440.9L1394.6,1439.3L1396.6,1437.5L1398.6,1435.7L1400.6,1433.9L1402.6,1432.0L1404.6,1430.2L1406.6,1428.3L1408.6,1426.6L1410.6,1424.8L1412.6,1423.2L1414.6,1421.6L1416.6,1420.0L1418.6,1418.5L1420.6,1417.1L1422.6,1415.8L1424.6,1414.6L1426.6,1413.5L1428.6,1412.6L1430.6,1411.8L1432.6,1411.1L1434.6,1410.5L1436.6,1410.0L1438.6,1409.6L1440.6,1409.2L1442.6,1409.0L1444.6,1408.7L1446.6,1408.6L1448.6,1408.5L1450.6,1408.5L1452.6,1408.6L1454.6,1408.7L1456.6,1408.9L1458.6,1409.2L1460.6,1409.6L1462.6,1410.2L1464.6,1410.8L1466.6,1411.5L1468.6,1412.3L1470.6,1413.2L1472.6,1414.3L1474.6,1415.5L1476.6,1416.9L1478.6,1418.5L1480.6,1420.1L1482.6,1421.9L1484.6,1423.8L1486.6,1425.9L1488.6,1428.0L1490.6,1430.2L1492.6,1432.4L1494.6,1434.7L1496.6,1437.0L1498.6,1439.3L1500.6,1441.6L1502.6,1444.0L1504.6,1446.3L1506.6,1448.6L1508.6,1450.8L1510.6,1452.7L1512.6,1454.5L1514.6,1456.0L1516.6,1457.3L1518.6,1458.3L1520.6,1459.1L1522.6,1459.5L1524.6,1459.6L1526.6,1459.4L1528.6,1458.9L1530.6,1457.8L1532.6,1456.3L1534.6,1454.2L1536.6,1451.6L1538.6,1448.8L1540.6,1445.7L1542.6,1442.4L1544.6,1439.1L1546.6,1435.7L1548.6,1432.4L1550.6,1429.1L1552.6,1425.8L1554.6,1422.5L1556.6,1419.4L1558.6,1416.6L1560.6,1414.1L1562.6,1411.9L1564.6,1410.0L1566.6,1408.4L1568.6,1407.1L1570.6,1406.2L1572.6,1405.4L1574.6,1404.9L1576.6,1404.5L1578.6,1404.2L1580.6,1404.1L1582.6,1404.1L1584.6,1404.2L1586.6,1404.5L1588.6,1404.9L1590.6,1405.7L1592.6,1406.8L1594.6,1408.5L1596.6,1410.5L1598.6,1413.0L1600.6,1415.8L1602.6,1418.7L1604.6,1421.9L1606.6,1425.0L1608.6,1428.3L1610.6,1431.5L1612.6,1434.8L1614.6,1438.2L1616.6,1441.4L1618.6,1444.6L1620.6,1447.6L1622.6,1450.5L1624.6,1453.1L1626.6,1455.6L1628.6,1457.8L1630.6,1459.8L1632.6,1461.7L1634.6,1463.3L1636.6,1464.8L1638.6,1466.0L1640.6,1467.0L1642.6,1467.9L1644.6,1468.5L1646.6,1468.9L1648.6,1469.1L1650.6,1469.0L1652.6,1468.5L1654.6,1467.8L1656.6,1466.9L1658.6,1465.9L1660.6,1464.9L1662.6,1463.7L1664.6,1462.5L1666.6,1461.3L1668.6,1460.1L1670.6,1458.9L1672.6,1457.8L1674.6,1456.8L1676.6,1455.8L1678.6,1454.9L1680.6,1454.1L1682.6,1453.5L1684.6,1453.0L1686.6,1452.6L1688.6,1452.4L1690.6,1452.2L1692.6,1452.1L1694.6,1452.1L1696.6,1452.1L1698.6,1452.2L1700.6,1452.4L1702.6,1452.6L1704.6,1452.8L1706.6,1453.0L1708.6,1453.3L1710.6,1453.5L1712.6,1453.8L1714.6,1454.0L1716.6,1454.2L1718.6,1454.4L1720.6,1454.6L1722.6,1454.8L1724.6,1454.9L1726.6,1455.0L1728.6,1455.1L1730.6,1455.1L1732.6,1455.1L1734.6,1455.0L1736.6,1455.0L1738.6,1455.0L1740.6,1455.1L1742.6,1455.2L1744.6,1455.3L1746.6,1455.5L1748.6,1455.7L1750.6,1456.1L1752.6,1456.5L1754.6,1457.1L1756.6,1457.7L1758.6,1458.5L1760.6,1459.3L1762.6,1460.1L1764.6,1461.2L1766.6,1462.3L1768.6,1463.6L1770.6,1465.0L1772.6,1466.4L1774.6,1467.9L1776.6,1469.3L1778.6,1470.7L1780.6,1471.9L1782.6,1473.1L1784.6,1474.3L1786.6,1475.5L1788.6,1476.6L1790.6,1477.6L1792.6,1478.6L1794.6,1479.5L1796.6,1480.3L1798.6,1481.0L1800.6,1481.6L1802.6,1482.0L1804.6,1482.2L1806.6,1482.4L1808.6,1482.5L1810.6,1482.5L1812.6,1482.3L1814.6,1482.1L1816.6,1481.6L1818.6,1481.1L1820.6,1480.4L1822.6,1479.6L1824.6,1478.7L1826.6,1477.7L1828.6,1476.6L1830.6,1475.4L1832.6,1474.2L1834.6,1473.0L1836.6,1471.8L1838.6,1470.6L1840.6,1469.4L1842.6,1468.2L1844.6,1467.0L1846.6,1465.8L1848.6,1464.8L1850.6,1463.9L1852.6,1463.1L1854.6,1462.5L1856.6,1462.0L1858.6,1461.5L1860.6,1461.0L1862.6,1460.7L1864.6,1460.3L1866.6,1460.1L1868.6,1460.0L1870.6,1460.0L1872.6,1460.0L1874.6,1460.0L1876.6,1460.0L1878.6,1460.1L1880.6,1460.2L1882.6,1460.3L1884.6,1460.4L1886.6,1460.7L1888.6,1461.1L1890.6,1461.6L1892.6,1462.4L1894.6,1463.3L1896.6,1464.4L1898.6,1465.6L1900.6,1466.8L1902.6,1468.0L1904.6,1469.2L1906.6,1470.4L1908.6,1471.6L1910.6,1472.8L1912.6,1474.0L1914.6,1475.1L1916.6,1476.2L1918.6,1477.2L1920.6,1477.9L1922.6,1478.5L1924.6,1478.9L1926.6,1479.3L1928.6,1479.5L1930.6,1479.6L1932.6,1479.6L1934.6,1479.4L1936.6,1479.1L1938.6,1478.6L1940.6,1478.1L1942.6,1477.5L1944.6,1476.7L1946.6,1475.9L1948.6,1475.0L1950.6,1474.1L1952.6,1473.1L1954.6,1472.2L1956.6,1471.3L1958.6,1470.5L1960.6,1469.8L1962.6,1469.1L1964.6,1468.4L1966.6,1467.9L1968.6,1467.4L1970.6,1467.0L1972.6,1466.7L1974.6,1466.4L1976.6,1466.2L1978.6,1466.1L1980.6,1466.0L1982.6,1466.0L1984.6,1466.0L1986.6,1466.0L1988.6,1466.1L1990.6,1466.2L1992.6,1466.3L1994.6,1466.6L1996.6,1467.0L1998.6,1467.5L2000.6,1468.1L2002.6,1468.8L2004.6,1469.7L2006.6,1470.6L2008.6,1471.5L2010.6,1472.4L2012.6,1473.4L2014.6,1474.3L2016.6,1475.3L2018.6,1476.2L2020.6,1477.0L2022.6,1477.9L2024.6,1478.7L2026.6,1479.4L2028.6,1480.1L2030.6,1480.7L2032.6,1481.2L2034.6,1481.7L2036.6,1482.1L2038.6,1482.6L2040.6,1483.0L2042.6,1483.4L2044.6,1483.7L2046.6,1484.1L2048.6,1484.4L2050.6,1484.7L2052.6,1485.0L2054.6,1485.3L2056.6,1485.6L2058.6,1486.0L2060.6,1486.4L2062.6,1486.8L2064.6,1487.0L2066.6,1487.0L2068.6,1487.0L2070.6,1487.0L2072.6,1487.0L2074.6,1487.0L2076.6,1487.0L2078.6,1487.0L2080.6,1487.0L2082.6,1487.0L2084.6,1487.0L2086.6,1487.0L2088.6,1487.0L2090.6,1487.0L2092.6,1487.0L2094.6,1487.0L2096.6,1487.0L2098.6,1487.0L2100.6,1487.0L2102.6,1487.0L2104.6,1487.0L2106.6,1487.0L2108.6,1487.0L2110.6,1487.0L2112.6,1487.0L2114.6,1487.0L2116.6,1487.0L2118.6,1487.0L2120.6,1487.0L2122.6,1487.0L2124.6,1487.0L2126.6,1487.0L2128.6,1487.0L2130.6,1487.0L2132.6,1487.0L2134.6,1487.0L2136.6,1487.0L2138.6,1487.0L2140.6,1487.0L2142.6,1487.0L2144.6,1487.0L2146.6,1487.0L2148.6,1487.0L2150.6,1487.0L2152.6,1487.0L2154.6,1487.0L2156.6,1487.0L2158.6,1487.0L2160.6,1487.0L2162.6,1487.0L2164.6,1487.0L2166.6,1487.0L2168.6,1487.0L2170.6,1487.0L2172.6,1487.0L2174.6,1487.0L2176.6,1487.0L2178.6,1487.0L2180.6,1487.0L2182.6,1487.0L2184.6,1487.0L2186.6,1487.0L2188.6,1487.0L2190.6,1487.0L2192.6,1487.0L2194.6,1487.0L2196.6,1487.0L2198.6,1487.0L2200.6,1487.0L2202.6,1487.0L2204.6,1487.0L2206.6,1487.0L2208.6,1487.0L2210.6,1487.0L2212.6,1487.0L2214.6,1487.0L2216.6,1487.0L2218.6,1487.0L2220.6,1487.0L2222.6,1487.0L2224.6,1487.0L2226.6,1487.0L2228.6,1487.0L2230.6,1487.0L2232.6,1487.0L2234.6,1487.0L2236.6,1487.0L2238.6,1487.0L2240.6,1487.0L2242.6,1487.0L2244.6,1487.0L2246.6,1487.0L2248.6,1487.0L2250.6,1487.0L2252.6,1487.0L2254.6,1487.0L2256.6,1487.0L2258.6,1487.0L2260.6,1487.0L2262.6,1487.0L2264.6,1487.0L2266.6,1487.0L2268.6,1487.0L2270.6,1487.0L2272.6,1487.0L2274.6,1487.0L2276.6,1487.0" fill="none" stroke="#0000ff" stroke-width="6.8" stroke-linejoin="round"/>
<path d="M214.6,1487.0L214.6,1346.7L216.6,1346.6L218.6,1346.2L220.6,1345.4L222.6,1344.4L224.6,1343.5L226.6,1342.6L228.6,1341.8L230.6,1341.1L232.6,1340.6L234.6,1340.1L236.6,1339.6L238.6,1339.2L240.6,1338.8L242.6,1338.5L244.6,1338.3L246.6,1338.4L248.6,1338.7L250.6,1339.2L252.6,1339.8L254.6,1340.4L256.6,1341.1L258.6,1341.8L260.6,1342.5L262.6,1343.1L264.6,1343.8L266.6,1344.5L268.6,1345.2L270.6,1345.9L272.6,1346.5L274.6,1347.2L276.6,1347.7L278.6,1348.2L280.6,1348.4L282.6,1348.4L284.6,1348.3L286.6,1348.1L288.6,1347.8L290.6,1347.5L292.6,1347.2L294.6,1346.9L296.6,1346.7L298.6,1346.4L300.6,1346.1L302.6,1345.8L304.6,1345.5L306.6,1345.3L308.6,1345.1L310.6,1345.0L312.6,1345.0L314.6,1345.2L316.6,1345.6L318.6,1346.2L320.6,1347.0L322.6,1348.2L324.6,1349.5L326.6,1351.1L328.6,1352.9L330.6,1354.8L332.6,1357.1L334.6,1359.5L336.6,1362.1L338.6,1364.8L340.6,1367.5L342.6,1370.1L344.6,1372.8L346.6,1375.4L348.6,1378.0L350.6,1380.3L352.6,1382.4L354.6,1384.2L356.6,1385.9L358.6,1387.4L360.6,1388.7L362.6,1389.9L364.6,1391.0L366.6,1391.9L368.6,1392.5L370.6,1392.7L372.6,1392.6L374.6,1392.3L376.6,1392.0L378.6,1391.5L380.6,1391.1L382.6,1390.6L384.6,1390.1L386.6,1389.6L388.6,1389.1L390.6,1388.7L392.6,1388.2L394.6,1387.8L396.6,1387.5L398.6,1387.2L400.6,1386.9L402.6,1386.8L404.6,1386.7L406.6,1386.7L408.6,1386.8L410.6,1386.9L412.6,1387.1L414.6,1387.2L416.6,1387.4L418.6,1387.6L420.6,1387.7L422.6,1387.9L424.6,1388.1L426.6,1388.3L428.6,1388.5L430.6,1388.7L432.6,1388.9L434.6,1389.1L436.6,1389.1L438.6,1388.8L440.6,1388.3L442.6,1387.4L444.6,1386.3L446.6,1384.8L448.6,1383.0L450.6,1380.7L452.6,1377.9L454.6,1374.7L456.6,1371.2L458.6,1367.5L460.6,1363.7L462.6,1359.8L464.6,1355.8L466.6,1351.8L468.6,1348.0L470.6,1344.3L472.6,1340.9L474.6,1337.8L476.6,1334.8L478.6,1332.2L480.6,1329.8L482.6,1327.8L484.6,1326.0L486.6,1324.4L488.6,1323.1L490.6,1322.1L492.6,1321.2L494.6,1320.4L496.6,1319.8L498.6,1319.2L500.6,1318.7L502.6,1318.2L504.6,1317.9L506.6,1317.5L508.6,1317.2L510.6,1316.8L512.6,1316.3L514.6,1315.7L516.6,1315.0L518.6,1314.1L520.6,1313.1L522.6,1311.8L524.6,1310.3L526.6,1308.5L528.6,1306.5L530.6,1304.3L532.6,1302.0L534.6,1299.7L536.6,1297.4L538.6,1295.3L540.6,1293.3L542.6,1291.4L544.6,1289.7L546.6,1288.0L548.6,1286.6L550.6,1285.4L552.6,1284.3L554.6,1283.4L556.6,1282.7L558.6,1282.2L560.6,1281.9L562.6,1281.8L564.6,1281.8L566.6,1281.9L568.6,1282.2L570.6,1282.5L572.6,1282.9L574.6,1283.4L576.6,1283.9L578.6,1284.4L580.6,1284.9L582.6,1285.2L584.6,1285.4L586.6,1285.5L588.6,1285.4L590.6,1285.1L592.6,1284.7L594.6,1284.3L596.6,1283.9L598.6,1283.5L600.6,1283.0L602.6,1282.5L604.6,1282.0L606.6,1281.5L608.6,1281.1L610.6,1280.6L612.6,1280.3L614.6,1280.1L616.6,1280.0L618.6,1280.0L620.6,1280.0L622.6,1280.1L624.6,1280.4L626.6,1280.7L628.6,1281.1L630.6,1281.7L632.6,1282.4L634.6,1283.3L636.6,1284.3L638.6,1285.4L640.6,1286.5L642.6,1287.8L644.6,1289.1L646.6,1290.4L648.6,1291.8L650.6,1293.2L652.6,1294.7L654.6,1296.2L656.6,1297.7L658.6,1299.2L660.6,1300.7L662.6,1302.1L664.6,1303.6L666.6,1305.0L668.6,1306.3L670.6,1307.7L672.6,1308.9L674.6,1310.0L676.6,1311.0L678.6,1311.9L680.6,1312.8L682.6,1313.4L684.6,1313.9L686.6,1314.1L688.6,1314.0L690.6,1313.7L692.6,1313.1L694.6,1312.3L696.6,1311.4L698.6,1310.3L700.6,1309.2L702.6,1307.9L704.6,1306.6L706.6,1305.4L708.6,1304.3L710.6,1303.4L712.6,1302.7L714.6,1302.1L716.6,1301.7L718.6,1301.4L720.6,1301.2L722.6,1301.3L724.6,1301.6L726.6,1302.0L728.6,1302.7L730.6,1303.7L732.6,1305.0L734.6,1306.7L736.6,1308.6L738.6,1310.6L740.6,1312.6L742.6,1314.6L744.6,1316.6L746.6,1318.6L748.6,1320.6L750.6,1322.6L752.6,1324.6L754.6,1326.6L756.6,1328.4L758.6,1330.1L760.6,1331.6L762.6,1332.9L764.6,1334.0L766.6,1335.0L768.6,1335.8L770.6,1336.5L772.6,1337.1L774.6,1337.5L776.6,1337.8L778.6,1338.0L780.6,1338.0L782.6,1338.0L784.6,1338.0L786.6,1338.0L788.6,1338.0L790.6,1338.1L792.6,1338.2L794.6,1338.4L796.6,1338.6L798.6,1338.9L800.6,1339.0L802.6,1339.2L804.6,1339.2L806.6,1339.0L808.6,1338.8L810.6,1338.5L812.6,1338.1L814.6,1337.7L816.6,1337.1L818.6,1336.4L820.6,1335.7L822.6,1334.9L824.6,1334.1L826.6,1333.5L828.6,1333.0L830.6,1332.6L832.6,1332.3L834.6,1332.1L836.6,1331.9L838.6,1331.8L840.6,1331.8L842.6,1331.7L844.6,1331.7L846.6,1331.8L848.6,1332.0L850.6,1332.4L852.6,1333.0L854.6,1333.7L856.6,1334.6L858.6,1335.5L860.6,1336.4L862.6,1337.3L864.6,1338.2L866.6,1339.1L868.6,1339.9L870.6,1340.7L872.6,1341.4L874.6,1341.9L876.6,1342.1L878.6,1341.9L880.6,1341.5L882.6,1340.8L884.6,1339.6L886.6,1337.8L888.6,1335.5L890.6,1332.6L892.6,1329.0L894.6,1324.7L896.6,1319.9L898.6,1314.7L900.6,1309.4L902.6,1304.2L904.6,1299.3L906.6,1294.5L908.6,1289.9L910.6,1285.4L912.6,1281.1L914.6,1277.1L916.6,1273.3L918.6,1269.7L920.6,1266.6L922.6,1263.9L924.6,1261.7L926.6,1259.8L928.6,1258.3L930.6,1257.1L932.6,1256.3L934.6,1255.8L936.6,1255.4L938.6,1255.2L940.6,1255.1L942.6,1255.0L944.6,1255.1L946.6,1255.2L948.6,1255.5L950.6,1256.0L952.6,1256.8L954.6,1257.9L956.6,1259.3L958.6,1261.0L960.6,1263.0L962.6,1265.2L964.6,1267.5L966.6,1270.0L968.6,1272.6L970.6,1275.1L972.6,1277.4L974.6,1279.7L976.6,1281.9L978.6,1283.9L980.6,1285.8L982.6,1287.6L984.6,1289.2L986.6,1290.7L988.6,1292.2L990.6,1293.7L992.6,1295.2L994.6,1296.7L996.6,1298.2L998.6,1299.7L1000.6,1301.2L1002.6,1302.9L1004.6,1304.7L1006.6,1306.9L1008.6,1309.4L1010.6,1312.1L1012.6,1314.9L1014.6,1317.8L1016.6,1320.7L1018.6,1323.7L1020.6,1326.8L1022.6,1330.0L1024.6,1333.3L1026.6,1336.8L1028.6,1340.3L1030.6,1343.8L1032.6,1347.2L1034.6,1350.5L1036.6,1353.6L1038.6,1356.7L1040.6,1359.6L1042.6,1362.4L1044.6,1365.0L1046.6,1367.5L1048.6,1370.0L1050.6,1372.5L1052.6,1375.1L1054.6,1377.7L1056.6,1380.5L1058.6,1383.3L1060.6,1386.0L1062.6,1388.6L1064.6,1391.1L1066.6,1393.4L1068.6,1395.7L1070.6,1397.9L1072.6,1400.0L1074.6,1402.2L1076.6,1404.2L1078.6,1406.2L1080.6,1408.0L1082.6,1409.5L1084.6,1410.6L1086.6,1411.3L1088.6,1411.6L1090.6,1411.6L1092.6,1411.3L1094.6,1410.4L1096.6,1408.9L1098.6,1406.5L1100.6,1403.4L1102.6,1399.4L1104.6,1394.9L1106.6,1389.9L1108.6,1384.7L1110.6,1379.4L1112.6,1374.2L1114.6,1369.2L1116.6,1364.4L1118.6,1359.8L1120.6,1355.7L1122.6,1351.9L1124.6,1348.8L1126.6,1346.1L1128.6,1343.8L1130.6,1341.9L1132.6,1340.2L1134.6,1338.7L1136.6,1337.6L1138.6,1336.7L1140.6,1336.0L1142.6,1335.4L1144.6,1334.9L1146.6,1334.5L1148.6,1334.2L1150.6,1334.0L1152.6,1333.9L1154.6,1333.8L1156.6,1333.8L1158.6,1333.8L1160.6,1334.0L1162.6,1334.3L1164.6,1334.6L1166.6,1335.1L1168.6,1335.8L1170.6,1336.6L1172.6,1337.4L1174.6,1338.3L1176.6,1339.3L1178.6,1340.3L1180.6,1341.4L1182.6,1342.4L1184.6,1343.5L1186.6,1344.7L1188.6,1345.9L1190.6,1347.1L1192.6,1348.4L1194.6,1349.6L1196.6,1350.9L1198.6,1352.1L1200.6,1353.4L1202.6,1354.6L1204.6,1355.9L1206.6,1357.1L1208.6,1358.3L1210.6,1359.4L1212.6,1360.5L1214.6,1361.4L1216.6,1362.3L1218.6,1363.2L1220.6,1364.1L1222.6,1364.9L1224.6,1365.6L1226.6,1366.2L1228.6,1366.8L1230.6,1367.1L1232.6,1367.3L1234.6,1367.2L1236.6,1366.9L1238.6,1366.4L1240.6,1365.6L1242.6,1364.3L1244.6,1362.7L1246.6,1360.8L1248.6,1358.8L1250.6,1356.8L1252.6,1354.6L1254.6,1352.4L1256.6,1350.2L1258.6,1347.9L1260.6,1345.7L1262.6,1343.6L1264.6,1341.9L1266.6,1340.5L1268.6,1339.5L1270.6,1338.7L1272.6,1338.2L1274.6,1337.8L1276.6,1337.6L1278.6,1337.5L1280.6,1337.5L1282.6,1337.6L1284.6,1337.8L1286.6,1338.1L1288.6,1338.7L1290.6,1339.6L1292.6,1340.7L1294.6,1342.3L1296.6,1344.2L1298.6,1346.3L1300.6,1348.8L1302.6,1351.4L1304.6,1354.3L1306.6,1357.3L1308.6,1360.5L1310.6,1363.9L1312.6,1367.4L1314.6,1371.0L1316.6,1374.6L1318.6,1378.3L1320.6,1381.9L1322.6,1385.6L1324.6,1389.3L1326.6,1392.9L1328.6,1396.5L1330.6,1400.0L1332.6,1403.3L1334.6,1406.5L1336.6,1409.7L1338.6,1412.7L1340.6,1415.7L1342.6,1418.5L1344.6,1421.1L1346.6,1423.6L1348.6,1426.0L1350.6,1428.3L1352.6,1430.7L1354.6,1433.1L1356.6,1435.5L1358.6,1438.0L1360.6,1440.2L1362.6,1442.2L1364.6,1443.9L1366.6,1445.3L1368.6,1446.5L1370.6,1447.4L1372.6,1448.1L1374.6,1448.5L1376.6,1448.6L1378.6,1448.5L1380.6,1448.1L1382.6,1447.5L1384.6,1446.6L1386.6,1445.5L1388.6,1444.1L1390.6,1442.5L1392.6,1440.9L1394.6,1439.3L1396.6,1437.5L1398.6,1435.7L1400.6,1433.9L1402.6,1432.0L1404.6,1430.2L1406.6,1428.3L1408.6,1426.6L1410.6,1424.8L1412.6,1423.2L1414.6,1421.6L1416.6,1420.0L1418.6,1418.5L1420.6,1417.1L1422.6,1415.8L1424.6,1414.6L1426.6,1413.5L1428.6,1412.6L1430.6,1411.8L1432.6,1411.1L1434.6,1410.5L1436.6,1410.0L1438.6,1409.6L1440.6,1409.2L1442.6,1409.0L1444.6,1408.7L1446.6,1408.6L1448.6,1408.5L1450.6,1408.5L1452.6,1408.6L1454.6,1408.7L1456.6,1408.9L1458.6,1409.2L1460.6,1409.6L1462.6,1410.2L1464.6,1410.8L1466.6,1411.5L1468.6,1412.3L1470.6,1413.2L1472.6,1414.3L1474.6,1415.5L1476.6,1416.9L1478.6,1418.5L1480.6,1420.1L1482.6,1421.9L1484.6,1423.8L1486.6,1425.9L1488.6,1428.0L1490.6,1430.2L1492.6,1432.4L1494.6,1434.7L1496.6,1437.0L1498.6,1439.3L1500.6,1441.6L1502.6,1444.0L1504.6,1446.3L1506.6,1448.6L1508.6,1450.8L1510.6,1452.7L1512.6,1454.5L1514.6,1456.0L1516.6,1457.3L1518.6,1458.3L1520.6,1459.1L1522.6,1459.5L1524.6,1459.6L1526.6,1459.4L1528.6,1458.9L1530.6,1457.8L1532.6,1456.3L1534.6,1454.2L1536.6,1451.6L1538.6,1448.8L1540.6,1445.7L1542.6,1442.4L1544.6,1439.1L1546.6,1435.7L1548.6,1432.4L1550.6,1429.1L1552.6,1425.8L1554.6,1422.5L1556.6,1419.4L1558.6,1416.6L1560.6,1414.1L1562.6,1411.9L1564.6,1410.0L1566.6,1408.4L1568.6,1407.1L1570.6,1406.2L1572.6,1405.4L1574.6,1404.9L1576.6,1404.5L1578.6,1404.2L1580.6,1404.1L1582.6,1404.1L1584.6,1404.2L1586.6,1404.5L1588.6,1404.9L1590.6,1405.7L1592.6,1406.8L1594.6,1408.5L1596.6,1410.5L1598.6,1413.0L1600.6,1415.8L1602.6,1418.7L1604.6,1421.9L1606.6,1425.0L1608.6,1428.3L1610.6,1431.5L1612.6,1434.8L1614.6,1438.2L1616.6,1441.4L1618.6,1444.6L1620.6,1447.6L1622.6,1450.5L1624.6,1453.1L1626.6,1455.6L1628.6,1457.8L1630.6,1459.8L1632.6,1461.7L1634.6,1463.3L1636.6,1464.8L1638.6,1466.0L1640.6,1467.0L1642.6,1467.9L1644.6,1468.5L1646.6,1468.9L1648.6,1469.1L1650.6,1469.0L1652.6,1468.5L1654.6,1467.8L1656.6,1466.9L1658.6,1465.9L1660.6,1464.9L1662.6,1463.7L1664.6,1462.5L1666.6,1461.3L1668.6,1460.1L1670.6,1458.9L1672.6,1457.8L1674.6,1456.8L1676.6,1455.8L1678.6,1454.9L1680.6,1454.1L1682.6,1453.5L1684.6,1453.0L1686.6,1452.6L1688.6,1452.4L1690.6,1452.2L1692.6,1452.1L1694.6,1452.1L1696.6,1452.1L1698.6,1452.2L1700.6,1452.4L1702.6,1452.6L1704.6,1452.8L1706.6,1453.0L1708.6,1453.3L1710.6,1453.5L1712.6,1453.8L1714.6,1454.0L1716.6,1454.2L1718.6,1454.4L1720.6,1454.6L1722.6,1454.8L1724.6,1454.9L1726.6,1455.0L1728.6,1455.1L1730.6,1455.1L1732.6,1455.1L1734.6,1455.0L1736.6,1455.0L1738.6,1455.0L1740.6,1455.1L1742.6,1455.2L1744.6,1455.3L1746.6,1455.5L1748.6,1455.7L1750.6,1456.1L1752.6,1456.5L1754.6,1457.1L1756.6,1457.7L1758.6,1458.5L1760.6,1459.3L1762.6,1460.1L1764.6,1461.2L1766.6,1462.3L1768.6,1463.6L1770.6,1465.0L1772.6,1466.4L1774.6,1467.9L1776.6,1469.3L1778.6,1470.7L1780.6,1471.9L1782.6,1473.1L1784.6,1474.3L1786.6,1475.5L1788.6,1476.6L1790.6,1477.6L1792.6,1478.6L1794.6,1479.5L1796.6,1480.3L1798.6,1481.0L1800.6,1481.6L1802.6,1482.0L1804.6,1482.2L1806.6,1482.4L1808.6,1482.5L1810.6,1482.5L1812.6,1482.3L1814.6,1482.1L1816.6,1481.6L1818.6,1481.1L1820.6,1480.4L1822.6,1479.6L1824.6,1478.7L1826.6,1477.7L1828.6,1476.6L1830.6,1475.4L1832.6,1474.2L1834.6,1473.0L1836.6,1471.8L1838.6,1470.6L1840.6,1469.4L1842.6,1468.2L1844.6,1467.0L1846.6,1465.8L1848.6,1464.8L1850.6,1463.9L1852.6,1463.1L1854.6,1462.5L1856.6,1462.0L1858.6,1461.5L1860.6,1461.0L1862.6,1460.7L1864.6,1460.3L1866.6,1460.1L1868.6,1460.0L1870.6,1460.0L1872.6,1460.0L1874.6,1460.0L1876.6,1460.0L1878.6,1460.1L1880.6,1460.2L1882.6,1460.3L1884.6,1460.4L1886.6,1460.7L1888.6,1461.1L1890.6,1461.6L1892.6,1462.4L1894.6,1463.3L1896.6,1464.4L1898.6,1465.6L1900.6,1466.8L1902.6,1468.0L1904.6,1469.2L1906.6,1470.4L1908.6,1471.6L1910.6,1472.8L1912.6,1474.0L1914.6,1475.1L1916.6,1476.2L1918.6,1477.2L1920.6,1477.9L1922.6,1478.5L1924.6,1478.9L1926.6,1479.3L1928.6,1479.5L1930.6,1479.6L1932.6,1479.6L1934.6,1479.4L1936.6,1479.1L1938.6,1478.6L1940.6,1478.1L1942.6,1477.5L1944.6,1476.7L1946.6,1475.9L1948.6,1475.0L1950.6,1474.1L1952.6,1473.1L1954.6,1472.2L1956.6,1471.3L1958.6,1470.5L1960.6,1469.8L1962.6,1469.1L1964.6,1468.4L1966.6,1467.9L1968.6,1467.4L1970.6,1467.0L1972.6,1466.7L1974.6,1466.4L1976.6,1466.2L1978.6,1466.1L1980.6,1466.0L1982.6,1466.0L1984.6,1466.0L1986.6,1466.0L1988.6,1466.1L1990.6,1466.2L1992.6,1466.3L1994.6,1466.6L1996.6,1467.0L1998.6,1467.5L2000.6,1468.1L2002.6,1468.8L2004.6,1469.7L2006.6,1470.6L2008.6,1471.5L2010.6,1472.4L2012.6,1473.4L2014.6,1474.3L2016.6,1475.3L2018.6,1476.2L2020.6,1477.0L2022.6,1477.9L2024.6,1478.7L2026.6,1479.4L2028.6,1480.1L2030.6,1480.7L2032.6,1481.2L2034.6,1481.7L2036.6,1482.1L2038.6,1482.6L2040.6,1483.0L2042.6,1483.4L2044.6,1483.7L2046.6,1484.1L2048.6,1484.4L2050.6,1484.7L2052.6,1485.0L2054.6,1485.3L2056.6,1485.6L2058.6,1486.0L2060.6,1486.4L2062.6,1486.8L2064.6,1487.0L2066.6,1487.0L2068.6,1487.0L2070.6,1487.0L2072.6,1487.0L2074.6,1487.0L2076.6,1487.0L2078.6,1487.0L2080.6,1487.0L2082.6,1487.0L2084.6,1487.0L2086.6,1487.0L2088.6,1487.0L2090.6,1487.0L2092.6,1487.0L2094.6,1487.0L2096.6,1487.0L2098.6,1487.0L2100.6,1487.0L2102.6,1487.0L2104.6,1487.0L2106.6,1487.0L2108.6,1487.0L2110.6,1487.0L2112.6,1487.0L2114.6,1487.0L2116.6,1487.0L2118.6,1487.0L2120.6,1487.0L2122.6,1487.0L2124.6,1487.0L2126.6,1487.0L2128.6,1487.0L2130.6,1487.0L2132.6,1487.0L2134.6,1487.0L2136.6,1487.0L2138.6,1487.0L2140.6,1487.0L2142.6,1487.0L2144.6,1487.0L2146.6,1487.0L2148.6,1487.0L2150.6,1487.0L2152.6,1487.0L2154.6,1487.0L2156.6,1487.0L2158.6,1487.0L2160.6,1487.0L2162.6,1487.0L2164.6,1487.0L2166.6,1487.0L2168.6,1487.0L2170.6,1487.0L2172.6,1487.0L2174.6,1487.0L2176.6,1487.0L2178.6,1487.0L2180.6,1487.0L2182.6,1487.0L2184.6,1487.0L2186.6,1487.0L2188.6,1487.0L2190.6,1487.0L2192.6,1487.0L2194.6,1487.0L2196.6,1487.0L2198.6,1487.0L2200.6,1487.0L2202.6,1487.0L2204.6,1487.0L2206.6,1487.0L2208.6,1487.0L2210.6,1487.0L2212.6,1487.0L2214.6,1487.0L2216.6,1487.0L2218.6,1487.0L2220.6,1487.0L2222.6,1487.0L2224.6,1487.0L2226.6,1487.0L2228.6,1487.0L2230.6,1487.0L2232.6,1487.0L2234.6,1487.0L2236.6,1487.0L2238.6,1487.0L2240.6,1487.0L2242.6,1487.0L2244.6,1487.0L2246.6,1487.0L2248.6,1487.0L2250.6,1487.0L2252.6,1487.0L2254.6,1487.0L2256.6,1487.0L2258.6,1487.0L2260.6,1487.0L2262.6,1487.0L2264.6,1487.0L2266.6,1487.0L2268.6,1487.0L2270.6,1487.0L2272.6,1487.0L2274.6,1487.0L2276.6,1487.0L2276.6,1487.0Z" fill="#ff0000"/>
<line x1="2046" y1="1487.0" x2="2282" y2="1487.0" stroke="#0000b0" stroke-width="9.8"/>
</g>
<g id="panel2">
<path d="M216.0,859.5L216.0,769.8L218.0,769.3L220.0,768.3L222.0,767.1L224.0,766.0L226.0,765.2L228.0,764.6L230.0,764.2L232.0,764.0L234.0,763.8L236.0,763.8L238.0,764.0L240.0,764.2L242.0,764.7L244.0,765.5L246.0,766.6L248.0,768.2L250.0,770.3L252.0,772.8L254.0,775.6L256.0,778.6L258.0,781.8L260.0,785.0L262.0,788.3L264.0,791.6L266.0,794.9L268.0,797.9L270.0,800.6L272.0,803.1L274.0,805.1L276.0,806.8L278.0,808.0L280.0,808.8L282.0,809.4L284.0,809.7L286.0,809.6L288.0,809.1L290.0,808.2L292.0,806.9L294.0,805.3L296.0,803.6L298.0,801.7L300.0,799.7L302.0,797.8L304.0,796.2L306.0,794.9L308.0,794.0L310.0,793.4L312.0,793.1L314.0,793.1L316.0,793.5L318.0,794.3L320.0,795.7L322.0,797.7L324.0,800.5L326.0,804.2L328.0,808.3L330.0,812.7L332.0,817.3L334.0,822.0L336.0,827.0L338.0,832.3L340.0,837.7L342.0,843.3L344.0,848.9L346.0,854.5L348.0,860.0L350.0,865.5L352.0,870.6L354.0,875.4L356.0,879.6L358.0,883.1L360.0,886.1L362.0,888.4L364.0,890.1L366.0,891.6L368.0,892.8L370.0,893.9L372.0,894.8L374.0,895.6L376.0,896.3L378.0,896.9L380.0,897.5L382.0,898.2L384.0,899.1L386.0,900.2L388.0,901.5L390.0,903.0L392.0,904.9L394.0,907.0L396.0,909.4L398.0,912.0L400.0,914.8L402.0,917.8L404.0,920.9L406.0,924.2L408.0,927.5L410.0,930.7L412.0,933.7L414.0,936.3L416.0,938.6L418.0,940.6L420.0,942.2L422.0,943.4L424.0,944.2L426.0,944.6L428.0,944.6L430.0,944.2L432.0,943.1L434.0,941.6L436.0,939.5L438.0,936.9L440.0,933.8L442.0,930.2L444.0,926.1L446.0,921.7L448.0,916.8L450.0,911.6L452.0,906.1L454.0,900.2L456.0,893.9L458.0,887.1L460.0,880.1L462.0,872.9L464.0,865.7L466.0,858.5L468.0,851.3L470.0,844.1L472.0,836.9L474.0,829.8L476.0,822.8L478.0,816.2L480.0,810.0L482.0,804.3L484.0,798.9L486.0,793.8L488.0,789.1L490.0,785.0L492.0,781.5L494.0,778.7L496.0,776.7L498.0,775.3L500.0,774.3L502.0,773.9L504.0,773.9L506.0,774.2L508.0,774.9L510.0,775.7L512.0,776.7L514.0,778.0L516.0,779.4L518.0,780.9L520.0,782.4L522.0,783.9L524.0,785.3L526.0,786.6L528.0,787.9L530.0,789.2L532.0,790.4L534.0,791.5L536.0,792.5L538.0,793.5L540.0,794.5L542.0,795.5L544.0,796.5L546.0,797.5L548.0,798.6L550.0,799.7L552.0,800.9L554.0,802.0L556.0,803.1L558.0,804.2L560.0,805.3L562.0,806.3L564.0,807.3L566.0,808.3L568.0,809.2L570.0,810.1L572.0,810.9L574.0,811.5L576.0,812.0L578.0,812.3L580.0,812.5L582.0,812.4L584.0,812.2L586.0,811.8L588.0,811.3L590.0,810.7L592.0,810.1L594.0,809.3L596.0,808.5L598.0,807.7L600.0,806.7L602.0,805.8L604.0,804.8L606.0,803.7L608.0,802.8L610.0,801.8L612.0,800.9L614.0,800.0L616.0,799.1L618.0,798.3L620.0,797.6L622.0,797.0L624.0,796.5L626.0,796.1L628.0,795.9L630.0,795.6L632.0,795.5L634.0,795.4L636.0,795.4L638.0,795.5L640.0,795.7L642.0,796.0L644.0,796.3L646.0,796.8L648.0,797.4L650.0,798.1L652.0,799.0L654.0,799.9L656.0,801.0L658.0,802.3L660.0,803.6L662.0,805.1L664.0,806.6L666.0,808.1L668.0,809.6L670.0,811.0L672.0,812.3L674.0,813.6L676.0,814.8L678.0,815.8L680.0,816.7L682.0,817.3L684.0,817.7L686.0,817.8L688.0,817.7L690.0,817.3L692.0,816.5L694.0,815.3L696.0,813.7L698.0,811.5L700.0,808.7L702.0,805.0L704.0,800.8L706.0,796.2L708.0,791.6L710.0,786.9L712.0,782.2L714.0,777.6L716.0,772.8L718.0,767.9L720.0,762.8L722.0,757.4L724.0,752.2L726.0,747.2L728.0,742.6L730.0,738.4L732.0,734.5L734.0,731.1L736.0,728.1L738.0,725.7L740.0,723.9L742.0,722.5L744.0,721.4L746.0,720.5L748.0,719.7L750.0,719.2L752.0,718.7L754.0,718.5L756.0,718.5L758.0,718.8L760.0,719.5L762.0,720.5L764.0,721.8L766.0,723.5L768.0,725.5L770.0,727.7L772.0,730.3L774.0,733.2L776.0,736.5L778.0,740.5L780.0,745.0L782.0,750.1L784.0,755.7L786.0,761.8L788.0,768.2L790.0,774.8L792.0,781.7L794.0,788.8L796.0,796.0L798.0,803.3L800.0,810.5L802.0,817.6L804.0,824.3L806.0,830.9L808.0,837.4L810.0,843.6L812.0,849.7L814.0,855.6L816.0,861.3L818.0,866.8L820.0,872.2L822.0,877.4L824.0,882.4L826.0,887.2L828.0,891.8L830.0,896.3L832.0,900.5L834.0,904.6L836.0,908.6L838.0,912.4L840.0,916.3L842.0,920.0L844.0,923.5L846.0,926.7L848.0,929.6L850.0,932.0L852.0,933.9L854.0,935.5L856.0,936.8L858.0,937.8L860.0,938.5L862.0,939.0L864.0,939.1L866.0,939.0L868.0,938.5L870.0,937.4L872.0,935.7L874.0,933.2L876.0,930.3L878.0,927.0L880.0,923.3L882.0,919.5L884.0,915.6L886.0,911.6L888.0,907.4L890.0,903.0L892.0,898.4L894.0,893.6L896.0,888.6L898.0,883.3L900.0,878.0L902.0,872.7L904.0,867.4L906.0,862.1L908.0,856.7L910.0,851.2L912.0,845.5L914.0,839.6L916.0,833.6L918.0,827.5L920.0,821.5L922.0,815.5L924.0,809.5L926.0,803.5L928.0,797.5L930.0,791.5L932.0,785.3L934.0,778.9L936.0,772.0L938.0,764.6L940.0,756.9L942.0,749.0L944.0,741.0L946.0,733.0L948.0,725.0L950.0,717.0L952.0,709.0L954.0,701.1L956.0,693.2L958.0,685.6L960.0,678.2L962.0,671.1L964.0,664.2L966.0,657.4L968.0,650.7L970.0,644.2L972.0,637.9L974.0,631.8L976.0,625.9L978.0,620.3L980.0,615.2L982.0,610.7L984.0,606.7L986.0,603.3L988.0,600.5L990.0,598.2L992.0,596.5L994.0,595.3L996.0,594.6L998.0,594.1L1000.0,593.9L1002.0,594.0L1004.0,594.3L1006.0,594.9L1008.0,595.9L1010.0,597.5L1012.0,599.7L1014.0,602.8L1016.0,606.5L1018.0,611.0L1020.0,616.2L1022.0,622.2L1024.0,628.7L1026.0,635.7L1028.0,643.1L1030.0,650.7L1032.0,658.6L1034.0,666.5L1036.0,674.5L1038.0,682.5L1040.0,690.4L1042.0,698.4L1044.0,706.5L1046.0,714.8L1048.0,723.3L1050.0,731.9L1052.0,740.7L1054.0,749.4L1056.0,758.2L1058.0,766.8L1060.0,775.1L1062.0,783.0L1064.0,790.5L1066.0,797.8L1068.0,805.1L1070.0,812.3L1072.0,819.7L1074.0,826.9L1076.0,833.9L1078.0,840.6L1080.0,846.6L1082.0,852.0L1084.0,856.6L1086.0,860.4L1088.0,863.2L1090.0,865.1L1092.0,866.3L1094.0,867.0L1096.0,867.3L1098.0,867.3L1100.0,866.7L1102.0,865.3L1104.0,863.2L1106.0,860.3L1108.0,857.0L1110.0,853.3L1112.0,849.4L1114.0,845.5L1116.0,841.5L1118.0,837.7L1120.0,834.0L1122.0,830.6L1124.0,827.4L1126.0,824.6L1128.0,822.2L1130.0,820.1L1132.0,818.4L1134.0,817.0L1136.0,815.8L1138.0,814.8L1140.0,814.0L1142.0,813.4L1144.0,813.0L1146.0,812.7L1148.0,812.7L1150.0,812.8L1152.0,813.1L1154.0,813.6L1156.0,814.3L1158.0,815.1L1160.0,816.1L1162.0,817.2L1164.0,818.4L1166.0,819.8L1168.0,821.4L1170.0,823.1L1172.0,824.9L1174.0,826.9L1176.0,829.1L1178.0,831.4L1180.0,833.8L1182.0,836.4L1184.0,839.1L1186.0,842.0L1188.0,845.1L1190.0,848.4L1192.0,851.8L1194.0,855.3L1196.0,858.9L1198.0,862.6L1200.0,866.5L1202.0,870.5L1204.0,874.4L1206.0,878.2L1208.0,881.6L1210.0,884.7L1212.0,887.2L1214.0,889.3L1216.0,890.8L1218.0,891.9L1220.0,892.7L1222.0,893.3L1224.0,893.6L1226.0,893.3L1228.0,892.3L1230.0,890.5L1232.0,887.9L1234.0,884.5L1236.0,880.5L1238.0,876.0L1240.0,871.3L1242.0,866.2L1244.0,860.8L1246.0,854.8L1248.0,848.2L1250.0,841.2L1252.0,834.0L1254.0,826.8L1256.0,819.6L1258.0,812.4L1260.0,805.2L1262.0,798.2L1264.0,791.4L1266.0,784.9L1268.0,778.9L1270.0,773.4L1272.0,768.4L1274.0,764.1L1276.0,760.3L1278.0,756.9L1280.0,754.2L1282.0,752.1L1284.0,750.7L1286.0,750.1L1288.0,750.2L1290.0,751.0L1292.0,752.2L1294.0,753.9L1296.0,756.2L1298.0,758.8L1300.0,762.0L1302.0,765.6L1304.0,769.6L1306.0,773.9L1308.0,778.4L1310.0,783.1L1312.0,787.9L1314.0,792.9L1316.0,797.9L1318.0,802.8L1320.0,807.4L1322.0,811.8L1324.0,815.8L1326.0,819.4L1328.0,822.7L1330.0,825.8L1332.0,828.7L1334.0,831.4L1336.0,834.1L1338.0,836.6L1340.0,839.1L1342.0,841.4L1344.0,843.7L1346.0,846.1L1348.0,848.6L1350.0,851.2L1352.0,854.0L1354.0,856.9L1356.0,860.0L1358.0,863.4L1360.0,867.0L1362.0,871.1L1364.0,875.5L1366.0,880.2L1368.0,885.1L1370.0,890.1L1372.0,895.3L1374.0,900.4L1376.0,905.5L1378.0,910.4L1380.0,914.9L1382.0,919.3L1384.0,923.4L1386.0,927.5L1388.0,931.3L1390.0,934.9L1392.0,938.2L1394.0,941.2L1396.0,943.6L1398.0,945.3L1400.0,946.4L1402.0,947.0L1404.0,947.0L1406.0,946.6L1408.0,945.5L1410.0,943.7L1412.0,941.1L1414.0,937.9L1416.0,934.2L1418.0,930.0L1420.0,925.5L1422.0,920.6L1424.0,915.5L1426.0,909.8L1428.0,903.7L1430.0,897.1L1432.0,890.1L1434.0,882.8L1436.0,875.2L1438.0,867.5L1440.0,859.9L1442.0,852.6L1444.0,845.5L1446.0,838.7L1448.0,832.3L1450.0,826.2L1452.0,820.5L1454.0,815.4L1456.0,810.8L1458.0,806.9L1460.0,803.6L1462.0,800.8L1464.0,798.4L1466.0,796.2L1468.0,794.3L1470.0,792.8L1472.0,791.7L1474.0,790.9L1476.0,790.4L1478.0,790.1L1480.0,790.1L1482.0,790.4L1484.0,791.1L1486.0,792.0L1488.0,793.3L1490.0,795.0L1492.0,797.1L1494.0,799.6L1496.0,802.2L1498.0,804.8L1500.0,807.5L1502.0,810.2L1504.0,812.8L1506.0,815.4L1508.0,817.8L1510.0,819.9L1512.0,821.6L1514.0,823.0L1516.0,824.1L1518.0,825.0L1520.0,825.6L1522.0,826.0L1524.0,826.0L1526.0,825.8L1528.0,825.2L1530.0,824.2L1532.0,822.9L1534.0,821.2L1536.0,819.1L1538.0,816.6L1540.0,813.8L1542.0,810.5L1544.0,806.8L1546.0,802.5L1548.0,798.0L1550.0,793.3L1552.0,788.7L1554.0,784.0L1556.0,779.3L1558.0,774.7L1560.0,770.3L1562.0,766.2L1564.0,762.7L1566.0,759.7L1568.0,757.2L1570.0,755.1L1572.0,753.4L1574.0,752.0L1576.0,751.0L1578.0,750.3L1580.0,749.9L1582.0,749.7L1584.0,749.9L1586.0,750.5L1588.0,751.4L1590.0,752.7L1592.0,754.4L1594.0,756.7L1596.0,760.0L1598.0,764.3L1600.0,769.3L1602.0,774.5L1604.0,779.8L1606.0,785.2L1608.0,790.5L1610.0,795.8L1612.0,801.2L1614.0,806.5L1616.0,811.8L1618.0,817.1L1620.0,822.2L1622.0,826.9L1624.0,831.1L1626.0,834.8L1628.0,838.0L1630.0,840.8L1632.0,843.2L1634.0,845.2L1636.0,846.7L1638.0,847.9L1640.0,848.7L1642.0,849.2L1644.0,849.3L1646.0,849.2L1648.0,848.7L1650.0,848.0L1652.0,847.0L1654.0,845.6L1656.0,844.0L1658.0,842.1L1660.0,840.1L1662.0,838.1L1664.0,836.0L1666.0,833.9L1668.0,831.6L1670.0,829.4L1672.0,827.1L1674.0,824.9L1676.0,822.9L1678.0,821.1L1680.0,819.5L1682.0,818.1L1684.0,816.9L1686.0,815.9L1688.0,815.1L1690.0,814.5L1692.0,814.1L1694.0,813.9L1696.0,813.8L1698.0,813.8L1700.0,813.9L1702.0,814.1L1704.0,814.4L1706.0,814.7L1708.0,815.2L1710.0,815.6L1712.0,816.1L1714.0,816.6L1716.0,817.1L1718.0,817.7L1720.0,818.2L1722.0,818.8L1724.0,819.4L1726.0,820.0L1728.0,820.6L1730.0,821.3L1732.0,821.9L1734.0,822.7L1736.0,823.4L1738.0,824.3L1740.0,825.1L1742.0,826.1L1744.0,827.1L1746.0,828.2L1748.0,829.4L1750.0,830.8L1752.0,832.4L1754.0,834.1L1756.0,836.0L1758.0,838.0L1760.0,840.0L1762.0,842.0L1764.0,844.0L1766.0,846.0L1768.0,848.0L1770.0,850.0L1772.0,852.0L1774.0,854.0L1776.0,856.0L1778.0,857.8L1780.0,859.5L1782.0,861.0L1784.0,862.2L1786.0,863.1L1788.0,863.8L1790.0,864.2L1792.0,864.6L1794.0,864.8L1796.0,864.9L1798.0,865.0L1800.0,865.0L1802.0,864.9L1804.0,864.8L1806.0,864.6L1808.0,864.4L1810.0,864.1L1812.0,863.8L1814.0,863.4L1816.0,863.0L1818.0,862.5L1820.0,862.0L1822.0,861.4L1824.0,860.8L1826.0,860.2L1828.0,859.6L1830.0,859.0L1832.0,858.4L1834.0,857.8L1836.0,857.3L1838.0,856.8L1840.0,856.3L1842.0,855.8L1844.0,855.3L1846.0,854.8L1848.0,854.3L1850.0,853.9L1852.0,853.6L1854.0,853.3L1856.0,853.0L1858.0,852.8L1860.0,852.7L1862.0,852.7L1864.0,852.7L1866.0,852.9L1868.0,853.2L1870.0,853.6L1872.0,854.0L1874.0,854.5L1876.0,855.0L1878.0,855.5L1880.0,856.0L1882.0,856.6L1884.0,857.2L1886.0,857.8L1888.0,858.4L1890.0,859.0L1892.0,859.6L1894.0,860.0L1896.0,860.4L1898.0,860.7L1900.0,861.0L1902.0,861.1L1904.0,861.2L1906.0,861.2L1908.0,861.2L1910.0,861.2L1912.0,861.1L1914.0,860.9L1916.0,860.8L1918.0,860.5L1920.0,860.2L1922.0,859.9L1924.0,859.5L1926.0,859.0L1928.0,858.4L1930.0,857.8L1932.0,857.1L1934.0,856.3L1936.0,855.4L1938.0,854.4L1940.0,853.3L1942.0,852.1L1944.0,850.9L1946.0,849.5L1948.0,848.1L1950.0,846.7L1952.0,845.3L1954.0,843.9L1956.0,842.5L1958.0,841.2L1960.0,839.9L1962.0,838.6L1964.0,837.4L1966.0,836.3L1968.0,835.4L1970.0,834.6L1972.0,834.0L1974.0,833.6L1976.0,833.4L1978.0,833.2L1980.0,833.1L1982.0,832.9L1984.0,832.9L1986.0,832.8L1988.0,832.9L1990.0,833.0L1992.0,833.2L1994.0,833.6L1996.0,834.2L1998.0,834.9L2000.0,835.8L2002.0,836.9L2004.0,838.1L2006.0,839.3L2008.0,840.5L2010.0,841.7L2012.0,842.8L2014.0,844.0L2016.0,845.2L2018.0,846.4L2020.0,847.6L2022.0,848.8L2024.0,850.0L2026.0,851.2L2028.0,852.3L2030.0,853.2L2032.0,854.1L2034.0,854.8L2036.0,855.5L2038.0,856.1L2040.0,856.6L2042.0,857.1L2044.0,857.6L2046.0,858.0L2048.0,858.3L2050.0,858.6L2052.0,858.8L2054.0,859.0L2056.0,859.1L2058.0,859.3L2060.0,859.4L2062.0,859.5L2064.0,859.6L2066.0,859.7L2068.0,859.7L2070.0,859.8L2072.0,859.8L2074.0,859.8L2076.0,859.9L2078.0,859.9L2080.0,859.9L2082.0,859.9L2084.0,859.9L2086.0,860.0L2088.0,860.0L2090.0,860.0L2092.0,860.0L2094.0,860.0L2096.0,860.0L2098.0,860.0L2100.0,860.0L2102.0,860.0L2104.0,860.0L2106.0,860.0L2108.0,860.0L2110.0,860.0L2112.0,860.0L2114.0,860.0L2116.0,860.0L2118.0,860.0L2120.0,860.0L2122.0,860.0L2124.0,860.0L2126.0,860.0L2128.0,860.0L2130.0,860.0L2132.0,860.0L2134.0,860.0L2136.0,860.0L2138.0,860.0L2140.0,860.0L2142.0,860.0L2144.0,860.0L2146.0,860.0L2148.0,860.0L2150.0,860.0L2152.0,860.0L2154.0,860.0L2156.0,860.0L2158.0,860.0L2160.0,860.0L2162.0,860.0L2164.0,860.0L2166.0,860.0L2168.0,860.0L2170.0,860.0L2172.0,860.0L2174.0,860.0L2176.0,860.0L2178.0,860.0L2180.0,860.0L2182.0,860.0L2184.0,860.0L2186.0,860.0L2188.0,860.0L2190.0,860.0L2192.0,860.0L2194.0,860.0L2196.0,860.0L2198.0,860.0L2200.0,860.0L2202.0,860.0L2204.0,860.0L2206.0,860.0L2208.0,860.0L2210.0,860.0L2212.0,860.0L2214.0,860.0L2216.0,860.0L2218.0,860.0L2220.0,860.0L2222.0,860.0L2224.0,860.0L2226.0,860.0L2228.0,860.0L2230.0,860.0L2232.0,860.0L2234.0,860.0L2236.0,860.0L2238.0,860.0L2240.0,860.0L2242.0,860.0L2244.0,860.0L2246.0,860.0L2248.0,860.0L2250.0,860.0L2252.0,860.0L2254.0,860.0L2256.0,860.0L2258.0,860.0L2260.0,860.0L2262.0,860.0L2264.0,860.0L2266.0,860.0L2268.0,860.0L2270.0,860.0L2272.0,860.0L2274.0,860.0L2276.0,860.0L2276.0,859.5Z" fill="#00ffff"/>
<path d="M210.0,770.0L212.0,770.0L214.0,770.0L216.0,769.8L218.0,769.3L220.0,768.3L222.0,767.1L224.0,766.0L226.0,765.2L228.0,764.6L230.0,764.2L232.0,764.0L234.0,763.8L236.0,763.8L238.0,764.0L240.0,764.2L242.0,764.7L244.0,765.5L246.0,766.6L248.0,768.2L250.0,770.3L252.0,772.8L254.0,775.6L256.0,778.6L258.0,781.8L260.0,785.0L262.0,788.3L264.0,791.6L266.0,794.9L268.0,797.9L270.0,800.6L272.0,803.1L274.0,805.1L276.0,806.8L278.0,808.0L280.0,808.8L282.0,809.4L284.0,809.7L286.0,809.6L288.0,809.1L290.0,808.2L292.0,806.9L294.0,805.3L296.0,803.6L298.0,801.7L300.0,799.7L302.0,797.8L304.0,796.2L306.0,794.9L308.0,794.0L310.0,793.4L312.0,793.1L314.0,793.1L316.0,793.5L318.0,794.3L320.0,795.7L322.0,797.7L324.0,800.5L326.0,804.2L328.0,808.3L330.0,812.7L332.0,817.3L334.0,822.0L336.0,827.0L338.0,832.3L340.0,837.7L342.0,843.3L344.0,848.9L346.0,854.5L348.0,860.0L350.0,865.5L352.0,870.6L354.0,875.4L356.0,879.6L358.0,883.1L360.0,886.1L362.0,888.4L364.0,890.1L366.0,891.6L368.0,892.8L370.0,893.9L372.0,894.8L374.0,895.6L376.0,896.3L378.0,896.9L380.0,897.5L382.0,898.2L384.0,899.1L386.0,900.2L388.0,901.5L390.0,903.0L392.0,904.9L394.0,907.0L396.0,909.4L398.0,912.0L400.0,914.8L402.0,917.8L404.0,920.9L406.0,924.2L408.0,927.5L410.0,930.7L412.0,933.7L414.0,936.3L416.0,938.6L418.0,940.6L420.0,942.2L422.0,943.4L424.0,944.2L426.0,944.6L428.0,944.6L430.0,944.2L432.0,943.1L434.0,941.6L436.0,939.5L438.0,936.9L440.0,933.8L442.0,930.2L444.0,926.1L446.0,921.7L448.0,916.8L450.0,911.6L452.0,906.1L454.0,900.2L456.0,893.9L458.0,887.1L460.0,880.1L462.0,872.9L464.0,865.7L466.0,858.5L468.0,851.3L470.0,844.1L472.0,836.9L474.0,829.8L476.0,822.8L478.0,816.2L480.0,810.0L482.0,804.3L484.0,798.9L486.0,793.8L488.0,789.1L490.0,785.0L492.0,781.5L494.0,778.7L496.0,776.7L498.0,775.3L500.0,774.3L502.0,773.9L504.0,773.9L506.0,774.2L508.0,774.9L510.0,775.7L512.0,776.7L514.0,778.0L516.0,779.4L518.0,780.9L520.0,782.4L522.0,783.9L524.0,785.3L526.0,786.6L528.0,787.9L530.0,789.2L532.0,790.4L534.0,791.5L536.0,792.5L538.0,793.5L540.0,794.5L542.0,795.5L544.0,796.5L546.0,797.5L548.0,798.6L550.0,799.7L552.0,800.9L554.0,802.0L556.0,803.1L558.0,804.2L560.0,805.3L562.0,806.3L564.0,807.3L566.0,808.3L568.0,809.2L570.0,810.1L572.0,810.9L574.0,811.5L576.0,812.0L578.0,812.3L580.0,812.5L582.0,812.4L584.0,812.2L586.0,811.8L588.0,811.3L590.0,810.7L592.0,810.1L594.0,809.3L596.0,808.5L598.0,807.7L600.0,806.7L602.0,805.8L604.0,804.8L606.0,803.7L608.0,802.8L610.0,801.8L612.0,800.9L614.0,800.0L616.0,799.1L618.0,798.3L620.0,797.6L622.0,797.0L624.0,796.5L626.0,796.1L628.0,795.9L630.0,795.6L632.0,795.5L634.0,795.4L636.0,795.4L638.0,795.5L640.0,795.7L642.0,796.0L644.0,796.3L646.0,796.8L648.0,797.4L650.0,798.1L652.0,799.0L654.0,799.9L656.0,801.0L658.0,802.3L660.0,803.6L662.0,805.1L664.0,806.6L666.0,808.1L668.0,809.6L670.0,811.0L672.0,812.3L674.0,813.6L676.0,814.8L678.0,815.8L680.0,816.7L682.0,817.3L684.0,817.7L686.0,817.8L688.0,817.7L690.0,817.3L692.0,816.5L694.0,815.3L696.0,813.7L698.0,811.5L700.0,808.7L702.0,805.0L704.0,800.8L706.0,796.2L708.0,791.6L710.0,786.9L712.0,782.2L714.0,777.6L716.0,772.8L718.0,767.9L720.0,762.8L722.0,757.4L724.0,752.2L726.0,747.2L728.0,742.6L730.0,738.4L732.0,734.5L734.0,731.1L736.0,728.1L738.0,725.7L740.0,723.9L742.0,722.5L744.0,721.4L746.0,720.5L748.0,719.7L750.0,719.2L752.0,718.7L754.0,718.5L756.0,718.5L758.0,718.8L760.0,719.5L762.0,720.5L764.0,721.8L766.0,723.5L768.0,725.5L770.0,727.7L772.0,730.3L774.0,733.2L776.0,736.5L778.0,740.5L780.0,745.0L782.0,750.1L784.0,755.7L786.0,761.8L788.0,768.2L790.0,774.8L792.0,781.7L794.0,788.8L796.0,796.0L798.0,803.3L800.0,810.5L802.0,817.6L804.0,824.3L806.0,830.9L808.0,837.4L810.0,843.6L812.0,849.7L814.0,855.6L816.0,861.3L818.0,866.8L820.0,872.2L822.0,877.4L824.0,882.4L826.0,887.2L828.0,891.8L830.0,896.3L832.0,900.5L834.0,904.6L836.0,908.6L838.0,912.4L840.0,916.3L842.0,920.0L844.0,923.5L846.0,926.7L848.0,929.6L850.0,932.0L852.0,933.9L854.0,935.5L856.0,936.8L858.0,937.8L860.0,938.5L862.0,939.0L864.0,939.1L866.0,939.0L868.0,938.5L870.0,937.4L872.0,935.7L874.0,933.2L876.0,930.3L878.0,927.0L880.0,923.3L882.0,919.5L884.0,915.6L886.0,911.6L888.0,907.4L890.0,903.0L892.0,898.4L894.0,893.6L896.0,888.6L898.0,883.3L900.0,878.0L902.0,872.7L904.0,867.4L906.0,862.1L908.0,856.7L910.0,851.2L912.0,845.5L914.0,839.6L916.0,833.6L918.0,827.5L920.0,821.5L922.0,815.5L924.0,809.5L926.0,803.5L928.0,797.5L930.0,791.5L932.0,785.3L934.0,778.9L936.0,772.0L938.0,764.6L940.0,756.9L942.0,749.0L944.0,741.0L946.0,733.0L948.0,725.0L950.0,717.0L952.0,709.0L954.0,701.1L956.0,693.2L958.0,685.6L960.0,678.2L962.0,671.1L964.0,664.2L966.0,657.4L968.0,650.7L970.0,644.2L972.0,637.9L974.0,631.8L976.0,625.9L978.0,620.3L980.0,615.2L982.0,610.7L984.0,606.7L986.0,603.3L988.0,600.5L990.0,598.2L992.0,596.5L994.0,595.3L996.0,594.6L998.0,594.1L1000.0,593.9L1002.0,594.0L1004.0,594.3L1006.0,594.9L1008.0,595.9L1010.0,597.5L1012.0,599.7L1014.0,602.8L1016.0,606.5L1018.0,611.0L1020.0,616.2L1022.0,622.2L1024.0,628.7L1026.0,635.7L1028.0,643.1L1030.0,650.7L1032.0,658.6L1034.0,666.5L1036.0,674.5L1038.0,682.5L1040.0,690.4L1042.0,698.4L1044.0,706.5L1046.0,714.8L1048.0,723.3L1050.0,731.9L1052.0,740.7L1054.0,749.4L1056.0,758.2L1058.0,766.8L1060.0,775.1L1062.0,783.0L1064.0,790.5L1066.0,797.8L1068.0,805.1L1070.0,812.3L1072.0,819.7L1074.0,826.9L1076.0,833.9L1078.0,840.6L1080.0,846.6L1082.0,852.0L1084.0,856.6L1086.0,860.4L1088.0,863.2L1090.0,865.1L1092.0,866.3L1094.0,867.0L1096.0,867.3L1098.0,867.3L1100.0,866.7L1102.0,865.3L1104.0,863.2L1106.0,860.3L1108.0,857.0L1110.0,853.3L1112.0,849.4L1114.0,845.5L1116.0,841.5L1118.0,837.7L1120.0,834.0L1122.0,830.6L1124.0,827.4L1126.0,824.6L1128.0,822.2L1130.0,820.1L1132.0,818.4L1134.0,817.0L1136.0,815.8L1138.0,814.8L1140.0,814.0L1142.0,813.4L1144.0,813.0L1146.0,812.7L1148.0,812.7L1150.0,812.8L1152.0,813.1L1154.0,813.6L1156.0,814.3L1158.0,815.1L1160.0,816.1L1162.0,817.2L1164.0,818.4L1166.0,819.8L1168.0,821.4L1170.0,823.1L1172.0,824.9L1174.0,826.9L1176.0,829.1L1178.0,831.4L1180.0,833.8L1182.0,836.4L1184.0,839.1L1186.0,842.0L1188.0,845.1L1190.0,848.4L1192.0,851.8L1194.0,855.3L1196.0,858.9L1198.0,862.6L1200.0,866.5L1202.0,870.5L1204.0,874.4L1206.0,878.2L1208.0,881.6L1210.0,884.7L1212.0,887.2L1214.0,889.3L1216.0,890.8L1218.0,891.9L1220.0,892.7L1222.0,893.3L1224.0,893.6L1226.0,893.3L1228.0,892.3L1230.0,890.5L1232.0,887.9L1234.0,884.5L1236.0,880.5L1238.0,876.0L1240.0,871.3L1242.0,866.2L1244.0,860.8L1246.0,854.8L1248.0,848.2L1250.0,841.2L1252.0,834.0L1254.0,826.8L1256.0,819.6L1258.0,812.4L1260.0,805.2L1262.0,798.2L1264.0,791.4L1266.0,784.9L1268.0,778.9L1270.0,773.4L1272.0,768.4L1274.0,764.1L1276.0,760.3L1278.0,756.9L1280.0,754.2L1282.0,752.1L1284.0,750.7L1286.0,750.1L1288.0,750.2L1290.0,751.0L1292.0,752.2L1294.0,753.9L1296.0,756.2L1298.0,758.8L1300.0,762.0L1302.0,765.6L1304.0,769.6L1306.0,773.9L1308.0,778.4L1310.0,783.1L1312.0,787.9L1314.0,792.9L1316.0,797.9L1318.0,802.8L1320.0,807.4L1322.0,811.8L1324.0,815.8L1326.0,819.4L1328.0,822.7L1330.0,825.8L1332.0,828.7L1334.0,831.4L1336.0,834.1L1338.0,836.6L1340.0,839.1L1342.0,841.4L1344.0,843.7L1346.0,846.1L1348.0,848.6L1350.0,851.2L1352.0,854.0L1354.0,856.9L1356.0,860.0L1358.0,863.4L1360.0,867.0L1362.0,871.1L1364.0,875.5L1366.0,880.2L1368.0,885.1L1370.0,890.1L1372.0,895.3L1374.0,900.4L1376.0,905.5L1378.0,910.4L1380.0,914.9L1382.0,919.3L1384.0,923.4L1386.0,927.5L1388.0,931.3L1390.0,934.9L1392.0,938.2L1394.0,941.2L1396.0,943.6L1398.0,945.3L1400.0,946.4L1402.0,947.0L1404.0,947.0L1406.0,946.6L1408.0,945.5L1410.0,943.7L1412.0,941.1L1414.0,937.9L1416.0,934.2L1418.0,930.0L1420.0,925.5L1422.0,920.6L1424.0,915.5L1426.0,909.8L1428.0,903.7L1430.0,897.1L1432.0,890.1L1434.0,882.8L1436.0,875.2L1438.0,867.5L1440.0,859.9L1442.0,852.6L1444.0,845.5L1446.0,838.7L1448.0,832.3L1450.0,826.2L1452.0,820.5L1454.0,815.4L1456.0,810.8L1458.0,806.9L1460.0,803.6L1462.0,800.8L1464.0,798.4L1466.0,796.2L1468.0,794.3L1470.0,792.8L1472.0,791.7L1474.0,790.9L1476.0,790.4L1478.0,790.1L1480.0,790.1L1482.0,790.4L1484.0,791.1L1486.0,792.0L1488.0,793.3L1490.0,795.0L1492.0,797.1L1494.0,799.6L1496.0,802.2L1498.0,804.8L1500.0,807.5L1502.0,810.2L1504.0,812.8L1506.0,815.4L1508.0,817.8L1510.0,819.9L1512.0,821.6L1514.0,823.0L1516.0,824.1L1518.0,825.0L1520.0,825.6L1522.0,826.0L1524.0,826.0L1526.0,825.8L1528.0,825.2L1530.0,824.2L1532.0,822.9L1534.0,821.2L1536.0,819.1L1538.0,816.6L1540.0,813.8L1542.0,810.5L1544.0,806.8L1546.0,802.5L1548.0,798.0L1550.0,793.3L1552.0,788.7L1554.0,784.0L1556.0,779.3L1558.0,774.7L1560.0,770.3L1562.0,766.2L1564.0,762.7L1566.0,759.7L1568.0,757.2L1570.0,755.1L1572.0,753.4L1574.0,752.0L1576.0,751.0L1578.0,750.3L1580.0,749.9L1582.0,749.7L1584.0,749.9L1586.0,750.5L1588.0,751.4L1590.0,752.7L1592.0,754.4L1594.0,756.7L1596.0,760.0L1598.0,764.3L1600.0,769.3L1602.0,774.5L1604.0,779.8L1606.0,785.2L1608.0,790.5L1610.0,795.8L1612.0,801.2L1614.0,806.5L1616.0,811.8L1618.0,817.1L1620.0,822.2L1622.0,826.9L1624.0,831.1L1626.0,834.8L1628.0,838.0L1630.0,840.8L1632.0,843.2L1634.0,845.2L1636.0,846.7L1638.0,847.9L1640.0,848.7L1642.0,849.2L1644.0,849.3L1646.0,849.2L1648.0,848.7L1650.0,848.0L1652.0,847.0L1654.0,845.6L1656.0,844.0L1658.0,842.1L1660.0,840.1L1662.0,838.1L1664.0,836.0L1666.0,833.9L1668.0,831.6L1670.0,829.4L1672.0,827.1L1674.0,824.9L1676.0,822.9L1678.0,821.1L1680.0,819.5L1682.0,818.1L1684.0,816.9L1686.0,815.9L1688.0,815.1L1690.0,814.5L1692.0,814.1L1694.0,813.9L1696.0,813.8L1698.0,813.8L1700.0,813.9L1702.0,814.1L1704.0,814.4L1706.0,814.7L1708.0,815.2L1710.0,815.6L1712.0,816.1L1714.0,816.6L1716.0,817.1L1718.0,817.7L1720.0,818.2L1722.0,818.8L1724.0,819.4L1726.0,820.0L1728.0,820.6L1730.0,821.3L1732.0,821.9L1734.0,822.7L1736.0,823.4L1738.0,824.3L1740.0,825.1L1742.0,826.1L1744.0,827.1L1746.0,828.2L1748.0,829.4L1750.0,830.8L1752.0,832.4L1754.0,834.1L1756.0,836.0L1758.0,838.0L1760.0,840.0L1762.0,842.0L1764.0,844.0L1766.0,846.0L1768.0,848.0L1770.0,850.0L1772.0,852.0L1774.0,854.0L1776.0,856.0L1778.0,857.8L1780.0,859.5L1782.0,861.0L1784.0,862.2L1786.0,863.1L1788.0,863.8L1790.0,864.2L1792.0,864.6L1794.0,864.8L1796.0,864.9L1798.0,865.0L1800.0,865.0L1802.0,864.9L1804.0,864.8L1806.0,864.6L1808.0,864.4L1810.0,864.1L1812.0,863.8L1814.0,863.4L1816.0,863.0L1818.0,862.5L1820.0,862.0L1822.0,861.4L1824.0,860.8L1826.0,860.2L1828.0,859.6L1830.0,859.0L1832.0,858.4L1834.0,857.8L1836.0,857.3L1838.0,856.8L1840.0,856.3L1842.0,855.8L1844.0,855.3L1846.0,854.8L1848.0,854.3L1850.0,853.9L1852.0,853.6L1854.0,853.3L1856.0,853.0L1858.0,852.8L1860.0,852.7L1862.0,852.7L1864.0,852.7L1866.0,852.9L1868.0,853.2L1870.0,853.6L1872.0,854.0L1874.0,854.5L1876.0,855.0L1878.0,855.5L1880.0,856.0L1882.0,856.6L1884.0,857.2L1886.0,857.8L1888.0,858.4L1890.0,859.0L1892.0,859.6L1894.0,860.0L1896.0,860.4L1898.0,860.7L1900.0,861.0L1902.0,861.1L1904.0,861.2L1906.0,861.2L1908.0,861.2L1910.0,861.2L1912.0,861.1L1914.0,860.9L1916.0,860.8L1918.0,860.5L1920.0,860.2L1922.0,859.9L1924.0,859.5L1926.0,859.0L1928.0,858.4L1930.0,857.8L1932.0,857.1L1934.0,856.3L1936.0,855.4L1938.0,854.4L1940.0,853.3L1942.0,852.1L1944.0,850.9L1946.0,849.5L1948.0,848.1L1950.0,846.7L1952.0,845.3L1954.0,843.9L1956.0,842.5L1958.0,841.2L1960.0,839.9L1962.0,838.6L1964.0,837.4L1966.0,836.3L1968.0,835.4L1970.0,834.6L1972.0,834.0L1974.0,833.6L1976.0,833.4L1978.0,833.2L1980.0,833.1L1982.0,832.9L1984.0,832.9L1986.0,832.8L1988.0,832.9L1990.0,833.0L1992.0,833.2L1994.0,833.6L1996.0,834.2L1998.0,834.9L2000.0,835.8L2002.0,836.9L2004.0,838.1L2006.0,839.3L2008.0,840.5L2010.0,841.7L2012.0,842.8L2014.0,844.0L2016.0,845.2L2018.0,846.4L2020.0,847.6L2022.0,848.8L2024.0,850.0L2026.0,851.2L2028.0,852.3L2030.0,853.2L2032.0,854.1L2034.0,854.8L2036.0,855.5L2038.0,856.1L2040.0,856.6L2042.0,857.1L2044.0,857.6L2046.0,858.0L2048.0,858.3L2050.0,858.6L2052.0,858.8L2054.0,859.0L2056.0,859.1L2058.0,859.3L2060.0,859.4L2062.0,859.5L2064.0,859.6L2066.0,859.7L2068.0,859.7L2070.0,859.8L2072.0,859.8L2074.0,859.8L2076.0,859.9L2078.0,859.9L2080.0,859.9L2082.0,859.9L2084.0,859.9L2086.0,860.0L2088.0,860.0L2090.0,860.0L2092.0,860.0L2094.0,860.0L2096.0,860.0L2098.0,860.0L2100.0,860.0L2102.0,860.0L2104.0,860.0L2106.0,860.0L2108.0,860.0L2110.0,860.0L2112.0,860.0L2114.0,860.0L2116.0,860.0L2118.0,860.0L2120.0,860.0L2122.0,860.0L2124.0,860.0L2126.0,860.0L2128.0,860.0L2130.0,860.0L2132.0,860.0L2134.0,860.0L2136.0,860.0L2138.0,860.0L2140.0,860.0L2142.0,860.0L2144.0,860.0L2146.0,860.0L2148.0,860.0L2150.0,860.0L2152.0,860.0L2154.0,860.0L2156.0,860.0L2158.0,860.0L2160.0,860.0L2162.0,860.0L2164.0,860.0L2166.0,860.0L2168.0,860.0L2170.0,860.0L2172.0,860.0L2174.0,860.0L2176.0,860.0L2178.0,860.0L2180.0,860.0L2182.0,860.0L2184.0,860.0L2186.0,860.0L2188.0,860.0L2190.0,860.0L2192.0,860.0L2194.0,860.0L2196.0,860.0L2198.0,860.0L2200.0,860.0L2202.0,860.0L2204.0,860.0L2206.0,860.0L2208.0,860.0L2210.0,860.0L2212.0,860.0L2214.0,860.0L2216.0,860.0L2218.0,860.0L2220.0,860.0L2222.0,860.0L2224.0,860.0L2226.0,860.0L2228.0,860.0L2230.0,860.0L2232.0,860.0L2234.0,860.0L2236.0,860.0L2238.0,860.0L2240.0,860.0L2242.0,860.0L2244.0,860.0L2246.0,860.0L2248.0,860.0L2250.0,860.0L2252.0,860.0L2254.0,860.0L2256.0,860.0L2258.0,860.0L2260.0,860.0L2262.0,860.0L2264.0,860.0L2266.0,860.0L2268.0,860.0L2270.0,860.0L2272.0,860.0L2274.0,860.0L2276.0,860.0L2278.0,860.0L2280.0,860.0L2282.0,860.0" fill="none" stroke="#0c0cf0" stroke-width="11.4" stroke-linejoin="round"/>
<line x1="211.5" y1="859.9" x2="2277" y2="859.9" stroke="#000" stroke-width="6" stroke-dasharray="28.6 18.4"/>
</g>
<g id="axes" stroke="#000" stroke-width="7.0" fill="none">
<rect x="214.6" y="33.8" width="2062.4" height="1453.2"/>
<line x1="214.6" y1="517.9" x2="2277.0" y2="517.9"/>
<line x1="214.6" y1="1003.0" x2="2277.0" y2="1003.0"/>
<line x1="472.2" y1="517.9" x2="472.2" y2="493.4"/>
<line x1="730.2" y1="517.9" x2="730.2" y2="473.4"/>
<line x1="988.1" y1="517.9" x2="988.1" y2="493.4"/>
<line x1="1246.0" y1="517.9" x2="1246.0" y2="473.4"/>
<line x1="1503.9" y1="517.9" x2="1503.9" y2="493.4"/>
<line x1="1761.8" y1="517.9" x2="1761.8" y2="473.4"/>
<line x1="2019.8" y1="517.9" x2="2019.8" y2="493.4"/>
<line x1="472.2" y1="1003.0" x2="472.2" y2="978.5"/>
<line x1="730.2" y1="1003.0" x2="730.2" y2="958.5"/>
<line x1="988.1" y1="1003.0" x2="988.1" y2="978.5"/>
<line x1="1246.0" y1="1003.0" x2="1246.0" y2="958.5"/>
<line x1="1503.9" y1="1003.0" x2="1503.9" y2="978.5"/>
<line x1="1761.8" y1="1003.0" x2="1761.8" y2="958.5"/>
<line x1="2019.8" y1="1003.0" x2="2019.8" y2="978.5"/>
<line x1="472.2" y1="1487.0" x2="472.2" y2="1462.5"/>
<line x1="730.2" y1="1487.0" x2="730.2" y2="1442.5"/>
<line x1="988.1" y1="1487.0" x2="988.1" y2="1462.5"/>
<line x1="1246.0" y1="1487.0" x2="1246.0" y2="1442.5"/>
<line x1="1503.9" y1="1487.0" x2="1503.9" y2="1462.5"/>
<line x1="1761.8" y1="1487.0" x2="1761.8" y2="1442.5"/>
<line x1="2019.8" y1="1487.0" x2="2019.8" y2="1462.5"/>
<line x1="214.6" y1="417.0" x2="239.1" y2="417.0"/>
<line x1="214.6" y1="316.2" x2="259.1" y2="316.2"/>
<line x1="214.6" y1="215.3" x2="239.1" y2="215.3"/>
<line x1="214.6" y1="114.4" x2="259.1" y2="114.4"/>
<line x1="214.6" y1="1386.2" x2="239.1" y2="1386.2"/>
<line x1="214.6" y1="1285.3" x2="259.1" y2="1285.3"/>
<line x1="214.6" y1="1184.5" x2="239.1" y2="1184.5"/>
<line x1="214.6" y1="1083.7" x2="259.1" y2="1083.7"/>
<line x1="214.6" y1="974.5" x2="259.1" y2="974.5"/>
<line x1="214.6" y1="917.4" x2="239.1" y2="917.4"/>
<line x1="214.6" y1="860.3" x2="259.1" y2="860.3"/>
<line x1="214.6" y1="803.3" x2="239.1" y2="803.3"/>
<line x1="214.6" y1="746.2" x2="259.1" y2="746.2"/>
<line x1="214.6" y1="689.1" x2="239.1" y2="689.1"/>
<line x1="214.6" y1="632.0" x2="259.1" y2="632.0"/>
<line x1="214.6" y1="575.0" x2="239.1" y2="575.0"/>
</g>
<g id="legendlines" fill="none">
<line x1="1749" y1="101.4" x2="1835" y2="101.4" stroke="#ffa500" stroke-width="2.6"/>
<line x1="1749" y1="181.3" x2="1835" y2="181.3" stroke="#0808e6" stroke-width="3"/>
<line x1="1748" y1="261.7" x2="1837" y2="261.7" stroke="#ee1010" stroke-width="6"/>
<line x1="1422.5" y1="635.5" x2="1515" y2="635.5" stroke="#0c0cf0" stroke-width="9.5"/>
<line x1="1756" y1="1082.5" x2="1843" y2="1082.5" stroke="#22ee22" stroke-width="3"/>
<line x1="1754" y1="1163.5" x2="1846" y2="1163.5" stroke="#0000ff" stroke-width="9"/>
<line x1="1755" y1="1243.75" x2="1844" y2="1243.75" stroke="#ee1010" stroke-width="5.5"/>
</g>
<g id="text" font-family="'Liberation Serif', 'Times New Roman', serif" fill="#000">
<text x="196.5" y="542.4" font-size="74.0" text-anchor="end">0</text>
<text x="196.5" y="1511.5" font-size="74.0" text-anchor="end">0</text>
<text x="196.5" y="340.7" font-size="74.0" text-anchor="end">50</text>
<text x="196.5" y="1309.8" font-size="74.0" text-anchor="end">50</text>
<text x="196.5" y="138.9" font-size="74.0" text-anchor="end">100</text>
<text x="196.5" y="1108.2" font-size="74.0" text-anchor="end">100</text>
<text x="196.5" y="999.0" font-size="74.0" text-anchor="end">-20</text>
<text x="196.5" y="884.8" font-size="74.0" text-anchor="end">0</text>
<text x="196.5" y="770.7" font-size="74.0" text-anchor="end">20</text>
<text x="196.5" y="656.5" font-size="74.0" text-anchor="end">40</text>
<text x="215.3" y="1549.0" font-size="60.0" text-anchor="middle">-3</text>
<text x="731.2" y="1549.0" font-size="60.0" text-anchor="middle">-2.5</text>
<text x="1247.0" y="1549.0" font-size="60.0" text-anchor="middle">-2</text>
<text x="1762.8" y="1549.0" font-size="60.0" text-anchor="middle">-1.5</text>
<text x="2278.7" y="1549.0" font-size="60.0" text-anchor="middle">-1</text>
<text x="774.9" y="1628.4" font-size="88.0" text-anchor="start">Energy - Energy</text>
<text x="1354.2" y="1661.4" font-size="61.0" text-anchor="start">HOMO</text>
<text x="1563.4" y="1628.4" font-size="88.0" text-anchor="start">[eV]</text>
<text transform="translate(75.0,756.5) rotate(-90)" font-size="87.5" text-anchor="middle">Atomistic PDOS</text>
<text x="281.6" y="135.0" font-size="94.0" text-anchor="start">Au</text>
<text x="408.3" y="163.8" font-size="72.5" text-anchor="start">core</text>
<text x="271.1" y="1099.2" font-size="94.0" text-anchor="start">Ag</text>
<text x="399.8" y="1124.2" font-size="72.0" text-anchor="start">core</text>
<text x="1877.1" y="112.0" font-size="72.0" text-anchor="start">Au</text>
<text x="1964.9" y="141.9" font-size="51.6" text-anchor="start">int</text>
<text x="2036.8" y="112.0" font-size="72.0" text-anchor="start">(d)</text>
<text x="1877.1" y="192.6" font-size="72.0" text-anchor="start">Ag</text>
<text x="1964.9" y="221.5" font-size="51.6" text-anchor="start">surface</text>
<text x="2130.8" y="192.6" font-size="72.0" text-anchor="start">(d)</text>
<text x="1877.1" y="272.8" font-size="72.0" text-anchor="start">Au</text>
<text x="1964.9" y="301.9" font-size="51.6" text-anchor="start">surface</text>
<text x="2130.8" y="272.8" font-size="72.0" text-anchor="start">(d)</text>
<text x="1884.0" y="1093.6" font-size="72.0" text-anchor="start">Ag</text>
<text x="1972.0" y="1122.0" font-size="51.6" text-anchor="start">int</text>
<text x="2044.8" y="1093.6" font-size="72.0" text-anchor="start">(d)</text>
<text x="1884.0" y="1174.2" font-size="72.0" text-anchor="start">Ag</text>
<text x="1972.7" y="1201.8" font-size="51.6" text-anchor="start">surface</text>
<text x="2138.5" y="1174.2" font-size="72.0" text-anchor="start">(d)</text>
<text x="1884.0" y="1254.8" font-size="72.0" text-anchor="start">Au</text>
<text x="1972.7" y="1283.0" font-size="51.6" text-anchor="start">surface</text>
<text x="2138.5" y="1254.8" font-size="72.0" text-anchor="start">(d)</text>
<text x="1551.6" y="617.0" font-size="73.0" text-anchor="start">Difference all d surface,</text>
<text x="1557.8" y="684.9" font-size="74.0" text-anchor="start">Ag</text>
<text x="1656.0" y="704.4" font-size="56.0" text-anchor="start">core</text>
<text x="1777.0" y="688.0" font-size="74.0" text-anchor="start">-</text>
<text x="1822.4" y="688.8" font-size="76.0" text-anchor="start">Au</text>
<text x="1926.4" y="711.7" font-size="58.0" text-anchor="start">core</text>
</g>
</svg>
</body></html>
